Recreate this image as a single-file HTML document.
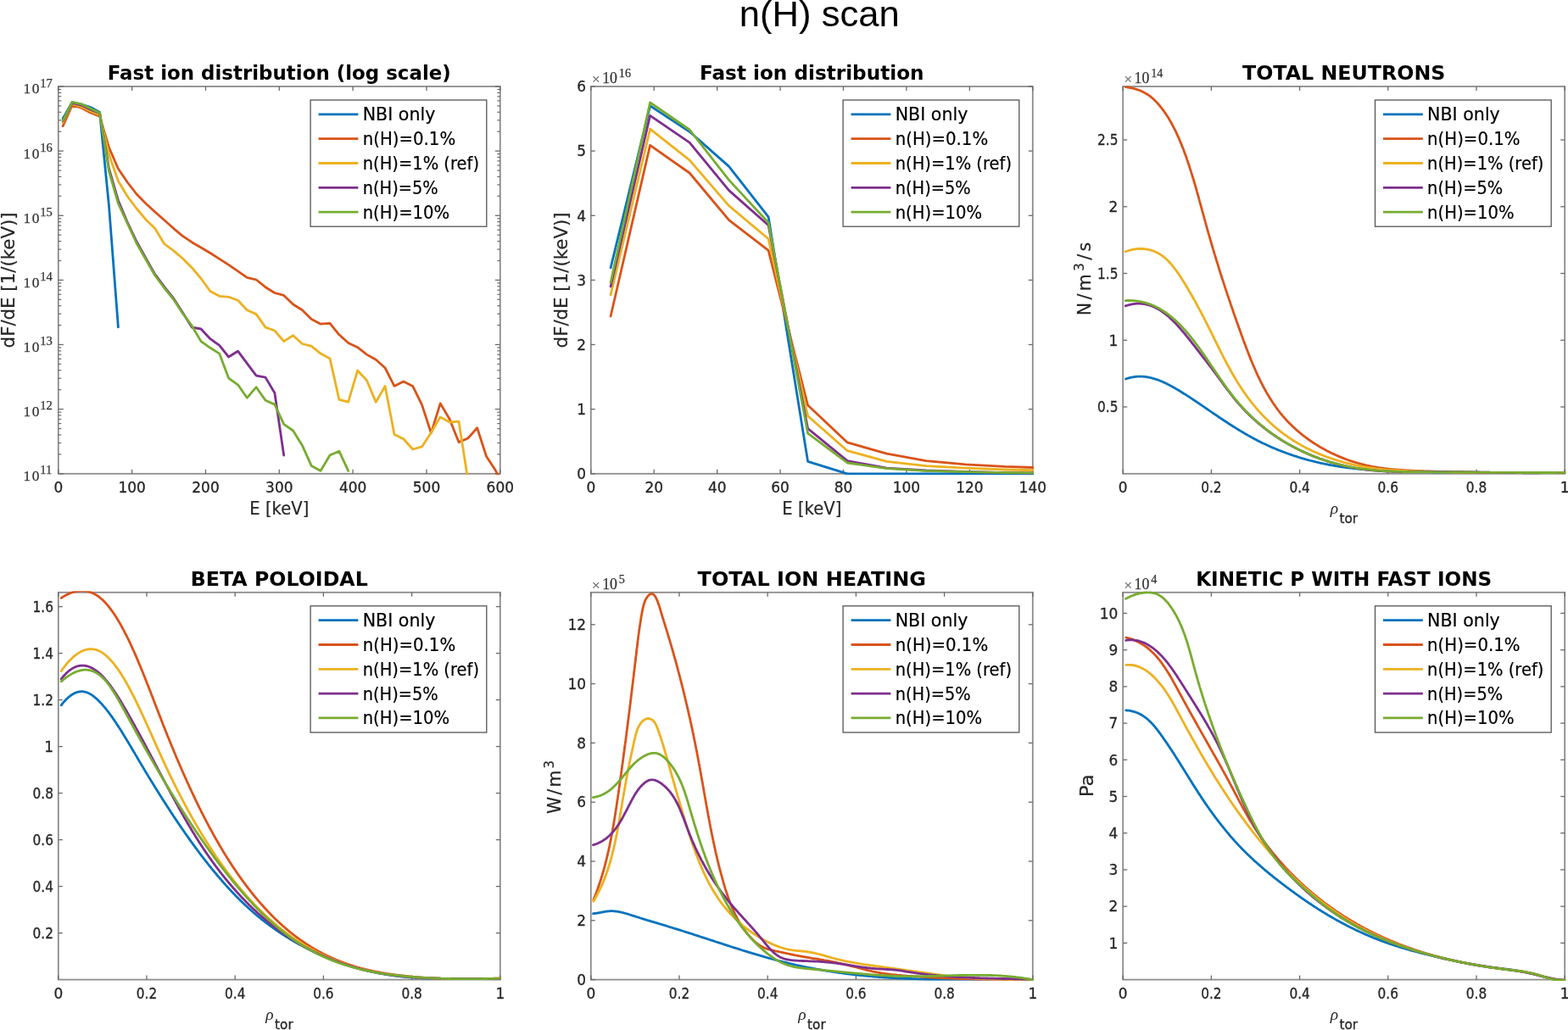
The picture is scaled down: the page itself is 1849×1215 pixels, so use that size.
<!DOCTYPE html><html><head><meta charset="utf-8"><title>n(H) scan</title><style>
html,body{margin:0;padding:0;background:#fff;}svg{display:block;}
.tk{font-family:'DejaVu Sans', 'Liberation Sans', sans-serif;font-size:17px;fill:#262626;stroke:#262626;stroke-width:0.3px;}
.ti{font-family:'DejaVu Sans', 'Liberation Sans', sans-serif;font-size:23px;font-weight:bold;fill:#000;}
.lg{font-family:'DejaVu Sans', 'Liberation Sans', sans-serif;font-size:21px;fill:#000;stroke:#000;stroke-width:0.2px;}
.yl{font-family:'DejaVu Sans', 'Liberation Sans', sans-serif;font-size:20.5px;fill:#262626;stroke:#262626;stroke-width:0.2px;}
.mu{font-family:'Liberation Serif', 'DejaVu Serif', serif;font-size:17.8px;fill:#333;stroke:#333;stroke-width:0.25px;}
.lt{font-family:'Liberation Serif', 'DejaVu Serif', serif;font-size:17.3px;fill:#333;stroke:#333;stroke-width:0.25px;}
.rho{font-family:'Liberation Serif', 'DejaVu Serif', serif;font-size:19.5px;font-style:italic;fill:#262626;}
.sub{font-family:'DejaVu Sans', 'Liberation Sans', sans-serif;font-size:16.3px;fill:#262626;stroke:#262626;stroke-width:0.3px;}
</style></head><body>
<svg width="1849" height="1215" viewBox="0 0 1849 1215">
<rect width="1849" height="1215" fill="#fff"/>
<text x="966.3" y="31.1" text-anchor="middle" font-family="'Liberation Sans', Arial, sans-serif" font-size="43.3px" fill="#000" textLength="189" lengthAdjust="spacingAndGlyphs">n(H) scan</text>
<rect x="68.8" y="102.0" width="521.0" height="456.8" fill="none" stroke="#8c8c8c" stroke-width="1.8"/>
<line x1="68.8" y1="558.8" x2="68.8" y2="553.8" stroke="#6a6a6a" stroke-width="1.3"/>
<line x1="68.8" y1="102.0" x2="68.8" y2="107.0" stroke="#6a6a6a" stroke-width="1.3"/>
<text x="68.8" y="581.3" text-anchor="middle" class="tk" textLength="10.8" lengthAdjust="spacingAndGlyphs">0</text>
<line x1="155.6" y1="558.8" x2="155.6" y2="553.8" stroke="#6a6a6a" stroke-width="1.3"/>
<line x1="155.6" y1="102.0" x2="155.6" y2="107.0" stroke="#6a6a6a" stroke-width="1.3"/>
<text x="155.6" y="581.3" text-anchor="middle" class="tk" textLength="32.4" lengthAdjust="spacingAndGlyphs">100</text>
<line x1="242.5" y1="558.8" x2="242.5" y2="553.8" stroke="#6a6a6a" stroke-width="1.3"/>
<line x1="242.5" y1="102.0" x2="242.5" y2="107.0" stroke="#6a6a6a" stroke-width="1.3"/>
<text x="242.5" y="581.3" text-anchor="middle" class="tk" textLength="32.4" lengthAdjust="spacingAndGlyphs">200</text>
<line x1="329.3" y1="558.8" x2="329.3" y2="553.8" stroke="#6a6a6a" stroke-width="1.3"/>
<line x1="329.3" y1="102.0" x2="329.3" y2="107.0" stroke="#6a6a6a" stroke-width="1.3"/>
<text x="329.3" y="581.3" text-anchor="middle" class="tk" textLength="32.4" lengthAdjust="spacingAndGlyphs">300</text>
<line x1="416.1" y1="558.8" x2="416.1" y2="553.8" stroke="#6a6a6a" stroke-width="1.3"/>
<line x1="416.1" y1="102.0" x2="416.1" y2="107.0" stroke="#6a6a6a" stroke-width="1.3"/>
<text x="416.1" y="581.3" text-anchor="middle" class="tk" textLength="32.4" lengthAdjust="spacingAndGlyphs">400</text>
<line x1="503.0" y1="558.8" x2="503.0" y2="553.8" stroke="#6a6a6a" stroke-width="1.3"/>
<line x1="503.0" y1="102.0" x2="503.0" y2="107.0" stroke="#6a6a6a" stroke-width="1.3"/>
<text x="503.0" y="581.3" text-anchor="middle" class="tk" textLength="32.4" lengthAdjust="spacingAndGlyphs">500</text>
<line x1="589.8" y1="558.8" x2="589.8" y2="553.8" stroke="#6a6a6a" stroke-width="1.3"/>
<line x1="589.8" y1="102.0" x2="589.8" y2="107.0" stroke="#6a6a6a" stroke-width="1.3"/>
<text x="589.8" y="581.3" text-anchor="middle" class="tk" textLength="32.4" lengthAdjust="spacingAndGlyphs">600</text>
<line x1="68.8" y1="558.8" x2="74.8" y2="558.8" stroke="#6a6a6a" stroke-width="1.3"/>
<line x1="589.8" y1="558.8" x2="583.8" y2="558.8" stroke="#6a6a6a" stroke-width="1.3"/>
<text x="27.4" y="567.2" class="lt"><tspan letter-spacing="1.6">10</tspan><tspan dy="-7.8" dx="-0.6" font-size="14.6px">11</tspan></text>
<line x1="68.8" y1="535.9" x2="72.3" y2="535.9" stroke="#6a6a6a" stroke-width="1.2"/>
<line x1="589.8" y1="535.9" x2="586.3" y2="535.9" stroke="#6a6a6a" stroke-width="1.2"/>
<line x1="68.8" y1="522.5" x2="72.3" y2="522.5" stroke="#6a6a6a" stroke-width="1.2"/>
<line x1="589.8" y1="522.5" x2="586.3" y2="522.5" stroke="#6a6a6a" stroke-width="1.2"/>
<line x1="68.8" y1="513.0" x2="72.3" y2="513.0" stroke="#6a6a6a" stroke-width="1.2"/>
<line x1="589.8" y1="513.0" x2="586.3" y2="513.0" stroke="#6a6a6a" stroke-width="1.2"/>
<line x1="68.8" y1="505.6" x2="72.3" y2="505.6" stroke="#6a6a6a" stroke-width="1.2"/>
<line x1="589.8" y1="505.6" x2="586.3" y2="505.6" stroke="#6a6a6a" stroke-width="1.2"/>
<line x1="68.8" y1="499.6" x2="72.3" y2="499.6" stroke="#6a6a6a" stroke-width="1.2"/>
<line x1="589.8" y1="499.6" x2="586.3" y2="499.6" stroke="#6a6a6a" stroke-width="1.2"/>
<line x1="68.8" y1="494.5" x2="72.3" y2="494.5" stroke="#6a6a6a" stroke-width="1.2"/>
<line x1="589.8" y1="494.5" x2="586.3" y2="494.5" stroke="#6a6a6a" stroke-width="1.2"/>
<line x1="68.8" y1="490.0" x2="72.3" y2="490.0" stroke="#6a6a6a" stroke-width="1.2"/>
<line x1="589.8" y1="490.0" x2="586.3" y2="490.0" stroke="#6a6a6a" stroke-width="1.2"/>
<line x1="68.8" y1="486.2" x2="72.3" y2="486.2" stroke="#6a6a6a" stroke-width="1.2"/>
<line x1="589.8" y1="486.2" x2="586.3" y2="486.2" stroke="#6a6a6a" stroke-width="1.2"/>
<line x1="68.8" y1="482.7" x2="74.8" y2="482.7" stroke="#6a6a6a" stroke-width="1.3"/>
<line x1="589.8" y1="482.7" x2="583.8" y2="482.7" stroke="#6a6a6a" stroke-width="1.3"/>
<text x="27.4" y="491.1" class="lt"><tspan letter-spacing="1.6">10</tspan><tspan dy="-7.8" dx="-0.6" font-size="14.6px">12</tspan></text>
<line x1="68.8" y1="459.7" x2="72.3" y2="459.7" stroke="#6a6a6a" stroke-width="1.2"/>
<line x1="589.8" y1="459.7" x2="586.3" y2="459.7" stroke="#6a6a6a" stroke-width="1.2"/>
<line x1="68.8" y1="446.3" x2="72.3" y2="446.3" stroke="#6a6a6a" stroke-width="1.2"/>
<line x1="589.8" y1="446.3" x2="586.3" y2="446.3" stroke="#6a6a6a" stroke-width="1.2"/>
<line x1="68.8" y1="436.8" x2="72.3" y2="436.8" stroke="#6a6a6a" stroke-width="1.2"/>
<line x1="589.8" y1="436.8" x2="586.3" y2="436.8" stroke="#6a6a6a" stroke-width="1.2"/>
<line x1="68.8" y1="429.5" x2="72.3" y2="429.5" stroke="#6a6a6a" stroke-width="1.2"/>
<line x1="589.8" y1="429.5" x2="586.3" y2="429.5" stroke="#6a6a6a" stroke-width="1.2"/>
<line x1="68.8" y1="423.4" x2="72.3" y2="423.4" stroke="#6a6a6a" stroke-width="1.2"/>
<line x1="589.8" y1="423.4" x2="586.3" y2="423.4" stroke="#6a6a6a" stroke-width="1.2"/>
<line x1="68.8" y1="418.3" x2="72.3" y2="418.3" stroke="#6a6a6a" stroke-width="1.2"/>
<line x1="589.8" y1="418.3" x2="586.3" y2="418.3" stroke="#6a6a6a" stroke-width="1.2"/>
<line x1="68.8" y1="413.9" x2="72.3" y2="413.9" stroke="#6a6a6a" stroke-width="1.2"/>
<line x1="589.8" y1="413.9" x2="586.3" y2="413.9" stroke="#6a6a6a" stroke-width="1.2"/>
<line x1="68.8" y1="410.0" x2="72.3" y2="410.0" stroke="#6a6a6a" stroke-width="1.2"/>
<line x1="589.8" y1="410.0" x2="586.3" y2="410.0" stroke="#6a6a6a" stroke-width="1.2"/>
<line x1="68.8" y1="406.5" x2="74.8" y2="406.5" stroke="#6a6a6a" stroke-width="1.3"/>
<line x1="589.8" y1="406.5" x2="583.8" y2="406.5" stroke="#6a6a6a" stroke-width="1.3"/>
<text x="27.4" y="414.9" class="lt"><tspan letter-spacing="1.6">10</tspan><tspan dy="-7.8" dx="-0.6" font-size="14.6px">13</tspan></text>
<line x1="68.8" y1="383.6" x2="72.3" y2="383.6" stroke="#6a6a6a" stroke-width="1.2"/>
<line x1="589.8" y1="383.6" x2="586.3" y2="383.6" stroke="#6a6a6a" stroke-width="1.2"/>
<line x1="68.8" y1="370.2" x2="72.3" y2="370.2" stroke="#6a6a6a" stroke-width="1.2"/>
<line x1="589.8" y1="370.2" x2="586.3" y2="370.2" stroke="#6a6a6a" stroke-width="1.2"/>
<line x1="68.8" y1="360.7" x2="72.3" y2="360.7" stroke="#6a6a6a" stroke-width="1.2"/>
<line x1="589.8" y1="360.7" x2="586.3" y2="360.7" stroke="#6a6a6a" stroke-width="1.2"/>
<line x1="68.8" y1="353.3" x2="72.3" y2="353.3" stroke="#6a6a6a" stroke-width="1.2"/>
<line x1="589.8" y1="353.3" x2="586.3" y2="353.3" stroke="#6a6a6a" stroke-width="1.2"/>
<line x1="68.8" y1="347.3" x2="72.3" y2="347.3" stroke="#6a6a6a" stroke-width="1.2"/>
<line x1="589.8" y1="347.3" x2="586.3" y2="347.3" stroke="#6a6a6a" stroke-width="1.2"/>
<line x1="68.8" y1="342.2" x2="72.3" y2="342.2" stroke="#6a6a6a" stroke-width="1.2"/>
<line x1="589.8" y1="342.2" x2="586.3" y2="342.2" stroke="#6a6a6a" stroke-width="1.2"/>
<line x1="68.8" y1="337.8" x2="72.3" y2="337.8" stroke="#6a6a6a" stroke-width="1.2"/>
<line x1="589.8" y1="337.8" x2="586.3" y2="337.8" stroke="#6a6a6a" stroke-width="1.2"/>
<line x1="68.8" y1="333.9" x2="72.3" y2="333.9" stroke="#6a6a6a" stroke-width="1.2"/>
<line x1="589.8" y1="333.9" x2="586.3" y2="333.9" stroke="#6a6a6a" stroke-width="1.2"/>
<line x1="68.8" y1="330.4" x2="74.8" y2="330.4" stroke="#6a6a6a" stroke-width="1.3"/>
<line x1="589.8" y1="330.4" x2="583.8" y2="330.4" stroke="#6a6a6a" stroke-width="1.3"/>
<text x="27.4" y="338.8" class="lt"><tspan letter-spacing="1.6">10</tspan><tspan dy="-7.8" dx="-0.6" font-size="14.6px">14</tspan></text>
<line x1="68.8" y1="307.5" x2="72.3" y2="307.5" stroke="#6a6a6a" stroke-width="1.2"/>
<line x1="589.8" y1="307.5" x2="586.3" y2="307.5" stroke="#6a6a6a" stroke-width="1.2"/>
<line x1="68.8" y1="294.1" x2="72.3" y2="294.1" stroke="#6a6a6a" stroke-width="1.2"/>
<line x1="589.8" y1="294.1" x2="586.3" y2="294.1" stroke="#6a6a6a" stroke-width="1.2"/>
<line x1="68.8" y1="284.6" x2="72.3" y2="284.6" stroke="#6a6a6a" stroke-width="1.2"/>
<line x1="589.8" y1="284.6" x2="586.3" y2="284.6" stroke="#6a6a6a" stroke-width="1.2"/>
<line x1="68.8" y1="277.2" x2="72.3" y2="277.2" stroke="#6a6a6a" stroke-width="1.2"/>
<line x1="589.8" y1="277.2" x2="586.3" y2="277.2" stroke="#6a6a6a" stroke-width="1.2"/>
<line x1="68.8" y1="271.2" x2="72.3" y2="271.2" stroke="#6a6a6a" stroke-width="1.2"/>
<line x1="589.8" y1="271.2" x2="586.3" y2="271.2" stroke="#6a6a6a" stroke-width="1.2"/>
<line x1="68.8" y1="266.1" x2="72.3" y2="266.1" stroke="#6a6a6a" stroke-width="1.2"/>
<line x1="589.8" y1="266.1" x2="586.3" y2="266.1" stroke="#6a6a6a" stroke-width="1.2"/>
<line x1="68.8" y1="261.6" x2="72.3" y2="261.6" stroke="#6a6a6a" stroke-width="1.2"/>
<line x1="589.8" y1="261.6" x2="586.3" y2="261.6" stroke="#6a6a6a" stroke-width="1.2"/>
<line x1="68.8" y1="257.8" x2="72.3" y2="257.8" stroke="#6a6a6a" stroke-width="1.2"/>
<line x1="589.8" y1="257.8" x2="586.3" y2="257.8" stroke="#6a6a6a" stroke-width="1.2"/>
<line x1="68.8" y1="254.3" x2="74.8" y2="254.3" stroke="#6a6a6a" stroke-width="1.3"/>
<line x1="589.8" y1="254.3" x2="583.8" y2="254.3" stroke="#6a6a6a" stroke-width="1.3"/>
<text x="27.4" y="262.7" class="lt"><tspan letter-spacing="1.6">10</tspan><tspan dy="-7.8" dx="-0.6" font-size="14.6px">15</tspan></text>
<line x1="68.8" y1="231.3" x2="72.3" y2="231.3" stroke="#6a6a6a" stroke-width="1.2"/>
<line x1="589.8" y1="231.3" x2="586.3" y2="231.3" stroke="#6a6a6a" stroke-width="1.2"/>
<line x1="68.8" y1="217.9" x2="72.3" y2="217.9" stroke="#6a6a6a" stroke-width="1.2"/>
<line x1="589.8" y1="217.9" x2="586.3" y2="217.9" stroke="#6a6a6a" stroke-width="1.2"/>
<line x1="68.8" y1="208.4" x2="72.3" y2="208.4" stroke="#6a6a6a" stroke-width="1.2"/>
<line x1="589.8" y1="208.4" x2="586.3" y2="208.4" stroke="#6a6a6a" stroke-width="1.2"/>
<line x1="68.8" y1="201.1" x2="72.3" y2="201.1" stroke="#6a6a6a" stroke-width="1.2"/>
<line x1="589.8" y1="201.1" x2="586.3" y2="201.1" stroke="#6a6a6a" stroke-width="1.2"/>
<line x1="68.8" y1="195.0" x2="72.3" y2="195.0" stroke="#6a6a6a" stroke-width="1.2"/>
<line x1="589.8" y1="195.0" x2="586.3" y2="195.0" stroke="#6a6a6a" stroke-width="1.2"/>
<line x1="68.8" y1="189.9" x2="72.3" y2="189.9" stroke="#6a6a6a" stroke-width="1.2"/>
<line x1="589.8" y1="189.9" x2="586.3" y2="189.9" stroke="#6a6a6a" stroke-width="1.2"/>
<line x1="68.8" y1="185.5" x2="72.3" y2="185.5" stroke="#6a6a6a" stroke-width="1.2"/>
<line x1="589.8" y1="185.5" x2="586.3" y2="185.5" stroke="#6a6a6a" stroke-width="1.2"/>
<line x1="68.8" y1="181.6" x2="72.3" y2="181.6" stroke="#6a6a6a" stroke-width="1.2"/>
<line x1="589.8" y1="181.6" x2="586.3" y2="181.6" stroke="#6a6a6a" stroke-width="1.2"/>
<line x1="68.8" y1="178.1" x2="74.8" y2="178.1" stroke="#6a6a6a" stroke-width="1.3"/>
<line x1="589.8" y1="178.1" x2="583.8" y2="178.1" stroke="#6a6a6a" stroke-width="1.3"/>
<text x="27.4" y="186.5" class="lt"><tspan letter-spacing="1.6">10</tspan><tspan dy="-7.8" dx="-0.6" font-size="14.6px">16</tspan></text>
<line x1="68.8" y1="155.2" x2="72.3" y2="155.2" stroke="#6a6a6a" stroke-width="1.2"/>
<line x1="589.8" y1="155.2" x2="586.3" y2="155.2" stroke="#6a6a6a" stroke-width="1.2"/>
<line x1="68.8" y1="141.8" x2="72.3" y2="141.8" stroke="#6a6a6a" stroke-width="1.2"/>
<line x1="589.8" y1="141.8" x2="586.3" y2="141.8" stroke="#6a6a6a" stroke-width="1.2"/>
<line x1="68.8" y1="132.3" x2="72.3" y2="132.3" stroke="#6a6a6a" stroke-width="1.2"/>
<line x1="589.8" y1="132.3" x2="586.3" y2="132.3" stroke="#6a6a6a" stroke-width="1.2"/>
<line x1="68.8" y1="124.9" x2="72.3" y2="124.9" stroke="#6a6a6a" stroke-width="1.2"/>
<line x1="589.8" y1="124.9" x2="586.3" y2="124.9" stroke="#6a6a6a" stroke-width="1.2"/>
<line x1="68.8" y1="118.9" x2="72.3" y2="118.9" stroke="#6a6a6a" stroke-width="1.2"/>
<line x1="589.8" y1="118.9" x2="586.3" y2="118.9" stroke="#6a6a6a" stroke-width="1.2"/>
<line x1="68.8" y1="113.8" x2="72.3" y2="113.8" stroke="#6a6a6a" stroke-width="1.2"/>
<line x1="589.8" y1="113.8" x2="586.3" y2="113.8" stroke="#6a6a6a" stroke-width="1.2"/>
<line x1="68.8" y1="109.4" x2="72.3" y2="109.4" stroke="#6a6a6a" stroke-width="1.2"/>
<line x1="589.8" y1="109.4" x2="586.3" y2="109.4" stroke="#6a6a6a" stroke-width="1.2"/>
<line x1="68.8" y1="105.5" x2="72.3" y2="105.5" stroke="#6a6a6a" stroke-width="1.2"/>
<line x1="589.8" y1="105.5" x2="586.3" y2="105.5" stroke="#6a6a6a" stroke-width="1.2"/>
<line x1="68.8" y1="102.0" x2="74.8" y2="102.0" stroke="#6a6a6a" stroke-width="1.3"/>
<line x1="589.8" y1="102.0" x2="583.8" y2="102.0" stroke="#6a6a6a" stroke-width="1.3"/>
<text x="27.4" y="110.4" class="lt"><tspan letter-spacing="1.6">10</tspan><tspan dy="-7.8" dx="-0.6" font-size="14.6px">17</tspan></text>
<clipPath id="c0"><rect x="67.8" y="100.5" width="523.0" height="459.8"/></clipPath>
<g clip-path="url(#c0)" fill="none" stroke-width="2.8" stroke-linejoin="round" stroke-linecap="round">
<path d="M74.2,139.8 L85.1,120.6 L95.9,123.0 L106.8,126.5 L117.6,132.5 L128.5,243.0 L139.4,385.8" stroke="#0072BD"/>
<path d="M74.2,148.6 L85.1,124.3 L95.9,127.2 L106.8,132.9 L117.6,137.1 L128.5,174.0 L139.4,199.0 L150.2,215.0 L161.1,229.0 L171.9,240.0 L182.8,250.0 L193.6,259.5 L204.5,269.3 L215.3,278.3 L226.2,285.7 L237.0,292.0 L247.9,298.5 L258.7,305.4 L269.6,312.4 L280.5,319.8 L291.3,327.3 L302.2,330.0 L313.0,338.7 L323.9,345.5 L334.7,348.4 L345.6,359.0 L356.4,365.8 L367.3,376.4 L378.1,382.2 L389.0,381.3 L399.9,394.8 L410.7,404.5 L421.6,409.7 L432.4,418.1 L443.3,424.2 L454.1,434.0 L465.0,455.4 L475.8,450.0 L486.7,455.4 L497.5,477.4 L508.4,510.9 L519.2,475.9 L530.1,494.2 L541.0,521.6 L551.8,517.0 L562.7,504.8 L573.5,538.3 L584.4,555.1 L595.2,575.0" stroke="#D95319"/>
<path d="M74.2,144.4 L85.1,122.7 L95.9,125.9 L106.8,131.1 L117.6,135.4 L128.5,182.5 L139.4,213.5 L150.2,231.5 L161.1,246.0 L171.9,258.9 L182.8,269.5 L193.6,287.5 L204.5,295.6 L215.3,304.8 L226.2,315.7 L237.0,328.5 L247.9,343.5 L258.7,349.3 L269.6,350.3 L280.5,354.2 L291.3,365.8 L302.2,370.6 L313.0,386.1 L323.9,390.0 L334.7,402.6 L345.6,395.8 L356.4,405.5 L367.3,408.4 L378.1,417.1 L389.0,422.9 L399.9,471.3 L410.7,474.2 L421.6,437.1 L432.4,448.5 L443.3,474.4 L454.1,455.4 L465.0,512.5 L475.8,517.8 L486.7,530.0 L497.5,526.9 L508.4,510.2 L519.2,491.9 L530.1,498.0 L541.0,497.2 L551.8,566.0" stroke="#EDB120"/>
<path d="M74.2,142.9 L85.1,121.5 L95.9,124.1 L106.8,129.2 L117.6,133.6 L128.5,199.0 L139.4,236.5 L150.2,262.2 L161.1,285.0 L171.9,304.5 L182.8,323.7 L193.6,338.2 L204.5,351.7 L215.3,368.5 L226.2,386.1 L237.0,388.0 L247.9,399.7 L258.7,407.4 L269.6,421.0 L280.5,414.2 L291.3,428.7 L302.2,443.2 L313.0,445.1 L323.9,463.5 L334.7,537.0" stroke="#7E2F8E"/>
<path d="M74.2,142.3 L85.1,120.3 L95.9,122.8 L106.8,128.0 L117.6,133.2 L128.5,202.0 L139.4,240.0 L150.2,263.5 L161.1,287.0 L171.9,306.0 L182.8,325.0 L193.6,339.5 L204.5,353.0 L215.3,369.5 L226.2,384.2 L237.0,402.6 L247.9,410.3 L258.7,417.1 L269.6,446.1 L280.5,453.8 L291.3,469.3 L302.2,456.7 L313.0,472.2 L323.9,477.1 L334.7,500.3 L345.6,508.0 L356.4,525.4 L367.3,549.6 L378.1,555.4 L389.0,537.0 L399.9,532.2 L410.7,555.4" stroke="#77AC30"/>
</g>
<text x="329.3" y="93.8" text-anchor="middle" class="ti" textLength="405" lengthAdjust="spacingAndGlyphs">Fast ion distribution (log scale)</text>
<text x="329.3" y="606.8" text-anchor="middle" class="yl" textLength="70" lengthAdjust="spacingAndGlyphs">E [keV]</text>
<text transform="translate(17.0,330.4) rotate(-90)" text-anchor="middle" class="yl" textLength="160" lengthAdjust="spacingAndGlyphs">dF/dE [1/(keV)]</text>
<rect x="366.1" y="118.0" width="207.7" height="149.2" fill="#fff" stroke="#555" stroke-width="1.3"/>
<line x1="375.6" y1="134.9" x2="422.4" y2="134.9" stroke="#0072BD" stroke-width="2.8"/>
<text x="427.7" y="142.3" class="lg" textLength="85.7" lengthAdjust="spacingAndGlyphs">NBI only</text>
<line x1="375.6" y1="163.7" x2="422.4" y2="163.7" stroke="#D95319" stroke-width="2.8"/>
<text x="427.7" y="171.1" class="lg" textLength="109.5" lengthAdjust="spacingAndGlyphs">n(H)=0.1%</text>
<line x1="375.6" y1="192.5" x2="422.4" y2="192.5" stroke="#EDB120" stroke-width="2.8"/>
<text x="427.7" y="199.9" class="lg" textLength="137.3" lengthAdjust="spacingAndGlyphs">n(H)=1% (ref)</text>
<line x1="375.6" y1="221.3" x2="422.4" y2="221.3" stroke="#7E2F8E" stroke-width="2.8"/>
<text x="427.7" y="228.7" class="lg" textLength="89.1" lengthAdjust="spacingAndGlyphs">n(H)=5%</text>
<line x1="375.6" y1="250.1" x2="422.4" y2="250.1" stroke="#77AC30" stroke-width="2.8"/>
<text x="427.7" y="257.5" class="lg" textLength="102.5" lengthAdjust="spacingAndGlyphs">n(H)=10%</text>
<rect x="696.8" y="102.0" width="521.0" height="456.8" fill="none" stroke="#8c8c8c" stroke-width="1.8"/>
<line x1="696.8" y1="558.8" x2="696.8" y2="553.8" stroke="#6a6a6a" stroke-width="1.3"/>
<line x1="696.8" y1="102.0" x2="696.8" y2="107.0" stroke="#6a6a6a" stroke-width="1.3"/>
<text x="696.8" y="581.3" text-anchor="middle" class="tk" textLength="10.8" lengthAdjust="spacingAndGlyphs">0</text>
<line x1="771.2" y1="558.8" x2="771.2" y2="553.8" stroke="#6a6a6a" stroke-width="1.3"/>
<line x1="771.2" y1="102.0" x2="771.2" y2="107.0" stroke="#6a6a6a" stroke-width="1.3"/>
<text x="771.2" y="581.3" text-anchor="middle" class="tk" textLength="21.6" lengthAdjust="spacingAndGlyphs">20</text>
<line x1="845.7" y1="558.8" x2="845.7" y2="553.8" stroke="#6a6a6a" stroke-width="1.3"/>
<line x1="845.7" y1="102.0" x2="845.7" y2="107.0" stroke="#6a6a6a" stroke-width="1.3"/>
<text x="845.7" y="581.3" text-anchor="middle" class="tk" textLength="21.6" lengthAdjust="spacingAndGlyphs">40</text>
<line x1="920.1" y1="558.8" x2="920.1" y2="553.8" stroke="#6a6a6a" stroke-width="1.3"/>
<line x1="920.1" y1="102.0" x2="920.1" y2="107.0" stroke="#6a6a6a" stroke-width="1.3"/>
<text x="920.1" y="581.3" text-anchor="middle" class="tk" textLength="21.6" lengthAdjust="spacingAndGlyphs">60</text>
<line x1="994.5" y1="558.8" x2="994.5" y2="553.8" stroke="#6a6a6a" stroke-width="1.3"/>
<line x1="994.5" y1="102.0" x2="994.5" y2="107.0" stroke="#6a6a6a" stroke-width="1.3"/>
<text x="994.5" y="581.3" text-anchor="middle" class="tk" textLength="21.6" lengthAdjust="spacingAndGlyphs">80</text>
<line x1="1068.9" y1="558.8" x2="1068.9" y2="553.8" stroke="#6a6a6a" stroke-width="1.3"/>
<line x1="1068.9" y1="102.0" x2="1068.9" y2="107.0" stroke="#6a6a6a" stroke-width="1.3"/>
<text x="1068.9" y="581.3" text-anchor="middle" class="tk" textLength="32.4" lengthAdjust="spacingAndGlyphs">100</text>
<line x1="1143.4" y1="558.8" x2="1143.4" y2="553.8" stroke="#6a6a6a" stroke-width="1.3"/>
<line x1="1143.4" y1="102.0" x2="1143.4" y2="107.0" stroke="#6a6a6a" stroke-width="1.3"/>
<text x="1143.4" y="581.3" text-anchor="middle" class="tk" textLength="32.4" lengthAdjust="spacingAndGlyphs">120</text>
<line x1="1217.8" y1="558.8" x2="1217.8" y2="553.8" stroke="#6a6a6a" stroke-width="1.3"/>
<line x1="1217.8" y1="102.0" x2="1217.8" y2="107.0" stroke="#6a6a6a" stroke-width="1.3"/>
<text x="1217.8" y="581.3" text-anchor="middle" class="tk" textLength="32.4" lengthAdjust="spacingAndGlyphs">140</text>
<line x1="696.8" y1="558.8" x2="701.8" y2="558.8" stroke="#6a6a6a" stroke-width="1.3"/>
<line x1="1217.8" y1="558.8" x2="1212.8" y2="558.8" stroke="#6a6a6a" stroke-width="1.3"/>
<text x="691.0" y="565.0" text-anchor="end" class="tk" textLength="10.8" lengthAdjust="spacingAndGlyphs">0</text>
<line x1="696.8" y1="482.7" x2="701.8" y2="482.7" stroke="#6a6a6a" stroke-width="1.3"/>
<line x1="1217.8" y1="482.7" x2="1212.8" y2="482.7" stroke="#6a6a6a" stroke-width="1.3"/>
<text x="691.0" y="488.9" text-anchor="end" class="tk" textLength="10.8" lengthAdjust="spacingAndGlyphs">1</text>
<line x1="696.8" y1="406.5" x2="701.8" y2="406.5" stroke="#6a6a6a" stroke-width="1.3"/>
<line x1="1217.8" y1="406.5" x2="1212.8" y2="406.5" stroke="#6a6a6a" stroke-width="1.3"/>
<text x="691.0" y="412.7" text-anchor="end" class="tk" textLength="10.8" lengthAdjust="spacingAndGlyphs">2</text>
<line x1="696.8" y1="330.4" x2="701.8" y2="330.4" stroke="#6a6a6a" stroke-width="1.3"/>
<line x1="1217.8" y1="330.4" x2="1212.8" y2="330.4" stroke="#6a6a6a" stroke-width="1.3"/>
<text x="691.0" y="336.6" text-anchor="end" class="tk" textLength="10.8" lengthAdjust="spacingAndGlyphs">3</text>
<line x1="696.8" y1="254.3" x2="701.8" y2="254.3" stroke="#6a6a6a" stroke-width="1.3"/>
<line x1="1217.8" y1="254.3" x2="1212.8" y2="254.3" stroke="#6a6a6a" stroke-width="1.3"/>
<text x="691.0" y="260.5" text-anchor="end" class="tk" textLength="10.8" lengthAdjust="spacingAndGlyphs">4</text>
<line x1="696.8" y1="178.1" x2="701.8" y2="178.1" stroke="#6a6a6a" stroke-width="1.3"/>
<line x1="1217.8" y1="178.1" x2="1212.8" y2="178.1" stroke="#6a6a6a" stroke-width="1.3"/>
<text x="691.0" y="184.3" text-anchor="end" class="tk" textLength="10.8" lengthAdjust="spacingAndGlyphs">5</text>
<line x1="696.8" y1="102.0" x2="701.8" y2="102.0" stroke="#6a6a6a" stroke-width="1.3"/>
<line x1="1217.8" y1="102.0" x2="1212.8" y2="102.0" stroke="#6a6a6a" stroke-width="1.3"/>
<text x="691.0" y="108.2" text-anchor="end" class="tk" textLength="10.8" lengthAdjust="spacingAndGlyphs">6</text>
<clipPath id="c1"><rect x="695.8" y="100.5" width="523.0" height="459.8"/></clipPath>
<g clip-path="url(#c1)" fill="none" stroke-width="2.8" stroke-linejoin="round" stroke-linecap="round">
<path d="M720.1,315.9 L766.6,124.8 L813.1,155.3 L859.6,196.4 L906.1,255.8 L952.6,544.3 L999.2,558.8 L1045.7,558.8 L1092.2,558.8 L1138.7,558.8 L1185.2,558.8 L1231.8,558.8" stroke="#0072BD"/>
<path d="M720.1,373.0 L766.6,171.3 L813.1,204.0 L859.6,259.6 L906.1,295.4 L952.6,478.1 L999.2,521.9 L1045.7,535.2 L1092.2,543.6 L1138.7,547.8 L1185.2,550.4 L1231.8,551.9" stroke="#D95319"/>
<path d="M720.1,347.9 L766.6,152.2 L813.1,188.8 L859.6,242.8 L906.1,281.7 L952.6,490.7 L999.2,531.7 L1045.7,544.3 L1092.2,549.7 L1138.7,552.2 L1185.2,554.0 L1231.8,555.0" stroke="#EDB120"/>
<path d="M720.1,338.0 L766.6,136.3 L813.1,168.2 L859.6,224.6 L906.1,265.7 L952.6,505.5 L999.2,543.6 L1045.7,552.2 L1092.2,555.0 L1138.7,556.5 L1185.2,557.6 L1231.8,558.0" stroke="#7E2F8E"/>
<path d="M720.1,333.4 L766.6,121.0 L813.1,153.0 L859.6,212.4 L906.1,262.6 L952.6,511.2 L999.2,546.0 L1045.7,552.7 L1092.2,555.4 L1138.7,556.7 L1185.2,557.7 L1231.8,558.0" stroke="#77AC30"/>
</g>
<text x="957.3" y="93.8" text-anchor="middle" class="ti" textLength="264.5" lengthAdjust="spacingAndGlyphs">Fast ion distribution</text>
<text x="957.3" y="606.8" text-anchor="middle" class="yl" textLength="70" lengthAdjust="spacingAndGlyphs">E [keV]</text>
<text transform="translate(668.8,330.4) rotate(-90)" text-anchor="middle" class="yl" textLength="160" lengthAdjust="spacingAndGlyphs">dF/dE [1/(keV)]</text>
<text x="698.0" y="98.1" class="mu"><tspan fill="#8a8a8a" font-size="17px" dy="0.6">&#215;</tspan><tspan x="710.2" dy="-0.6">10</tspan><tspan dy="-7.2" dx="1.8" font-size="14.2px">16</tspan></text>
<rect x="994.1" y="118.0" width="207.7" height="149.2" fill="#fff" stroke="#555" stroke-width="1.3"/>
<line x1="1003.6" y1="134.9" x2="1050.4" y2="134.9" stroke="#0072BD" stroke-width="2.8"/>
<text x="1055.7" y="142.3" class="lg" textLength="85.7" lengthAdjust="spacingAndGlyphs">NBI only</text>
<line x1="1003.6" y1="163.7" x2="1050.4" y2="163.7" stroke="#D95319" stroke-width="2.8"/>
<text x="1055.7" y="171.1" class="lg" textLength="109.5" lengthAdjust="spacingAndGlyphs">n(H)=0.1%</text>
<line x1="1003.6" y1="192.5" x2="1050.4" y2="192.5" stroke="#EDB120" stroke-width="2.8"/>
<text x="1055.7" y="199.9" class="lg" textLength="137.3" lengthAdjust="spacingAndGlyphs">n(H)=1% (ref)</text>
<line x1="1003.6" y1="221.3" x2="1050.4" y2="221.3" stroke="#7E2F8E" stroke-width="2.8"/>
<text x="1055.7" y="228.7" class="lg" textLength="89.1" lengthAdjust="spacingAndGlyphs">n(H)=5%</text>
<line x1="1003.6" y1="250.1" x2="1050.4" y2="250.1" stroke="#77AC30" stroke-width="2.8"/>
<text x="1055.7" y="257.5" class="lg" textLength="102.5" lengthAdjust="spacingAndGlyphs">n(H)=10%</text>
<rect x="1324.2" y="102.0" width="521.0" height="456.8" fill="none" stroke="#8c8c8c" stroke-width="1.8"/>
<line x1="1324.2" y1="558.8" x2="1324.2" y2="553.8" stroke="#6a6a6a" stroke-width="1.3"/>
<line x1="1324.2" y1="102.0" x2="1324.2" y2="107.0" stroke="#6a6a6a" stroke-width="1.3"/>
<text x="1324.2" y="581.3" text-anchor="middle" class="tk" textLength="10.8" lengthAdjust="spacingAndGlyphs">0</text>
<line x1="1428.4" y1="558.8" x2="1428.4" y2="553.8" stroke="#6a6a6a" stroke-width="1.3"/>
<line x1="1428.4" y1="102.0" x2="1428.4" y2="107.0" stroke="#6a6a6a" stroke-width="1.3"/>
<text x="1428.4" y="581.3" text-anchor="middle" class="tk" textLength="24.4" lengthAdjust="spacingAndGlyphs">0.2</text>
<line x1="1532.6" y1="558.8" x2="1532.6" y2="553.8" stroke="#6a6a6a" stroke-width="1.3"/>
<line x1="1532.6" y1="102.0" x2="1532.6" y2="107.0" stroke="#6a6a6a" stroke-width="1.3"/>
<text x="1532.6" y="581.3" text-anchor="middle" class="tk" textLength="24.4" lengthAdjust="spacingAndGlyphs">0.4</text>
<line x1="1636.8" y1="558.8" x2="1636.8" y2="553.8" stroke="#6a6a6a" stroke-width="1.3"/>
<line x1="1636.8" y1="102.0" x2="1636.8" y2="107.0" stroke="#6a6a6a" stroke-width="1.3"/>
<text x="1636.8" y="581.3" text-anchor="middle" class="tk" textLength="24.4" lengthAdjust="spacingAndGlyphs">0.6</text>
<line x1="1741.0" y1="558.8" x2="1741.0" y2="553.8" stroke="#6a6a6a" stroke-width="1.3"/>
<line x1="1741.0" y1="102.0" x2="1741.0" y2="107.0" stroke="#6a6a6a" stroke-width="1.3"/>
<text x="1741.0" y="581.3" text-anchor="middle" class="tk" textLength="24.4" lengthAdjust="spacingAndGlyphs">0.8</text>
<line x1="1845.2" y1="558.8" x2="1845.2" y2="553.8" stroke="#6a6a6a" stroke-width="1.3"/>
<line x1="1845.2" y1="102.0" x2="1845.2" y2="107.0" stroke="#6a6a6a" stroke-width="1.3"/>
<text x="1845.2" y="581.3" text-anchor="middle" class="tk" textLength="10.8" lengthAdjust="spacingAndGlyphs">1</text>
<line x1="1324.2" y1="480.0" x2="1329.2" y2="480.0" stroke="#6a6a6a" stroke-width="1.3"/>
<line x1="1845.2" y1="480.0" x2="1840.2" y2="480.0" stroke="#6a6a6a" stroke-width="1.3"/>
<text x="1318.4" y="486.2" text-anchor="end" class="tk" textLength="24.4" lengthAdjust="spacingAndGlyphs">0.5</text>
<line x1="1324.2" y1="401.3" x2="1329.2" y2="401.3" stroke="#6a6a6a" stroke-width="1.3"/>
<line x1="1845.2" y1="401.3" x2="1840.2" y2="401.3" stroke="#6a6a6a" stroke-width="1.3"/>
<text x="1318.4" y="407.5" text-anchor="end" class="tk" textLength="10.8" lengthAdjust="spacingAndGlyphs">1</text>
<line x1="1324.2" y1="322.5" x2="1329.2" y2="322.5" stroke="#6a6a6a" stroke-width="1.3"/>
<line x1="1845.2" y1="322.5" x2="1840.2" y2="322.5" stroke="#6a6a6a" stroke-width="1.3"/>
<text x="1318.4" y="328.7" text-anchor="end" class="tk" textLength="24.4" lengthAdjust="spacingAndGlyphs">1.5</text>
<line x1="1324.2" y1="243.8" x2="1329.2" y2="243.8" stroke="#6a6a6a" stroke-width="1.3"/>
<line x1="1845.2" y1="243.8" x2="1840.2" y2="243.8" stroke="#6a6a6a" stroke-width="1.3"/>
<text x="1318.4" y="250.0" text-anchor="end" class="tk" textLength="10.8" lengthAdjust="spacingAndGlyphs">2</text>
<line x1="1324.2" y1="165.0" x2="1329.2" y2="165.0" stroke="#6a6a6a" stroke-width="1.3"/>
<line x1="1845.2" y1="165.0" x2="1840.2" y2="165.0" stroke="#6a6a6a" stroke-width="1.3"/>
<text x="1318.4" y="171.2" text-anchor="end" class="tk" textLength="24.4" lengthAdjust="spacingAndGlyphs">2.5</text>
<clipPath id="c2"><rect x="1323.2" y="100.5" width="523.0" height="459.8"/></clipPath>
<g clip-path="url(#c2)" fill="none" stroke-width="2.8" stroke-linejoin="round" stroke-linecap="round">
<path d="M1327.5,447.0 L1328.5,446.7 L1329.4,446.4 L1330.4,446.1 L1331.3,445.8 L1332.2,445.6 L1333.2,445.4 L1334.1,445.2 L1335.0,445.0 L1336.0,444.8 L1336.9,444.7 L1337.8,444.5 L1338.7,444.4 L1339.6,444.3 L1340.5,444.2 L1341.4,444.2 L1342.3,444.1 L1343.2,444.1 L1344.1,444.1 L1345.0,444.1 L1345.9,444.1 L1346.8,444.2 L1347.7,444.2 L1348.5,444.3 L1349.4,444.4 L1350.3,444.4 L1351.2,444.5 L1352.0,444.7 L1352.9,444.8 L1353.8,444.9 L1354.6,445.1 L1355.5,445.3 L1356.3,445.5 L1357.2,445.7 L1358.0,445.9 L1358.9,446.1 L1359.7,446.3 L1360.6,446.6 L1361.4,446.8 L1362.3,447.1 L1363.1,447.3 L1363.9,447.6 L1364.8,447.9 L1365.6,448.2 L1366.4,448.5 L1367.3,448.8 L1368.1,449.2 L1368.9,449.5 L1369.7,449.8 L1370.5,450.2 L1371.4,450.6 L1372.2,450.9 L1373.0,451.3 L1373.8,451.7 L1374.6,452.1 L1375.4,452.4 L1376.2,452.8 L1377.0,453.3 L1377.8,453.7 L1378.6,454.1 L1379.4,454.5 L1380.2,454.9 L1381.0,455.4 L1381.8,455.8 L1382.6,456.2 L1383.4,456.7 L1384.2,457.1 L1385.0,457.6 L1385.8,458.0 L1386.6,458.5 L1387.4,458.9 L1388.1,459.4 L1388.9,459.9 L1389.7,460.3 L1390.5,460.8 L1391.3,461.3 L1392.1,461.8 L1392.8,462.2 L1393.6,462.7 L1394.4,463.2 L1395.2,463.7 L1395.9,464.2 L1396.7,464.7 L1397.5,465.1 L1398.3,465.6 L1399.0,466.1 L1399.8,466.6 L1400.6,467.1 L1401.4,467.6 L1402.1,468.1 L1402.9,468.6 L1403.7,469.1 L1404.4,469.6 L1405.2,470.1 L1406.0,470.7 L1406.7,471.2 L1407.5,471.7 L1408.3,472.2 L1409.0,472.7 L1409.8,473.2 L1410.6,473.7 L1411.3,474.2 L1412.1,474.8 L1412.8,475.3 L1413.6,475.8 L1414.4,476.3 L1415.1,476.8 L1415.9,477.3 L1416.6,477.9 L1417.4,478.4 L1418.2,478.9 L1418.9,479.4 L1419.7,479.9 L1420.4,480.4 L1421.2,481.0 L1421.9,481.5 L1422.7,482.0 L1423.5,482.5 L1424.2,483.0 L1425.0,483.6 L1425.7,484.1 L1426.5,484.6 L1427.2,485.1 L1428.0,485.6 L1428.7,486.1 L1429.5,486.6 L1430.2,487.2 L1431.0,487.7 L1431.8,488.2 L1432.5,488.7 L1433.3,489.2 L1434.0,489.7 L1434.8,490.2 L1435.5,490.7 L1436.3,491.3 L1437.0,491.8 L1437.8,492.3 L1438.5,492.8 L1439.3,493.3 L1440.0,493.8 L1440.8,494.3 L1441.6,494.8 L1442.3,495.3 L1443.1,495.8 L1443.8,496.3 L1444.6,496.8 L1445.3,497.3 L1446.1,497.8 L1446.9,498.3 L1447.6,498.8 L1448.4,499.3 L1449.1,499.8 L1449.9,500.3 L1450.6,500.8 L1451.4,501.2 L1452.2,501.7 L1452.9,502.2 L1453.7,502.7 L1454.5,503.2 L1455.2,503.7 L1456.0,504.1 L1456.8,504.6 L1457.5,505.1 L1458.3,505.6 L1459.1,506.1 L1459.8,506.5 L1460.6,507.0 L1461.4,507.5 L1462.1,507.9 L1462.9,508.4 L1463.7,508.9 L1464.4,509.3 L1465.2,509.8 L1466.0,510.3 L1466.8,510.7 L1467.5,511.2 L1468.3,511.6 L1469.1,512.1 L1469.9,512.5 L1470.7,513.0 L1471.4,513.4 L1472.2,513.9 L1473.0,514.3 L1473.8,514.7 L1474.6,515.2 L1475.4,515.6 L1476.2,516.0 L1477.0,516.5 L1477.8,516.9 L1478.5,517.3 L1479.3,517.8 L1480.1,518.2 L1480.9,518.6 L1481.7,519.0 L1482.5,519.4 L1483.3,519.8 L1484.1,520.2 L1484.9,520.7 L1485.8,521.1 L1486.6,521.5 L1487.4,521.9 L1488.2,522.3 L1489.0,522.7 L1489.8,523.0 L1490.6,523.4 L1491.4,523.8 L1492.3,524.2 L1493.1,524.6 L1493.9,525.0 L1494.7,525.3 L1495.5,525.7 L1496.4,526.1 L1497.2,526.5 L1498.0,526.8 L1498.8,527.2 L1499.7,527.6 L1500.5,527.9 L1501.3,528.3 L1502.2,528.6 L1503.0,529.0 L1503.8,529.3 L1504.7,529.7 L1505.5,530.0 L1506.4,530.4 L1507.2,530.7 L1508.0,531.1 L1508.9,531.4 L1509.7,531.7 L1510.6,532.1 L1511.4,532.4 L1512.3,532.7 L1513.1,533.0 L1514.0,533.4 L1514.8,533.7 L1515.7,534.0 L1516.5,534.3 L1517.4,534.6 L1518.2,534.9 L1519.1,535.2 L1519.9,535.5 L1520.8,535.8 L1521.6,536.1 L1522.5,536.4 L1523.4,536.7 L1524.2,537.0 L1525.1,537.3 L1525.9,537.6 L1526.8,537.9 L1527.7,538.2 L1528.5,538.4 L1529.4,538.7 L1530.3,539.0 L1531.1,539.3 L1532.0,539.5 L1532.9,539.8 L1533.7,540.1 L1534.6,540.3 L1535.5,540.6 L1536.4,540.8 L1537.2,541.1 L1538.1,541.3 L1539.0,541.6 L1539.9,541.8 L1540.7,542.1 L1541.6,542.3 L1542.5,542.6 L1543.4,542.8 L1544.2,543.0 L1545.1,543.3 L1546.0,543.5 L1546.9,543.7 L1547.8,544.0 L1548.6,544.2 L1549.5,544.4 L1550.4,544.6 L1551.3,544.8 L1552.2,545.0 L1553.1,545.2 L1553.9,545.5 L1554.8,545.7 L1555.7,545.9 L1556.6,546.1 L1557.5,546.3 L1558.4,546.4 L1559.3,546.6 L1560.2,546.8 L1561.1,547.0 L1561.9,547.2 L1562.8,547.4 L1563.7,547.6 L1564.6,547.7 L1565.5,547.9 L1566.4,548.1 L1567.3,548.3 L1568.2,548.4 L1569.1,548.6 L1570.0,548.8 L1570.9,548.9 L1571.8,549.1 L1572.7,549.2 L1573.5,549.4 L1574.4,549.5 L1575.3,549.7 L1576.2,549.8 L1577.1,550.0 L1578.0,550.1 L1578.9,550.3 L1579.8,550.4 L1580.7,550.5 L1581.6,550.7 L1582.5,550.8 L1583.4,550.9 L1584.3,551.1 L1585.2,551.2 L1586.1,551.3 L1587.0,551.4 L1587.9,551.5 L1588.8,551.7 L1589.7,551.8 L1590.6,551.9 L1591.5,552.0 L1592.4,552.1 L1593.3,552.2 L1594.2,552.3 L1595.1,552.4 L1596.0,552.5 L1596.9,552.6 L1597.8,552.7 L1598.7,552.8 L1599.7,552.9 L1600.6,553.0 L1601.5,553.1 L1602.4,553.2 L1603.3,553.3 L1604.2,553.4 L1605.1,553.5 L1606.0,553.6 L1606.9,553.6 L1607.8,553.7 L1608.7,553.8 L1609.6,553.9 L1610.5,554.0 L1611.4,554.0 L1612.3,554.1 L1613.3,554.2 L1614.2,554.2 L1615.1,554.3 L1616.0,554.4 L1616.9,554.4 L1617.8,554.5 L1618.7,554.6 L1619.6,554.6 L1620.5,554.7 L1621.4,554.8 L1622.3,554.8 L1623.3,554.9 L1624.2,554.9 L1625.1,555.0 L1626.0,555.0 L1626.9,555.1 L1627.8,555.1 L1628.7,555.2 L1629.6,555.2 L1630.5,555.3 L1631.5,555.3 L1632.4,555.4 L1633.3,555.4 L1634.2,555.5 L1635.1,555.5 L1636.0,555.5 L1636.9,555.6 L1637.8,555.6 L1638.7,555.7 L1639.7,555.7 L1640.6,555.7 L1641.5,555.8 L1642.4,555.8 L1643.3,555.8 L1644.2,555.9 L1645.1,555.9 L1646.0,555.9 L1647.0,556.0 L1647.9,556.0 L1648.8,556.0 L1649.7,556.0 L1650.6,556.1 L1651.5,556.1 L1652.4,556.1 L1653.4,556.1 L1654.3,556.2 L1655.2,556.2 L1656.1,556.2 L1657.0,556.2 L1657.9,556.3 L1658.8,556.3 L1659.7,556.3 L1660.7,556.3 L1661.6,556.3 L1662.5,556.4 L1663.4,556.4 L1664.3,556.4 L1665.2,556.4 L1666.1,556.4 L1667.1,556.5 L1668.0,556.5 L1668.9,556.5 L1669.8,556.5 L1670.7,556.5 L1671.6,556.5 L1672.5,556.5 L1673.4,556.6 L1674.4,556.6 L1675.3,556.6 L1676.2,556.6 L1677.1,556.6 L1678.0,556.6 L1678.9,556.6 L1679.8,556.7 L1680.7,556.7 L1681.7,556.7 L1682.6,556.7 L1683.5,556.7 L1684.4,556.7 L1685.3,556.7 L1686.2,556.7 L1687.1,556.7 L1688.0,556.8 L1689.0,556.8 L1689.9,556.8 L1690.8,556.8 L1691.7,556.8 L1692.6,556.8 L1693.5,556.8 L1694.4,556.8 L1695.3,556.9 L1696.2,556.9 L1697.2,556.9 L1698.1,556.9 L1699.0,556.9 L1699.9,556.9 L1700.8,556.9 L1701.7,556.9 L1702.6,556.9 L1703.5,556.9 L1704.4,557.0 L1705.4,557.0 L1706.3,557.0 L1707.2,557.0 L1708.1,557.0 L1709.0,557.0 L1709.9,557.0 L1710.8,557.0 L1711.7,557.0 L1712.6,557.0 L1713.5,557.1 L1714.5,557.1 L1715.4,557.1 L1716.3,557.1 L1717.2,557.1 L1718.1,557.1 L1719.0,557.1 L1719.9,557.1 L1720.8,557.1 L1721.7,557.1 L1722.6,557.1 L1723.5,557.1 L1724.5,557.2 L1725.4,557.2 L1726.3,557.2 L1727.2,557.2 L1728.1,557.2 L1729.0,557.2 L1729.9,557.2 L1730.8,557.2 L1731.7,557.2 L1732.6,557.2 L1733.5,557.2 L1734.5,557.2 L1735.4,557.2 L1736.3,557.2 L1737.2,557.3 L1738.1,557.3 L1739.0,557.3 L1739.9,557.3 L1740.8,557.3 L1741.7,557.3 L1742.6,557.3 L1743.5,557.3 L1744.4,557.3 L1745.4,557.3 L1746.3,557.3 L1747.2,557.3 L1748.1,557.3 L1749.0,557.3 L1749.9,557.3 L1750.8,557.3 L1751.7,557.3 L1752.6,557.4 L1753.5,557.4 L1754.4,557.4 L1755.3,557.4 L1756.3,557.4 L1757.2,557.4 L1758.1,557.4 L1759.0,557.4 L1759.9,557.4 L1760.8,557.4 L1761.7,557.4 L1762.6,557.4 L1763.5,557.4 L1764.4,557.4 L1765.3,557.4 L1766.3,557.4 L1767.2,557.4 L1768.1,557.4 L1769.0,557.4 L1769.9,557.4 L1770.8,557.4 L1771.7,557.4 L1772.6,557.4 L1773.5,557.4 L1774.4,557.4 L1775.3,557.4 L1776.2,557.4 L1777.2,557.4 L1778.1,557.4 L1779.0,557.4 L1779.9,557.5 L1780.8,557.5 L1781.7,557.5 L1782.6,557.5 L1783.5,557.5 L1784.4,557.5 L1785.3,557.5 L1786.3,557.5 L1787.2,557.5 L1788.1,557.5 L1789.0,557.5 L1789.9,557.5 L1790.8,557.5 L1791.7,557.5 L1792.6,557.5 L1793.5,557.5 L1794.4,557.5 L1795.3,557.5 L1796.3,557.5 L1797.2,557.5 L1798.1,557.5 L1799.0,557.5 L1799.9,557.5 L1800.8,557.5 L1801.7,557.5 L1802.6,557.5 L1803.5,557.5 L1804.5,557.5 L1805.4,557.5 L1806.3,557.5 L1807.2,557.5 L1808.1,557.5 L1809.0,557.5 L1809.9,557.5 L1810.8,557.5 L1811.7,557.5 L1812.7,557.5 L1813.6,557.5 L1814.5,557.5 L1815.4,557.5 L1816.3,557.5 L1817.2,557.5 L1818.1,557.5 L1819.0,557.5 L1820.0,557.4 L1820.9,557.4 L1821.8,557.4 L1822.7,557.4 L1823.6,557.4 L1824.5,557.4 L1825.4,557.4 L1826.3,557.4 L1827.3,557.4 L1828.2,557.4 L1829.1,557.4 L1830.0,557.4 L1830.9,557.4 L1831.8,557.4 L1832.7,557.4 L1833.6,557.4 L1834.6,557.4 L1835.5,557.4 L1836.4,557.4 L1837.3,557.4 L1838.2,557.4 L1839.1,557.4 L1840.0,557.4 L1841.0,557.4 L1841.9,557.4 L1842.8,557.4 L1843.7,557.4 L1844.6,557.4 L1845.5,557.4" stroke="#0072BD"/>
<path d="M1327.4,102.7 L1328.8,102.9 L1330.2,103.1 L1331.6,103.3 L1333.0,103.5 L1334.3,103.8 L1335.7,104.1 L1337.0,104.4 L1338.3,104.8 L1339.6,105.2 L1340.9,105.6 L1342.2,106.0 L1343.5,106.5 L1344.7,107.0 L1345.9,107.5 L1347.1,108.1 L1348.3,108.7 L1349.4,109.3 L1350.6,109.9 L1351.7,110.5 L1352.8,111.2 L1353.9,111.9 L1355.0,112.7 L1356.0,113.4 L1357.0,114.2 L1358.0,115.0 L1359.0,115.9 L1360.0,116.7 L1360.9,117.6 L1361.9,118.5 L1362.8,119.4 L1363.7,120.4 L1364.6,121.3 L1365.4,122.3 L1366.3,123.3 L1367.1,124.3 L1368.0,125.3 L1368.8,126.3 L1369.6,127.3 L1370.4,128.3 L1371.2,129.4 L1371.9,130.4 L1372.7,131.5 L1373.5,132.6 L1374.2,133.6 L1374.9,134.7 L1375.7,135.8 L1376.4,136.9 L1377.1,138.0 L1377.8,139.1 L1378.5,140.3 L1379.1,141.4 L1379.8,142.5 L1380.5,143.7 L1381.1,144.8 L1381.8,146.0 L1382.4,147.1 L1383.0,148.3 L1383.6,149.5 L1384.2,150.7 L1384.8,151.8 L1385.4,153.0 L1386.0,154.2 L1386.6,155.4 L1387.2,156.6 L1387.7,157.8 L1388.3,159.0 L1388.8,160.3 L1389.4,161.5 L1389.9,162.7 L1390.5,163.9 L1391.0,165.2 L1391.5,166.4 L1392.0,167.6 L1392.5,168.9 L1393.0,170.1 L1393.5,171.4 L1394.0,172.6 L1394.5,173.8 L1395.0,175.1 L1395.5,176.3 L1396.0,177.6 L1396.4,178.9 L1396.9,180.1 L1397.4,181.4 L1397.8,182.6 L1398.3,183.9 L1398.7,185.1 L1399.2,186.4 L1399.6,187.7 L1400.0,188.9 L1400.5,190.2 L1400.9,191.5 L1401.3,192.7 L1401.7,194.0 L1402.2,195.2 L1402.6,196.5 L1403.0,197.8 L1403.4,199.1 L1403.8,200.3 L1404.2,201.6 L1404.6,202.9 L1405.0,204.1 L1405.4,205.4 L1405.8,206.7 L1406.2,208.0 L1406.6,209.2 L1407.0,210.5 L1407.4,211.8 L1407.7,213.0 L1408.1,214.3 L1408.5,215.6 L1408.9,216.9 L1409.2,218.2 L1409.6,219.4 L1410.0,220.7 L1410.3,222.0 L1410.7,223.3 L1411.1,224.5 L1411.4,225.8 L1411.8,227.1 L1412.2,228.4 L1412.5,229.7 L1412.9,230.9 L1413.2,232.2 L1413.6,233.5 L1413.9,234.8 L1414.3,236.1 L1414.6,237.3 L1415.0,238.6 L1415.3,239.9 L1415.7,241.2 L1416.0,242.4 L1416.4,243.7 L1416.7,245.0 L1417.1,246.3 L1417.4,247.6 L1417.8,248.8 L1418.1,250.1 L1418.5,251.4 L1418.8,252.7 L1419.2,254.0 L1419.5,255.2 L1419.9,256.5 L1420.2,257.8 L1420.6,259.1 L1420.9,260.3 L1421.3,261.6 L1421.6,262.9 L1422.0,264.2 L1422.3,265.4 L1422.7,266.7 L1423.0,268.0 L1423.4,269.2 L1423.7,270.5 L1424.1,271.8 L1424.5,273.1 L1424.8,274.3 L1425.2,275.6 L1425.5,276.9 L1425.9,278.1 L1426.3,279.4 L1426.6,280.7 L1427.0,281.9 L1427.4,283.2 L1427.7,284.5 L1428.1,285.7 L1428.5,287.0 L1428.8,288.3 L1429.2,289.5 L1429.6,290.8 L1430.0,292.0 L1430.3,293.3 L1430.7,294.6 L1431.1,295.8 L1431.5,297.1 L1431.8,298.4 L1432.2,299.6 L1432.6,300.9 L1433.0,302.1 L1433.4,303.4 L1433.8,304.7 L1434.1,305.9 L1434.5,307.2 L1434.9,308.4 L1435.3,309.7 L1435.7,311.0 L1436.1,312.2 L1436.5,313.5 L1436.9,314.7 L1437.3,316.0 L1437.6,317.2 L1438.0,318.5 L1438.4,319.8 L1438.8,321.0 L1439.2,322.3 L1439.6,323.5 L1440.0,324.8 L1440.4,326.0 L1440.8,327.3 L1441.2,328.5 L1441.6,329.8 L1442.0,331.1 L1442.5,332.3 L1442.9,333.6 L1443.3,334.8 L1443.7,336.1 L1444.1,337.3 L1444.5,338.6 L1444.9,339.8 L1445.3,341.1 L1445.7,342.3 L1446.2,343.6 L1446.6,344.9 L1447.0,346.1 L1447.4,347.4 L1447.8,348.6 L1448.2,349.9 L1448.7,351.1 L1449.1,352.4 L1449.5,353.6 L1449.9,354.9 L1450.4,356.1 L1450.8,357.4 L1451.2,358.7 L1451.6,359.9 L1452.1,361.2 L1452.5,362.4 L1452.9,363.7 L1453.4,364.9 L1453.8,366.2 L1454.2,367.4 L1454.7,368.7 L1455.1,370.0 L1455.5,371.2 L1456.0,372.5 L1456.4,373.7 L1456.9,375.0 L1457.3,376.2 L1457.7,377.5 L1458.2,378.8 L1458.6,380.0 L1459.1,381.3 L1459.5,382.5 L1460.0,383.8 L1460.4,385.1 L1460.9,386.3 L1461.3,387.6 L1461.8,388.8 L1462.2,390.1 L1462.7,391.4 L1463.1,392.6 L1463.6,393.9 L1464.0,395.2 L1464.5,396.4 L1465.0,397.7 L1465.4,398.9 L1465.9,400.2 L1466.3,401.5 L1466.8,402.7 L1467.3,404.0 L1467.7,405.3 L1468.2,406.5 L1468.7,407.8 L1469.2,409.0 L1469.6,410.3 L1470.1,411.6 L1470.6,412.8 L1471.1,414.1 L1471.6,415.3 L1472.0,416.6 L1472.5,417.8 L1473.0,419.1 L1473.5,420.4 L1474.0,421.6 L1474.5,422.9 L1475.0,424.1 L1475.5,425.3 L1476.0,426.6 L1476.6,427.8 L1477.1,429.1 L1477.6,430.3 L1478.1,431.5 L1478.7,432.8 L1479.2,434.0 L1479.7,435.2 L1480.3,436.5 L1480.8,437.7 L1481.4,438.9 L1481.9,440.1 L1482.5,441.3 L1483.0,442.6 L1483.6,443.8 L1484.2,445.0 L1484.7,446.2 L1485.3,447.4 L1485.9,448.6 L1486.5,449.8 L1487.1,451.0 L1487.7,452.1 L1488.3,453.3 L1488.9,454.5 L1489.5,455.7 L1490.1,456.8 L1490.8,458.0 L1491.4,459.2 L1492.0,460.3 L1492.7,461.5 L1493.3,462.6 L1494.0,463.8 L1494.6,464.9 L1495.3,466.0 L1496.0,467.2 L1496.7,468.3 L1497.4,469.4 L1498.1,470.5 L1498.8,471.6 L1499.5,472.7 L1500.2,473.8 L1500.9,474.9 L1501.6,476.0 L1502.4,477.1 L1503.1,478.2 L1503.9,479.2 L1504.6,480.3 L1505.4,481.4 L1506.2,482.4 L1506.9,483.5 L1507.7,484.5 L1508.5,485.5 L1509.3,486.6 L1510.1,487.6 L1511.0,488.6 L1511.8,489.6 L1512.6,490.6 L1513.5,491.6 L1514.3,492.6 L1515.2,493.6 L1516.1,494.5 L1516.9,495.5 L1517.8,496.5 L1518.7,497.4 L1519.6,498.3 L1520.5,499.3 L1521.5,500.2 L1522.4,501.1 L1523.3,502.0 L1524.3,503.0 L1525.2,503.9 L1526.2,504.7 L1527.1,505.6 L1528.1,506.5 L1529.1,507.4 L1530.1,508.2 L1531.1,509.1 L1532.1,509.9 L1533.1,510.8 L1534.1,511.6 L1535.1,512.4 L1536.1,513.3 L1537.2,514.1 L1538.2,514.9 L1539.3,515.7 L1540.3,516.5 L1541.4,517.2 L1542.5,518.0 L1543.5,518.8 L1544.6,519.5 L1545.7,520.3 L1546.8,521.0 L1547.9,521.8 L1549.0,522.5 L1550.1,523.2 L1551.2,523.9 L1552.3,524.6 L1553.5,525.3 L1554.6,526.0 L1555.7,526.7 L1556.9,527.4 L1558.0,528.0 L1559.2,528.7 L1560.3,529.3 L1561.5,530.0 L1562.6,530.6 L1563.8,531.2 L1565.0,531.9 L1566.2,532.5 L1567.4,533.1 L1568.5,533.7 L1569.7,534.2 L1570.9,534.8 L1572.1,535.4 L1573.3,535.9 L1574.6,536.5 L1575.8,537.0 L1577.0,537.6 L1578.2,538.1 L1579.4,538.6 L1580.7,539.1 L1581.9,539.6 L1583.1,540.1 L1584.4,540.6 L1585.6,541.1 L1586.9,541.6 L1588.1,542.0 L1589.4,542.5 L1590.6,542.9 L1591.9,543.4 L1593.2,543.8 L1594.4,544.2 L1595.7,544.6 L1597.0,545.0 L1598.2,545.4 L1599.5,545.8 L1600.8,546.2 L1602.1,546.5 L1603.4,546.9 L1604.6,547.2 L1605.9,547.6 L1607.2,547.9 L1608.5,548.2 L1609.8,548.6 L1611.1,548.9 L1612.4,549.2 L1613.7,549.4 L1615.0,549.7 L1616.3,550.0 L1617.6,550.3 L1618.9,550.5 L1620.2,550.8 L1621.5,551.0 L1622.8,551.2 L1624.1,551.4 L1625.5,551.6 L1626.8,551.8 L1628.1,552.0 L1629.4,552.2 L1630.7,552.4 L1632.0,552.6 L1633.3,552.7 L1634.7,552.9 L1636.0,553.0 L1637.3,553.2 L1638.6,553.3 L1639.9,553.5 L1641.3,553.6 L1642.6,553.7 L1643.9,553.8 L1645.2,553.9 L1646.5,554.0 L1647.9,554.1 L1649.2,554.2 L1650.5,554.3 L1651.8,554.4 L1653.2,554.5 L1654.5,554.6 L1655.8,554.7 L1657.1,554.7 L1658.5,554.8 L1659.8,554.9 L1661.1,555.0 L1662.4,555.0 L1663.8,555.1 L1665.1,555.1 L1666.4,555.2 L1667.7,555.3 L1669.1,555.3 L1670.4,555.4 L1671.7,555.5 L1673.1,555.5 L1674.4,555.6 L1675.7,555.6 L1677.0,555.7 L1678.4,555.7 L1679.7,555.8 L1681.0,555.8 L1682.3,555.9 L1683.7,555.9 L1685.0,556.0 L1686.3,556.0 L1687.6,556.1 L1689.0,556.1 L1690.3,556.2 L1691.6,556.2 L1692.9,556.3 L1694.3,556.3 L1695.6,556.3 L1696.9,556.4 L1698.2,556.4 L1699.6,556.5 L1700.9,556.5 L1702.2,556.5 L1703.6,556.6 L1704.9,556.6 L1706.2,556.6 L1707.5,556.7 L1708.9,556.7 L1710.2,556.7 L1711.5,556.8 L1712.8,556.8 L1714.2,556.8 L1715.5,556.9 L1716.8,556.9 L1718.1,556.9 L1719.5,557.0 L1720.8,557.0 L1722.1,557.0 L1723.4,557.0 L1724.8,557.1 L1726.1,557.1 L1727.4,557.1 L1728.7,557.1 L1730.1,557.1 L1731.4,557.2 L1732.7,557.2 L1734.0,557.2 L1735.4,557.2 L1736.7,557.2 L1738.0,557.3 L1739.3,557.3 L1740.7,557.3 L1742.0,557.3 L1743.3,557.3 L1744.6,557.3 L1746.0,557.3 L1747.3,557.4 L1748.6,557.4 L1750.0,557.4 L1751.3,557.4 L1752.6,557.4 L1753.9,557.4 L1755.3,557.4 L1756.6,557.4 L1757.9,557.4 L1759.2,557.4 L1760.6,557.5 L1761.9,557.5 L1763.2,557.5 L1764.5,557.5 L1765.9,557.5 L1767.2,557.5 L1768.5,557.5 L1769.8,557.5 L1771.2,557.5 L1772.5,557.5 L1773.8,557.5 L1775.2,557.5 L1776.5,557.5 L1777.8,557.5 L1779.1,557.5 L1780.5,557.5 L1781.8,557.5 L1783.1,557.5 L1784.4,557.5 L1785.8,557.5 L1787.1,557.5 L1788.4,557.5 L1789.7,557.5 L1791.1,557.5 L1792.4,557.5 L1793.7,557.5 L1795.1,557.5 L1796.4,557.5 L1797.7,557.5 L1799.0,557.5 L1800.4,557.5 L1801.7,557.5 L1803.0,557.5 L1804.3,557.5 L1805.7,557.5 L1807.0,557.5 L1808.3,557.5 L1809.7,557.5 L1811.0,557.5 L1812.3,557.5 L1813.6,557.5 L1815.0,557.5 L1816.3,557.5 L1817.6,557.5 L1818.9,557.4 L1820.3,557.4 L1821.6,557.4 L1822.9,557.4 L1824.3,557.4 L1825.6,557.4 L1826.9,557.4 L1828.2,557.4 L1829.6,557.4 L1830.9,557.4 L1832.2,557.4 L1833.6,557.4 L1834.9,557.4 L1836.2,557.4 L1837.5,557.4 L1838.9,557.4 L1840.2,557.4 L1841.5,557.3 L1842.9,557.3 L1844.2,557.3 L1845.5,557.3" stroke="#D95319"/>
<path d="M1327.1,296.9 L1328.3,296.5 L1329.5,296.0 L1330.7,295.7 L1331.9,295.3 L1333.1,295.0 L1334.3,294.7 L1335.5,294.5 L1336.7,294.2 L1337.8,294.0 L1339.0,293.9 L1340.1,293.7 L1341.3,293.6 L1342.4,293.5 L1343.5,293.5 L1344.6,293.5 L1345.7,293.4 L1346.8,293.5 L1347.9,293.5 L1348.9,293.6 L1350.0,293.7 L1351.0,293.8 L1352.1,294.0 L1353.1,294.1 L1354.1,294.3 L1355.1,294.6 L1356.1,294.8 L1357.1,295.1 L1358.1,295.4 L1359.0,295.7 L1360.0,296.0 L1360.9,296.4 L1361.8,296.8 L1362.8,297.2 L1363.7,297.6 L1364.6,298.1 L1365.5,298.5 L1366.3,299.0 L1367.2,299.5 L1368.1,300.1 L1368.9,300.6 L1369.7,301.2 L1370.6,301.8 L1371.4,302.4 L1372.2,303.0 L1373.0,303.6 L1373.7,304.3 L1374.5,305.0 L1375.3,305.6 L1376.0,306.3 L1376.8,307.1 L1377.5,307.8 L1378.3,308.5 L1379.0,309.3 L1379.7,310.1 L1380.4,310.8 L1381.1,311.6 L1381.8,312.4 L1382.5,313.3 L1383.1,314.1 L1383.8,314.9 L1384.5,315.8 L1385.1,316.6 L1385.8,317.5 L1386.4,318.4 L1387.1,319.2 L1387.7,320.1 L1388.3,321.0 L1388.9,321.9 L1389.6,322.8 L1390.2,323.7 L1390.8,324.6 L1391.4,325.5 L1392.0,326.5 L1392.6,327.4 L1393.2,328.3 L1393.8,329.2 L1394.3,330.2 L1394.9,331.1 L1395.5,332.0 L1396.1,333.0 L1396.6,333.9 L1397.2,334.8 L1397.8,335.7 L1398.3,336.7 L1398.9,337.6 L1399.5,338.5 L1400.0,339.5 L1400.6,340.4 L1401.1,341.3 L1401.7,342.3 L1402.2,343.2 L1402.8,344.1 L1403.3,345.0 L1403.9,346.0 L1404.4,346.9 L1404.9,347.8 L1405.5,348.8 L1406.0,349.7 L1406.5,350.6 L1407.0,351.6 L1407.6,352.5 L1408.1,353.4 L1408.6,354.4 L1409.1,355.3 L1409.7,356.2 L1410.2,357.2 L1410.7,358.1 L1411.2,359.0 L1411.7,360.0 L1412.2,360.9 L1412.7,361.8 L1413.2,362.8 L1413.7,363.7 L1414.2,364.7 L1414.7,365.6 L1415.2,366.5 L1415.7,367.5 L1416.2,368.4 L1416.7,369.4 L1417.2,370.3 L1417.7,371.2 L1418.2,372.2 L1418.7,373.1 L1419.2,374.1 L1419.7,375.0 L1420.2,376.0 L1420.6,376.9 L1421.1,377.9 L1421.6,378.8 L1422.1,379.8 L1422.6,380.7 L1423.0,381.7 L1423.5,382.6 L1424.0,383.6 L1424.5,384.5 L1425.0,385.5 L1425.4,386.5 L1425.9,387.4 L1426.4,388.4 L1426.9,389.3 L1427.3,390.3 L1427.8,391.2 L1428.3,392.2 L1428.8,393.2 L1429.2,394.1 L1429.7,395.1 L1430.2,396.1 L1430.7,397.0 L1431.1,398.0 L1431.6,398.9 L1432.1,399.9 L1432.5,400.9 L1433.0,401.8 L1433.5,402.8 L1434.0,403.7 L1434.4,404.7 L1434.9,405.7 L1435.4,406.6 L1435.9,407.6 L1436.4,408.6 L1436.8,409.5 L1437.3,410.5 L1437.8,411.4 L1438.3,412.4 L1438.8,413.4 L1439.2,414.3 L1439.7,415.3 L1440.2,416.2 L1440.7,417.2 L1441.2,418.1 L1441.7,419.1 L1442.1,420.1 L1442.6,421.0 L1443.1,422.0 L1443.6,422.9 L1444.1,423.9 L1444.6,424.8 L1445.1,425.8 L1445.6,426.7 L1446.1,427.7 L1446.6,428.6 L1447.1,429.6 L1447.6,430.5 L1448.1,431.5 L1448.6,432.4 L1449.2,433.3 L1449.7,434.3 L1450.2,435.2 L1450.7,436.2 L1451.2,437.1 L1451.8,438.0 L1452.3,439.0 L1452.8,439.9 L1453.3,440.8 L1453.9,441.8 L1454.4,442.7 L1454.9,443.6 L1455.5,444.5 L1456.0,445.5 L1456.6,446.4 L1457.1,447.3 L1457.7,448.2 L1458.2,449.1 L1458.8,450.1 L1459.3,451.0 L1459.9,451.9 L1460.5,452.8 L1461.1,453.7 L1461.6,454.6 L1462.2,455.5 L1462.8,456.4 L1463.4,457.3 L1464.0,458.2 L1464.5,459.1 L1465.1,460.0 L1465.7,460.9 L1466.3,461.7 L1466.9,462.6 L1467.6,463.5 L1468.2,464.4 L1468.8,465.3 L1469.4,466.1 L1470.0,467.0 L1470.7,467.9 L1471.3,468.7 L1471.9,469.6 L1472.6,470.5 L1473.2,471.3 L1473.9,472.2 L1474.5,473.0 L1475.2,473.9 L1475.8,474.7 L1476.5,475.6 L1477.2,476.4 L1477.9,477.2 L1478.5,478.1 L1479.2,478.9 L1479.9,479.7 L1480.6,480.5 L1481.3,481.4 L1482.0,482.2 L1482.7,483.0 L1483.4,483.8 L1484.1,484.6 L1484.8,485.4 L1485.6,486.2 L1486.3,487.0 L1487.0,487.8 L1487.8,488.6 L1488.5,489.4 L1489.2,490.1 L1490.0,490.9 L1490.7,491.7 L1491.5,492.5 L1492.2,493.2 L1493.0,494.0 L1493.8,494.7 L1494.5,495.5 L1495.3,496.2 L1496.1,497.0 L1496.9,497.7 L1497.7,498.5 L1498.4,499.2 L1499.2,499.9 L1500.0,500.6 L1500.8,501.3 L1501.6,502.1 L1502.4,502.8 L1503.3,503.5 L1504.1,504.2 L1504.9,504.9 L1505.7,505.5 L1506.5,506.2 L1507.4,506.9 L1508.2,507.6 L1509.0,508.2 L1509.9,508.9 L1510.7,509.6 L1511.6,510.2 L1512.4,510.9 L1513.3,511.5 L1514.1,512.1 L1515.0,512.8 L1515.9,513.4 L1516.7,514.0 L1517.6,514.6 L1518.5,515.3 L1519.4,515.9 L1520.3,516.5 L1521.1,517.1 L1522.0,517.6 L1522.9,518.2 L1523.8,518.8 L1524.7,519.4 L1525.6,520.0 L1526.5,520.5 L1527.4,521.1 L1528.4,521.6 L1529.3,522.2 L1530.2,522.7 L1531.1,523.3 L1532.0,523.8 L1533.0,524.3 L1533.9,524.9 L1534.8,525.4 L1535.8,525.9 L1536.7,526.4 L1537.6,526.9 L1538.6,527.4 L1539.5,527.9 L1540.5,528.4 L1541.4,528.9 L1542.4,529.4 L1543.3,529.8 L1544.3,530.3 L1545.3,530.8 L1546.2,531.2 L1547.2,531.7 L1548.2,532.1 L1549.1,532.6 L1550.1,533.0 L1551.1,533.5 L1552.1,533.9 L1553.1,534.3 L1554.0,534.7 L1555.0,535.2 L1556.0,535.6 L1557.0,536.0 L1558.0,536.4 L1559.0,536.8 L1560.0,537.2 L1561.0,537.6 L1562.0,538.0 L1563.0,538.3 L1564.0,538.7 L1565.0,539.1 L1566.0,539.4 L1567.0,539.8 L1568.0,540.2 L1569.1,540.5 L1570.1,540.9 L1571.1,541.2 L1572.1,541.6 L1573.1,541.9 L1574.2,542.2 L1575.2,542.5 L1576.2,542.9 L1577.2,543.2 L1578.3,543.5 L1579.3,543.8 L1580.3,544.1 L1581.4,544.4 L1582.4,544.7 L1583.4,545.0 L1584.5,545.3 L1585.5,545.6 L1586.6,545.8 L1587.6,546.1 L1588.6,546.4 L1589.7,546.7 L1590.7,546.9 L1591.8,547.2 L1592.8,547.4 L1593.9,547.7 L1594.9,547.9 L1596.0,548.2 L1597.0,548.4 L1598.1,548.6 L1599.1,548.8 L1600.2,549.1 L1601.2,549.3 L1602.3,549.5 L1603.4,549.7 L1604.4,549.9 L1605.5,550.1 L1606.5,550.3 L1607.6,550.5 L1608.6,550.7 L1609.7,550.9 L1610.8,551.1 L1611.8,551.2 L1612.9,551.4 L1614.0,551.6 L1615.0,551.7 L1616.1,551.9 L1617.1,552.1 L1618.2,552.2 L1619.3,552.4 L1620.3,552.5 L1621.4,552.7 L1622.5,552.8 L1623.5,552.9 L1624.6,553.1 L1625.7,553.2 L1626.7,553.3 L1627.8,553.4 L1628.9,553.5 L1629.9,553.6 L1631.0,553.8 L1632.1,553.9 L1633.1,554.0 L1634.2,554.1 L1635.3,554.1 L1636.3,554.2 L1637.4,554.3 L1638.5,554.4 L1639.6,554.5 L1640.6,554.6 L1641.7,554.6 L1642.8,554.7 L1643.8,554.8 L1644.9,554.9 L1646.0,554.9 L1647.0,555.0 L1648.1,555.0 L1649.2,555.1 L1650.2,555.2 L1651.3,555.2 L1652.4,555.3 L1653.4,555.3 L1654.5,555.4 L1655.6,555.4 L1656.7,555.5 L1657.7,555.5 L1658.8,555.6 L1659.9,555.6 L1660.9,555.6 L1662.0,555.7 L1663.1,555.7 L1664.1,555.8 L1665.2,555.8 L1666.3,555.8 L1667.4,555.9 L1668.4,555.9 L1669.5,555.9 L1670.6,556.0 L1671.6,556.0 L1672.7,556.0 L1673.8,556.1 L1674.9,556.1 L1675.9,556.1 L1677.0,556.2 L1678.1,556.2 L1679.1,556.2 L1680.2,556.3 L1681.3,556.3 L1682.4,556.3 L1683.4,556.3 L1684.5,556.4 L1685.6,556.4 L1686.6,556.4 L1687.7,556.5 L1688.8,556.5 L1689.9,556.5 L1690.9,556.5 L1692.0,556.6 L1693.1,556.6 L1694.1,556.6 L1695.2,556.6 L1696.3,556.6 L1697.4,556.7 L1698.4,556.7 L1699.5,556.7 L1700.6,556.7 L1701.7,556.8 L1702.7,556.8 L1703.8,556.8 L1704.9,556.8 L1705.9,556.8 L1707.0,556.9 L1708.1,556.9 L1709.2,556.9 L1710.2,556.9 L1711.3,556.9 L1712.4,556.9 L1713.5,557.0 L1714.5,557.0 L1715.6,557.0 L1716.7,557.0 L1717.8,557.0 L1718.8,557.0 L1719.9,557.1 L1721.0,557.1 L1722.0,557.1 L1723.1,557.1 L1724.2,557.1 L1725.3,557.1 L1726.3,557.1 L1727.4,557.2 L1728.5,557.2 L1729.6,557.2 L1730.6,557.2 L1731.7,557.2 L1732.8,557.2 L1733.9,557.2 L1734.9,557.2 L1736.0,557.2 L1737.1,557.3 L1738.2,557.3 L1739.2,557.3 L1740.3,557.3 L1741.4,557.3 L1742.5,557.3 L1743.5,557.3 L1744.6,557.3 L1745.7,557.3 L1746.7,557.3 L1747.8,557.3 L1748.9,557.3 L1750.0,557.4 L1751.0,557.4 L1752.1,557.4 L1753.2,557.4 L1754.3,557.4 L1755.3,557.4 L1756.4,557.4 L1757.5,557.4 L1758.6,557.4 L1759.6,557.4 L1760.7,557.4 L1761.8,557.4 L1762.9,557.4 L1763.9,557.4 L1765.0,557.4 L1766.1,557.4 L1767.2,557.4 L1768.2,557.4 L1769.3,557.4 L1770.4,557.4 L1771.5,557.4 L1772.5,557.4 L1773.6,557.4 L1774.7,557.4 L1775.8,557.4 L1776.8,557.5 L1777.9,557.5 L1779.0,557.5 L1780.0,557.5 L1781.1,557.5 L1782.2,557.5 L1783.3,557.5 L1784.3,557.5 L1785.4,557.5 L1786.5,557.5 L1787.6,557.5 L1788.6,557.5 L1789.7,557.5 L1790.8,557.5 L1791.9,557.5 L1792.9,557.5 L1794.0,557.5 L1795.1,557.5 L1796.2,557.5 L1797.2,557.5 L1798.3,557.5 L1799.4,557.5 L1800.4,557.5 L1801.5,557.5 L1802.6,557.4 L1803.7,557.4 L1804.7,557.4 L1805.8,557.4 L1806.9,557.4 L1808.0,557.4 L1809.0,557.4 L1810.1,557.4 L1811.2,557.4 L1812.3,557.4 L1813.3,557.4 L1814.4,557.4 L1815.5,557.4 L1816.5,557.4 L1817.6,557.4 L1818.7,557.4 L1819.8,557.4 L1820.8,557.4 L1821.9,557.4 L1823.0,557.4 L1824.1,557.4 L1825.1,557.4 L1826.2,557.4 L1827.3,557.4 L1828.3,557.4 L1829.4,557.4 L1830.5,557.4 L1831.6,557.4 L1832.6,557.4 L1833.7,557.4 L1834.8,557.4 L1835.8,557.4 L1836.9,557.4 L1838.0,557.4 L1839.1,557.4 L1840.1,557.4 L1841.2,557.4 L1842.3,557.4 L1843.3,557.4 L1844.4,557.4 L1845.5,557.4" stroke="#EDB120"/>
<path d="M1327.3,360.9 L1328.4,360.5 L1329.5,360.2 L1330.6,359.8 L1331.6,359.6 L1332.7,359.3 L1333.8,359.1 L1334.8,358.9 L1335.9,358.7 L1336.9,358.5 L1337.9,358.4 L1338.9,358.3 L1340.0,358.2 L1341.0,358.2 L1342.0,358.1 L1343.0,358.1 L1343.9,358.2 L1344.9,358.2 L1345.9,358.3 L1346.9,358.3 L1347.8,358.4 L1348.8,358.6 L1349.7,358.7 L1350.7,358.9 L1351.6,359.1 L1352.5,359.3 L1353.4,359.5 L1354.3,359.8 L1355.3,360.0 L1356.2,360.3 L1357.0,360.6 L1357.9,361.0 L1358.8,361.3 L1359.7,361.7 L1360.6,362.0 L1361.4,362.4 L1362.3,362.8 L1363.1,363.3 L1364.0,363.7 L1364.8,364.2 L1365.7,364.6 L1366.5,365.1 L1367.3,365.6 L1368.1,366.1 L1369.0,366.6 L1369.8,367.2 L1370.6,367.7 L1371.4,368.3 L1372.2,368.9 L1372.9,369.5 L1373.7,370.0 L1374.5,370.7 L1375.3,371.3 L1376.0,371.9 L1376.8,372.5 L1377.6,373.2 L1378.3,373.8 L1379.1,374.5 L1379.8,375.2 L1380.5,375.9 L1381.3,376.6 L1382.0,377.3 L1382.7,378.0 L1383.4,378.7 L1384.2,379.4 L1384.9,380.1 L1385.6,380.8 L1386.3,381.6 L1387.0,382.3 L1387.7,383.0 L1388.4,383.8 L1389.0,384.5 L1389.7,385.3 L1390.4,386.1 L1391.1,386.8 L1391.8,387.6 L1392.4,388.3 L1393.1,389.1 L1393.7,389.9 L1394.4,390.6 L1395.0,391.4 L1395.7,392.2 L1396.3,392.9 L1397.0,393.7 L1397.6,394.5 L1398.3,395.3 L1398.9,396.0 L1399.5,396.8 L1400.1,397.6 L1400.8,398.4 L1401.4,399.1 L1402.0,399.9 L1402.6,400.7 L1403.2,401.5 L1403.9,402.2 L1404.5,403.0 L1405.1,403.8 L1405.7,404.6 L1406.3,405.3 L1406.9,406.1 L1407.5,406.9 L1408.1,407.7 L1408.7,408.4 L1409.3,409.2 L1409.9,410.0 L1410.5,410.8 L1411.1,411.6 L1411.7,412.3 L1412.3,413.1 L1412.9,413.9 L1413.5,414.7 L1414.1,415.4 L1414.7,416.2 L1415.3,417.0 L1415.9,417.8 L1416.5,418.5 L1417.1,419.3 L1417.7,420.1 L1418.3,420.8 L1418.9,421.6 L1419.5,422.4 L1420.1,423.2 L1420.7,423.9 L1421.3,424.7 L1421.9,425.5 L1422.5,426.2 L1423.1,427.0 L1423.7,427.8 L1424.3,428.6 L1424.9,429.3 L1425.5,430.1 L1426.1,430.9 L1426.7,431.7 L1427.3,432.5 L1427.9,433.2 L1428.5,434.0 L1429.1,434.8 L1429.6,435.6 L1430.2,436.4 L1430.8,437.2 L1431.4,438.0 L1432.0,438.8 L1432.6,439.6 L1433.2,440.4 L1433.8,441.2 L1434.4,442.0 L1435.0,442.8 L1435.6,443.6 L1436.1,444.4 L1436.7,445.2 L1437.3,446.0 L1437.9,446.8 L1438.5,447.6 L1439.1,448.4 L1439.7,449.2 L1440.3,450.0 L1440.9,450.8 L1441.5,451.7 L1442.0,452.5 L1442.6,453.3 L1443.2,454.1 L1443.8,454.9 L1444.4,455.7 L1445.0,456.5 L1445.6,457.3 L1446.2,458.1 L1446.8,458.9 L1447.4,459.7 L1448.0,460.5 L1448.7,461.3 L1449.3,462.1 L1449.9,462.9 L1450.5,463.7 L1451.1,464.5 L1451.7,465.3 L1452.3,466.1 L1453.0,466.9 L1453.6,467.7 L1454.2,468.5 L1454.8,469.3 L1455.5,470.0 L1456.1,470.8 L1456.7,471.6 L1457.4,472.4 L1458.0,473.1 L1458.7,473.9 L1459.3,474.7 L1460.0,475.4 L1460.6,476.2 L1461.3,476.9 L1461.9,477.7 L1462.6,478.4 L1463.3,479.2 L1463.9,479.9 L1464.6,480.7 L1465.3,481.4 L1466.0,482.1 L1466.6,482.8 L1467.3,483.6 L1468.0,484.3 L1468.7,485.0 L1469.4,485.7 L1470.1,486.4 L1470.8,487.1 L1471.5,487.8 L1472.2,488.5 L1472.9,489.2 L1473.6,489.9 L1474.3,490.6 L1475.1,491.3 L1475.8,492.0 L1476.5,492.7 L1477.2,493.3 L1478.0,494.0 L1478.7,494.7 L1479.4,495.3 L1480.2,496.0 L1480.9,496.7 L1481.7,497.3 L1482.4,498.0 L1483.2,498.6 L1483.9,499.3 L1484.7,499.9 L1485.4,500.5 L1486.2,501.2 L1487.0,501.8 L1487.7,502.4 L1488.5,503.0 L1489.3,503.7 L1490.0,504.3 L1490.8,504.9 L1491.6,505.5 L1492.4,506.1 L1493.2,506.7 L1494.0,507.3 L1494.7,507.9 L1495.5,508.5 L1496.3,509.1 L1497.1,509.7 L1497.9,510.2 L1498.7,510.8 L1499.5,511.4 L1500.3,512.0 L1501.2,512.5 L1502.0,513.1 L1502.8,513.7 L1503.6,514.2 L1504.4,514.8 L1505.2,515.3 L1506.1,515.9 L1506.9,516.4 L1507.7,516.9 L1508.5,517.5 L1509.4,518.0 L1510.2,518.5 L1511.0,519.0 L1511.9,519.6 L1512.7,520.1 L1513.6,520.6 L1514.4,521.1 L1515.3,521.6 L1516.1,522.1 L1517.0,522.6 L1517.8,523.1 L1518.7,523.6 L1519.5,524.1 L1520.4,524.6 L1521.3,525.1 L1522.1,525.5 L1523.0,526.0 L1523.9,526.5 L1524.7,526.9 L1525.6,527.4 L1526.5,527.9 L1527.4,528.3 L1528.2,528.8 L1529.1,529.2 L1530.0,529.7 L1530.9,530.1 L1531.8,530.5 L1532.7,531.0 L1533.5,531.4 L1534.4,531.8 L1535.3,532.2 L1536.2,532.7 L1537.1,533.1 L1538.0,533.5 L1538.9,533.9 L1539.8,534.3 L1540.7,534.7 L1541.6,535.1 L1542.5,535.5 L1543.5,535.9 L1544.4,536.3 L1545.3,536.7 L1546.2,537.0 L1547.1,537.4 L1548.0,537.8 L1548.9,538.1 L1549.9,538.5 L1550.8,538.9 L1551.7,539.2 L1552.6,539.6 L1553.5,539.9 L1554.5,540.3 L1555.4,540.6 L1556.3,541.0 L1557.3,541.3 L1558.2,541.6 L1559.1,541.9 L1560.1,542.3 L1561.0,542.6 L1561.9,542.9 L1562.9,543.2 L1563.8,543.5 L1564.8,543.8 L1565.7,544.1 L1566.6,544.4 L1567.6,544.7 L1568.5,545.0 L1569.5,545.3 L1570.4,545.6 L1571.4,545.9 L1572.3,546.1 L1573.3,546.4 L1574.2,546.7 L1575.2,546.9 L1576.2,547.2 L1577.1,547.5 L1578.1,547.7 L1579.0,548.0 L1580.0,548.2 L1580.9,548.4 L1581.9,548.7 L1582.9,548.9 L1583.8,549.1 L1584.8,549.4 L1585.8,549.6 L1586.7,549.8 L1587.7,550.0 L1588.7,550.2 L1589.6,550.4 L1590.6,550.6 L1591.6,550.8 L1592.6,551.0 L1593.5,551.2 L1594.5,551.4 L1595.5,551.6 L1596.4,551.8 L1597.4,552.0 L1598.4,552.1 L1599.4,552.3 L1600.4,552.5 L1601.3,552.6 L1602.3,552.8 L1603.3,552.9 L1604.3,553.1 L1605.3,553.2 L1606.2,553.4 L1607.2,553.5 L1608.2,553.7 L1609.2,553.8 L1610.2,553.9 L1611.1,554.0 L1612.1,554.2 L1613.1,554.3 L1614.1,554.4 L1615.1,554.5 L1616.1,554.6 L1617.1,554.7 L1618.1,554.8 L1619.0,554.9 L1620.0,555.0 L1621.0,555.1 L1622.0,555.2 L1623.0,555.2 L1624.0,555.3 L1625.0,555.4 L1626.0,555.5 L1627.0,555.5 L1628.0,555.6 L1628.9,555.7 L1629.9,555.7 L1630.9,555.8 L1631.9,555.8 L1632.9,555.9 L1633.9,556.0 L1634.9,556.0 L1635.9,556.0 L1636.9,556.1 L1637.9,556.1 L1638.9,556.2 L1639.9,556.2 L1640.9,556.2 L1641.9,556.3 L1642.9,556.3 L1643.9,556.3 L1644.9,556.4 L1645.9,556.4 L1646.8,556.4 L1647.8,556.4 L1648.8,556.5 L1649.8,556.5 L1650.8,556.5 L1651.8,556.5 L1652.8,556.5 L1653.8,556.5 L1654.8,556.5 L1655.8,556.5 L1656.8,556.6 L1657.8,556.6 L1658.8,556.6 L1659.8,556.6 L1660.8,556.6 L1661.8,556.6 L1662.8,556.6 L1663.8,556.6 L1664.8,556.6 L1665.8,556.6 L1666.8,556.6 L1667.8,556.6 L1668.8,556.6 L1669.8,556.6 L1670.8,556.6 L1671.8,556.6 L1672.8,556.6 L1673.8,556.6 L1674.8,556.6 L1675.8,556.5 L1676.8,556.5 L1677.8,556.5 L1678.8,556.5 L1679.8,556.5 L1680.8,556.5 L1681.8,556.5 L1682.8,556.5 L1683.8,556.5 L1684.8,556.5 L1685.8,556.5 L1686.8,556.5 L1687.8,556.5 L1688.8,556.5 L1689.8,556.5 L1690.8,556.5 L1691.8,556.5 L1692.7,556.5 L1693.7,556.5 L1694.7,556.5 L1695.7,556.5 L1696.7,556.5 L1697.7,556.5 L1698.7,556.5 L1699.7,556.5 L1700.7,556.5 L1701.7,556.5 L1702.7,556.5 L1703.7,556.5 L1704.7,556.5 L1705.7,556.5 L1706.7,556.5 L1707.7,556.5 L1708.7,556.5 L1709.6,556.6 L1710.6,556.6 L1711.6,556.6 L1712.6,556.6 L1713.6,556.6 L1714.6,556.6 L1715.6,556.6 L1716.6,556.6 L1717.6,556.6 L1718.6,556.6 L1719.6,556.7 L1720.6,556.7 L1721.5,556.7 L1722.5,556.7 L1723.5,556.7 L1724.5,556.7 L1725.5,556.7 L1726.5,556.8 L1727.5,556.8 L1728.5,556.8 L1729.5,556.8 L1730.5,556.8 L1731.5,556.8 L1732.4,556.8 L1733.4,556.9 L1734.4,556.9 L1735.4,556.9 L1736.4,556.9 L1737.4,556.9 L1738.4,556.9 L1739.4,557.0 L1740.4,557.0 L1741.3,557.0 L1742.3,557.0 L1743.3,557.0 L1744.3,557.0 L1745.3,557.1 L1746.3,557.1 L1747.3,557.1 L1748.3,557.1 L1749.3,557.1 L1750.2,557.1 L1751.2,557.2 L1752.2,557.2 L1753.2,557.2 L1754.2,557.2 L1755.2,557.2 L1756.2,557.2 L1757.2,557.3 L1758.2,557.3 L1759.2,557.3 L1760.1,557.3 L1761.1,557.3 L1762.1,557.3 L1763.1,557.4 L1764.1,557.4 L1765.1,557.4 L1766.1,557.4 L1767.1,557.4 L1768.1,557.4 L1769.0,557.5 L1770.0,557.5 L1771.0,557.5 L1772.0,557.5 L1773.0,557.5 L1774.0,557.5 L1775.0,557.5 L1776.0,557.6 L1777.0,557.6 L1777.9,557.6 L1778.9,557.6 L1779.9,557.6 L1780.9,557.6 L1781.9,557.6 L1782.9,557.6 L1783.9,557.7 L1784.9,557.7 L1785.9,557.7 L1786.9,557.7 L1787.8,557.7 L1788.8,557.7 L1789.8,557.7 L1790.8,557.7 L1791.8,557.7 L1792.8,557.7 L1793.8,557.7 L1794.8,557.7 L1795.8,557.8 L1796.8,557.8 L1797.8,557.8 L1798.7,557.8 L1799.7,557.8 L1800.7,557.8 L1801.7,557.8 L1802.7,557.8 L1803.7,557.8 L1804.7,557.8 L1805.7,557.8 L1806.7,557.8 L1807.7,557.8 L1808.7,557.8 L1809.7,557.8 L1810.7,557.8 L1811.7,557.8 L1812.6,557.8 L1813.6,557.8 L1814.6,557.8 L1815.6,557.8 L1816.6,557.7 L1817.6,557.7 L1818.6,557.7 L1819.6,557.7 L1820.6,557.7 L1821.6,557.7 L1822.6,557.7 L1823.6,557.7 L1824.6,557.7 L1825.6,557.6 L1826.6,557.6 L1827.6,557.6 L1828.6,557.6 L1829.6,557.6 L1830.6,557.6 L1831.6,557.5 L1832.6,557.5 L1833.6,557.5 L1834.6,557.5 L1835.6,557.5 L1836.6,557.4 L1837.6,557.4 L1838.6,557.4 L1839.6,557.4 L1840.6,557.3 L1841.6,557.3 L1842.6,557.3 L1843.6,557.3 L1844.6,557.2 L1845.6,557.2" stroke="#7E2F8E"/>
<path d="M1327.2,354.6 L1328.3,354.6 L1329.4,354.5 L1330.5,354.5 L1331.6,354.5 L1332.7,354.5 L1333.8,354.6 L1334.8,354.6 L1335.9,354.7 L1337.0,354.7 L1338.0,354.8 L1339.0,354.9 L1340.1,355.1 L1341.1,355.2 L1342.1,355.3 L1343.1,355.5 L1344.1,355.7 L1345.1,355.9 L1346.1,356.1 L1347.1,356.3 L1348.1,356.5 L1349.0,356.7 L1350.0,357.0 L1350.9,357.2 L1351.9,357.5 L1352.8,357.8 L1353.8,358.1 L1354.7,358.4 L1355.6,358.8 L1356.5,359.1 L1357.4,359.4 L1358.3,359.8 L1359.2,360.2 L1360.1,360.5 L1361.0,360.9 L1361.9,361.3 L1362.7,361.8 L1363.6,362.2 L1364.5,362.6 L1365.3,363.0 L1366.2,363.5 L1367.0,364.0 L1367.8,364.4 L1368.7,364.9 L1369.5,365.4 L1370.3,365.9 L1371.1,366.4 L1371.9,366.9 L1372.8,367.5 L1373.6,368.0 L1374.3,368.5 L1375.1,369.1 L1375.9,369.7 L1376.7,370.2 L1377.5,370.8 L1378.2,371.4 L1379.0,372.0 L1379.8,372.6 L1380.5,373.2 L1381.3,373.8 L1382.0,374.4 L1382.7,375.0 L1383.5,375.7 L1384.2,376.3 L1384.9,376.9 L1385.7,377.6 L1386.4,378.3 L1387.1,378.9 L1387.8,379.6 L1388.5,380.3 L1389.2,380.9 L1389.9,381.6 L1390.6,382.3 L1391.3,383.0 L1392.0,383.7 L1392.7,384.4 L1393.3,385.1 L1394.0,385.8 L1394.7,386.5 L1395.3,387.3 L1396.0,388.0 L1396.7,388.7 L1397.3,389.4 L1398.0,390.2 L1398.6,390.9 L1399.3,391.7 L1399.9,392.4 L1400.6,393.2 L1401.2,393.9 L1401.8,394.7 L1402.5,395.4 L1403.1,396.2 L1403.7,397.0 L1404.3,397.7 L1405.0,398.5 L1405.6,399.3 L1406.2,400.1 L1406.8,400.8 L1407.4,401.6 L1408.0,402.4 L1408.6,403.2 L1409.2,404.0 L1409.8,404.8 L1410.4,405.6 L1411.0,406.4 L1411.6,407.2 L1412.2,408.0 L1412.8,408.8 L1413.4,409.6 L1414.0,410.4 L1414.6,411.2 L1415.2,412.0 L1415.8,412.9 L1416.3,413.7 L1416.9,414.5 L1417.5,415.3 L1418.1,416.1 L1418.7,417.0 L1419.2,417.8 L1419.8,418.6 L1420.4,419.4 L1421.0,420.3 L1421.5,421.1 L1422.1,421.9 L1422.7,422.8 L1423.2,423.6 L1423.8,424.4 L1424.4,425.3 L1424.9,426.1 L1425.5,427.0 L1426.1,427.8 L1426.6,428.6 L1427.2,429.5 L1427.8,430.3 L1428.3,431.1 L1428.9,432.0 L1429.5,432.8 L1430.0,433.7 L1430.6,434.5 L1431.2,435.4 L1431.7,436.2 L1432.3,437.0 L1432.9,437.9 L1433.4,438.7 L1434.0,439.6 L1434.6,440.4 L1435.1,441.2 L1435.7,442.1 L1436.3,442.9 L1436.9,443.8 L1437.4,444.6 L1438.0,445.4 L1438.6,446.3 L1439.1,447.1 L1439.7,447.9 L1440.3,448.8 L1440.9,449.6 L1441.5,450.4 L1442.0,451.3 L1442.6,452.1 L1443.2,452.9 L1443.8,453.7 L1444.4,454.6 L1445.0,455.4 L1445.6,456.2 L1446.1,457.0 L1446.7,457.8 L1447.3,458.7 L1447.9,459.5 L1448.5,460.3 L1449.1,461.1 L1449.7,461.9 L1450.3,462.7 L1450.9,463.5 L1451.6,464.3 L1452.2,465.1 L1452.8,465.9 L1453.4,466.7 L1454.0,467.5 L1454.6,468.3 L1455.3,469.1 L1455.9,469.9 L1456.5,470.6 L1457.2,471.4 L1457.8,472.2 L1458.4,473.0 L1459.1,473.7 L1459.7,474.5 L1460.4,475.3 L1461.0,476.0 L1461.7,476.8 L1462.3,477.5 L1463.0,478.3 L1463.7,479.0 L1464.3,479.8 L1465.0,480.5 L1465.7,481.2 L1466.3,482.0 L1467.0,482.7 L1467.7,483.4 L1468.4,484.1 L1469.1,484.9 L1469.8,485.6 L1470.5,486.3 L1471.2,487.0 L1471.9,487.7 L1472.6,488.4 L1473.3,489.1 L1474.0,489.8 L1474.7,490.5 L1475.4,491.2 L1476.1,491.9 L1476.9,492.5 L1477.6,493.2 L1478.3,493.9 L1479.1,494.6 L1479.8,495.2 L1480.5,495.9 L1481.3,496.6 L1482.0,497.2 L1482.8,497.9 L1483.5,498.5 L1484.3,499.2 L1485.0,499.8 L1485.8,500.5 L1486.5,501.1 L1487.3,501.7 L1488.1,502.4 L1488.8,503.0 L1489.6,503.6 L1490.4,504.2 L1491.1,504.8 L1491.9,505.5 L1492.7,506.1 L1493.5,506.7 L1494.3,507.3 L1495.0,507.9 L1495.8,508.5 L1496.6,509.1 L1497.4,509.6 L1498.2,510.2 L1499.0,510.8 L1499.8,511.4 L1500.6,512.0 L1501.4,512.5 L1502.3,513.1 L1503.1,513.7 L1503.9,514.2 L1504.7,514.8 L1505.5,515.3 L1506.3,515.9 L1507.2,516.4 L1508.0,517.0 L1508.8,517.5 L1509.7,518.0 L1510.5,518.6 L1511.3,519.1 L1512.2,519.6 L1513.0,520.1 L1513.8,520.6 L1514.7,521.2 L1515.5,521.7 L1516.4,522.2 L1517.2,522.7 L1518.1,523.2 L1518.9,523.7 L1519.8,524.2 L1520.7,524.6 L1521.5,525.1 L1522.4,525.6 L1523.2,526.1 L1524.1,526.6 L1525.0,527.0 L1525.9,527.5 L1526.7,527.9 L1527.6,528.4 L1528.5,528.9 L1529.4,529.3 L1530.2,529.8 L1531.1,530.2 L1532.0,530.6 L1532.9,531.1 L1533.8,531.5 L1534.7,531.9 L1535.6,532.4 L1536.5,532.8 L1537.4,533.2 L1538.3,533.6 L1539.2,534.0 L1540.1,534.4 L1541.0,534.8 L1541.9,535.2 L1542.8,535.6 L1543.7,536.0 L1544.6,536.4 L1545.5,536.8 L1546.4,537.1 L1547.3,537.5 L1548.2,537.9 L1549.2,538.3 L1550.1,538.6 L1551.0,539.0 L1551.9,539.3 L1552.8,539.7 L1553.8,540.0 L1554.7,540.4 L1555.6,540.7 L1556.6,541.1 L1557.5,541.4 L1558.4,541.7 L1559.3,542.0 L1560.3,542.4 L1561.2,542.7 L1562.2,543.0 L1563.1,543.3 L1564.0,543.6 L1565.0,543.9 L1565.9,544.2 L1566.9,544.5 L1567.8,544.8 L1568.8,545.1 L1569.7,545.4 L1570.7,545.6 L1571.6,545.9 L1572.6,546.2 L1573.5,546.5 L1574.5,546.7 L1575.4,547.0 L1576.4,547.2 L1577.3,547.5 L1578.3,547.7 L1579.3,548.0 L1580.2,548.2 L1581.2,548.4 L1582.1,548.7 L1583.1,548.9 L1584.1,549.1 L1585.0,549.3 L1586.0,549.6 L1587.0,549.8 L1587.9,550.0 L1588.9,550.2 L1589.9,550.4 L1590.9,550.6 L1591.8,550.8 L1592.8,551.0 L1593.8,551.1 L1594.8,551.3 L1595.7,551.5 L1596.7,551.7 L1597.7,551.8 L1598.7,552.0 L1599.6,552.2 L1600.6,552.3 L1601.6,552.5 L1602.6,552.6 L1603.6,552.8 L1604.5,552.9 L1605.5,553.0 L1606.5,553.2 L1607.5,553.3 L1608.5,553.4 L1609.5,553.6 L1610.5,553.7 L1611.5,553.8 L1612.4,553.9 L1613.4,554.0 L1614.4,554.1 L1615.4,554.2 L1616.4,554.3 L1617.4,554.4 L1618.4,554.5 L1619.4,554.6 L1620.4,554.7 L1621.4,554.8 L1622.4,554.9 L1623.3,555.0 L1624.3,555.1 L1625.3,555.1 L1626.3,555.2 L1627.3,555.3 L1628.3,555.4 L1629.3,555.4 L1630.3,555.5 L1631.3,555.6 L1632.3,555.6 L1633.3,555.7 L1634.3,555.7 L1635.3,555.8 L1636.3,555.8 L1637.3,555.9 L1638.3,555.9 L1639.3,556.0 L1640.3,556.0 L1641.3,556.1 L1642.3,556.1 L1643.3,556.1 L1644.3,556.2 L1645.3,556.2 L1646.3,556.3 L1647.3,556.3 L1648.3,556.3 L1649.3,556.3 L1650.3,556.4 L1651.3,556.4 L1652.3,556.4 L1653.3,556.4 L1654.4,556.5 L1655.4,556.5 L1656.4,556.5 L1657.4,556.5 L1658.4,556.5 L1659.4,556.6 L1660.4,556.6 L1661.4,556.6 L1662.4,556.6 L1663.4,556.6 L1664.4,556.6 L1665.4,556.6 L1666.4,556.6 L1667.4,556.7 L1668.4,556.7 L1669.4,556.7 L1670.4,556.7 L1671.4,556.7 L1672.4,556.7 L1673.4,556.7 L1674.4,556.7 L1675.4,556.7 L1676.4,556.7 L1677.4,556.7 L1678.4,556.7 L1679.4,556.7 L1680.4,556.7 L1681.4,556.7 L1682.4,556.7 L1683.4,556.7 L1684.4,556.7 L1685.4,556.7 L1686.4,556.7 L1687.4,556.7 L1688.4,556.8 L1689.4,556.8 L1690.4,556.8 L1691.4,556.8 L1692.4,556.8 L1693.4,556.8 L1694.4,556.8 L1695.4,556.8 L1696.4,556.8 L1697.4,556.8 L1698.4,556.8 L1699.4,556.8 L1700.4,556.8 L1701.4,556.8 L1702.4,556.8 L1703.4,556.8 L1704.4,556.8 L1705.4,556.8 L1706.4,556.8 L1707.4,556.9 L1708.4,556.9 L1709.4,556.9 L1710.4,556.9 L1711.4,556.9 L1712.4,556.9 L1713.4,556.9 L1714.3,556.9 L1715.3,556.9 L1716.3,556.9 L1717.3,556.9 L1718.3,556.9 L1719.3,556.9 L1720.3,556.9 L1721.3,557.0 L1722.3,557.0 L1723.3,557.0 L1724.3,557.0 L1725.3,557.0 L1726.3,557.0 L1727.2,557.0 L1728.2,557.0 L1729.2,557.0 L1730.2,557.0 L1731.2,557.0 L1732.2,557.0 L1733.2,557.1 L1734.2,557.1 L1735.2,557.1 L1736.2,557.1 L1737.2,557.1 L1738.2,557.1 L1739.1,557.1 L1740.1,557.1 L1741.1,557.1 L1742.1,557.1 L1743.1,557.1 L1744.1,557.1 L1745.1,557.2 L1746.1,557.2 L1747.1,557.2 L1748.1,557.2 L1749.0,557.2 L1750.0,557.2 L1751.0,557.2 L1752.0,557.2 L1753.0,557.2 L1754.0,557.2 L1755.0,557.2 L1756.0,557.2 L1757.0,557.2 L1758.0,557.3 L1758.9,557.3 L1759.9,557.3 L1760.9,557.3 L1761.9,557.3 L1762.9,557.3 L1763.9,557.3 L1764.9,557.3 L1765.9,557.3 L1766.9,557.3 L1767.9,557.3 L1768.8,557.3 L1769.8,557.3 L1770.8,557.4 L1771.8,557.4 L1772.8,557.4 L1773.8,557.4 L1774.8,557.4 L1775.8,557.4 L1776.8,557.4 L1777.8,557.4 L1778.7,557.4 L1779.7,557.4 L1780.7,557.4 L1781.7,557.4 L1782.7,557.4 L1783.7,557.4 L1784.7,557.4 L1785.7,557.4 L1786.7,557.4 L1787.7,557.4 L1788.7,557.5 L1789.7,557.5 L1790.6,557.5 L1791.6,557.5 L1792.6,557.5 L1793.6,557.5 L1794.6,557.5 L1795.6,557.5 L1796.6,557.5 L1797.6,557.5 L1798.6,557.5 L1799.6,557.5 L1800.6,557.5 L1801.6,557.5 L1802.6,557.5 L1803.6,557.5 L1804.6,557.5 L1805.6,557.5 L1806.5,557.5 L1807.5,557.5 L1808.5,557.5 L1809.5,557.5 L1810.5,557.5 L1811.5,557.5 L1812.5,557.5 L1813.5,557.5 L1814.5,557.5 L1815.5,557.5 L1816.5,557.5 L1817.5,557.5 L1818.5,557.5 L1819.5,557.5 L1820.5,557.5 L1821.5,557.5 L1822.5,557.5 L1823.5,557.5 L1824.5,557.5 L1825.5,557.5 L1826.5,557.5 L1827.5,557.5 L1828.5,557.5 L1829.5,557.5 L1830.5,557.5 L1831.5,557.5 L1832.5,557.5 L1833.5,557.5 L1834.5,557.5 L1835.5,557.5 L1836.5,557.4 L1837.5,557.4 L1838.5,557.4 L1839.5,557.4 L1840.5,557.4 L1841.5,557.4 L1842.5,557.4 L1843.6,557.4 L1844.6,557.4 L1845.6,557.4" stroke="#77AC30"/>
</g>
<text x="1584.7" y="93.8" text-anchor="middle" class="ti" textLength="239.5" lengthAdjust="spacingAndGlyphs">TOTAL NEUTRONS</text>
<text x="1568.7" y="606.1" class="rho">&#961;</text>
<text x="1579.5" y="616.8" class="sub" textLength="21.6" lengthAdjust="spacingAndGlyphs">tor</text>
<text transform="translate(1285.5,329) rotate(-90)" text-anchor="middle" class="yl" textLength="86.5" lengthAdjust="spacing">N/m<tspan dy="-8" font-size="15px">3</tspan><tspan dy="8">/s</tspan></text>
<text x="1325.4" y="98.1" class="mu"><tspan fill="#8a8a8a" font-size="17px" dy="0.6">&#215;</tspan><tspan x="1337.6" dy="-0.6">10</tspan><tspan dy="-7.2" dx="1.8" font-size="14.2px">14</tspan></text>
<rect x="1621.5" y="118.0" width="207.7" height="149.2" fill="#fff" stroke="#555" stroke-width="1.3"/>
<line x1="1631.0" y1="134.9" x2="1677.8" y2="134.9" stroke="#0072BD" stroke-width="2.8"/>
<text x="1683.1" y="142.3" class="lg" textLength="85.7" lengthAdjust="spacingAndGlyphs">NBI only</text>
<line x1="1631.0" y1="163.7" x2="1677.8" y2="163.7" stroke="#D95319" stroke-width="2.8"/>
<text x="1683.1" y="171.1" class="lg" textLength="109.5" lengthAdjust="spacingAndGlyphs">n(H)=0.1%</text>
<line x1="1631.0" y1="192.5" x2="1677.8" y2="192.5" stroke="#EDB120" stroke-width="2.8"/>
<text x="1683.1" y="199.9" class="lg" textLength="137.3" lengthAdjust="spacingAndGlyphs">n(H)=1% (ref)</text>
<line x1="1631.0" y1="221.3" x2="1677.8" y2="221.3" stroke="#7E2F8E" stroke-width="2.8"/>
<text x="1683.1" y="228.7" class="lg" textLength="89.1" lengthAdjust="spacingAndGlyphs">n(H)=5%</text>
<line x1="1631.0" y1="250.1" x2="1677.8" y2="250.1" stroke="#77AC30" stroke-width="2.8"/>
<text x="1683.1" y="257.5" class="lg" textLength="102.5" lengthAdjust="spacingAndGlyphs">n(H)=10%</text>
<rect x="68.8" y="698.8" width="521.0" height="456.8" fill="none" stroke="#8c8c8c" stroke-width="1.8"/>
<line x1="68.8" y1="1155.6" x2="68.8" y2="1150.6" stroke="#6a6a6a" stroke-width="1.3"/>
<line x1="68.8" y1="698.8" x2="68.8" y2="703.8" stroke="#6a6a6a" stroke-width="1.3"/>
<text x="68.8" y="1178.1" text-anchor="middle" class="tk" textLength="10.8" lengthAdjust="spacingAndGlyphs">0</text>
<line x1="173.0" y1="1155.6" x2="173.0" y2="1150.6" stroke="#6a6a6a" stroke-width="1.3"/>
<line x1="173.0" y1="698.8" x2="173.0" y2="703.8" stroke="#6a6a6a" stroke-width="1.3"/>
<text x="173.0" y="1178.1" text-anchor="middle" class="tk" textLength="24.4" lengthAdjust="spacingAndGlyphs">0.2</text>
<line x1="277.2" y1="1155.6" x2="277.2" y2="1150.6" stroke="#6a6a6a" stroke-width="1.3"/>
<line x1="277.2" y1="698.8" x2="277.2" y2="703.8" stroke="#6a6a6a" stroke-width="1.3"/>
<text x="277.2" y="1178.1" text-anchor="middle" class="tk" textLength="24.4" lengthAdjust="spacingAndGlyphs">0.4</text>
<line x1="381.4" y1="1155.6" x2="381.4" y2="1150.6" stroke="#6a6a6a" stroke-width="1.3"/>
<line x1="381.4" y1="698.8" x2="381.4" y2="703.8" stroke="#6a6a6a" stroke-width="1.3"/>
<text x="381.4" y="1178.1" text-anchor="middle" class="tk" textLength="24.4" lengthAdjust="spacingAndGlyphs">0.6</text>
<line x1="485.6" y1="1155.6" x2="485.6" y2="1150.6" stroke="#6a6a6a" stroke-width="1.3"/>
<line x1="485.6" y1="698.8" x2="485.6" y2="703.8" stroke="#6a6a6a" stroke-width="1.3"/>
<text x="485.6" y="1178.1" text-anchor="middle" class="tk" textLength="24.4" lengthAdjust="spacingAndGlyphs">0.8</text>
<line x1="589.8" y1="1155.6" x2="589.8" y2="1150.6" stroke="#6a6a6a" stroke-width="1.3"/>
<line x1="589.8" y1="698.8" x2="589.8" y2="703.8" stroke="#6a6a6a" stroke-width="1.3"/>
<text x="589.8" y="1178.1" text-anchor="middle" class="tk" textLength="10.8" lengthAdjust="spacingAndGlyphs">1</text>
<line x1="68.8" y1="1100.6" x2="73.8" y2="1100.6" stroke="#6a6a6a" stroke-width="1.3"/>
<line x1="589.8" y1="1100.6" x2="584.8" y2="1100.6" stroke="#6a6a6a" stroke-width="1.3"/>
<text x="63.0" y="1106.8" text-anchor="end" class="tk" textLength="24.4" lengthAdjust="spacingAndGlyphs">0.2</text>
<line x1="68.8" y1="1045.6" x2="73.8" y2="1045.6" stroke="#6a6a6a" stroke-width="1.3"/>
<line x1="589.8" y1="1045.6" x2="584.8" y2="1045.6" stroke="#6a6a6a" stroke-width="1.3"/>
<text x="63.0" y="1051.8" text-anchor="end" class="tk" textLength="24.4" lengthAdjust="spacingAndGlyphs">0.4</text>
<line x1="68.8" y1="990.6" x2="73.8" y2="990.6" stroke="#6a6a6a" stroke-width="1.3"/>
<line x1="589.8" y1="990.6" x2="584.8" y2="990.6" stroke="#6a6a6a" stroke-width="1.3"/>
<text x="63.0" y="996.8" text-anchor="end" class="tk" textLength="24.4" lengthAdjust="spacingAndGlyphs">0.6</text>
<line x1="68.8" y1="935.6" x2="73.8" y2="935.6" stroke="#6a6a6a" stroke-width="1.3"/>
<line x1="589.8" y1="935.6" x2="584.8" y2="935.6" stroke="#6a6a6a" stroke-width="1.3"/>
<text x="63.0" y="941.8" text-anchor="end" class="tk" textLength="24.4" lengthAdjust="spacingAndGlyphs">0.8</text>
<line x1="68.8" y1="880.6" x2="73.8" y2="880.6" stroke="#6a6a6a" stroke-width="1.3"/>
<line x1="589.8" y1="880.6" x2="584.8" y2="880.6" stroke="#6a6a6a" stroke-width="1.3"/>
<text x="63.0" y="886.8" text-anchor="end" class="tk" textLength="10.8" lengthAdjust="spacingAndGlyphs">1</text>
<line x1="68.8" y1="825.6" x2="73.8" y2="825.6" stroke="#6a6a6a" stroke-width="1.3"/>
<line x1="589.8" y1="825.6" x2="584.8" y2="825.6" stroke="#6a6a6a" stroke-width="1.3"/>
<text x="63.0" y="831.8" text-anchor="end" class="tk" textLength="24.4" lengthAdjust="spacingAndGlyphs">1.2</text>
<line x1="68.8" y1="770.6" x2="73.8" y2="770.6" stroke="#6a6a6a" stroke-width="1.3"/>
<line x1="589.8" y1="770.6" x2="584.8" y2="770.6" stroke="#6a6a6a" stroke-width="1.3"/>
<text x="63.0" y="776.8" text-anchor="end" class="tk" textLength="24.4" lengthAdjust="spacingAndGlyphs">1.4</text>
<line x1="68.8" y1="715.6" x2="73.8" y2="715.6" stroke="#6a6a6a" stroke-width="1.3"/>
<line x1="589.8" y1="715.6" x2="584.8" y2="715.6" stroke="#6a6a6a" stroke-width="1.3"/>
<text x="63.0" y="721.8" text-anchor="end" class="tk" textLength="24.4" lengthAdjust="spacingAndGlyphs">1.6</text>
<clipPath id="c3"><rect x="67.8" y="697.3" width="523.0" height="459.8"/></clipPath>
<g clip-path="url(#c3)" fill="none" stroke-width="2.8" stroke-linejoin="round" stroke-linecap="round">
<path d="M72.2,831.8 L73.1,830.7 L73.9,829.6 L74.8,828.6 L75.7,827.6 L76.5,826.7 L77.4,825.7 L78.2,824.9 L79.1,824.0 L80.0,823.2 L80.8,822.5 L81.7,821.7 L82.6,821.1 L83.4,820.4 L84.3,819.8 L85.2,819.3 L86.0,818.7 L86.9,818.3 L87.7,817.8 L88.6,817.4 L89.5,817.1 L90.3,816.7 L91.2,816.5 L92.1,816.2 L92.9,816.1 L93.8,815.9 L94.7,815.8 L95.5,815.7 L96.4,815.7 L97.2,815.7 L98.1,815.8 L99.0,815.9 L99.8,816.1 L100.7,816.3 L101.6,816.5 L102.4,816.8 L103.3,817.2 L104.2,817.5 L105.0,817.9 L105.9,818.4 L106.7,818.9 L107.6,819.4 L108.5,820.0 L109.3,820.6 L110.2,821.2 L111.1,821.9 L111.9,822.6 L112.8,823.3 L113.7,824.0 L114.5,824.8 L115.4,825.7 L116.2,826.5 L117.1,827.4 L118.0,828.3 L118.8,829.2 L119.7,830.1 L120.6,831.1 L121.4,832.1 L122.3,833.1 L123.2,834.1 L124.0,835.1 L124.9,836.2 L125.7,837.3 L126.6,838.4 L127.5,839.5 L128.3,840.7 L129.2,841.8 L130.1,843.0 L130.9,844.2 L131.8,845.4 L132.7,846.6 L133.5,847.9 L134.4,849.1 L135.2,850.4 L136.1,851.7 L137.0,852.9 L137.8,854.3 L138.7,855.6 L139.6,856.9 L140.4,858.2 L141.3,859.6 L142.2,861.0 L143.0,862.3 L143.9,863.7 L144.7,865.1 L145.6,866.5 L146.5,867.9 L147.3,869.3 L148.2,870.7 L149.1,872.2 L149.9,873.6 L150.8,875.0 L151.7,876.5 L152.5,877.9 L153.4,879.4 L154.2,880.8 L155.1,882.3 L156.0,883.8 L156.8,885.2 L157.7,886.7 L158.6,888.1 L159.4,889.6 L160.3,891.1 L161.2,892.5 L162.0,894.0 L162.9,895.5 L163.7,896.9 L164.6,898.4 L165.5,899.9 L166.3,901.3 L167.2,902.8 L168.1,904.2 L168.9,905.7 L169.8,907.1 L170.7,908.6 L171.5,910.0 L172.4,911.4 L173.2,912.9 L174.1,914.3 L175.0,915.7 L175.8,917.1 L176.7,918.6 L177.6,920.0 L178.4,921.4 L179.3,922.8 L180.2,924.2 L181.0,925.6 L181.9,927.0 L182.7,928.4 L183.6,929.8 L184.5,931.2 L185.3,932.6 L186.2,933.9 L187.1,935.3 L187.9,936.7 L188.8,938.1 L189.7,939.4 L190.5,940.8 L191.4,942.2 L192.2,943.5 L193.1,944.9 L194.0,946.2 L194.8,947.6 L195.7,948.9 L196.6,950.3 L197.4,951.6 L198.3,952.9 L199.2,954.3 L200.0,955.6 L200.9,956.9 L201.7,958.2 L202.6,959.5 L203.5,960.9 L204.3,962.2 L205.2,963.5 L206.1,964.8 L206.9,966.1 L207.8,967.3 L208.6,968.6 L209.5,969.9 L210.4,971.2 L211.2,972.5 L212.1,973.7 L213.0,975.0 L213.8,976.3 L214.7,977.5 L215.6,978.8 L216.4,980.0 L217.3,981.3 L218.1,982.5 L219.0,983.7 L219.9,985.0 L220.7,986.2 L221.6,987.4 L222.5,988.6 L223.3,989.9 L224.2,991.1 L225.1,992.3 L225.9,993.5 L226.8,994.7 L227.6,995.9 L228.5,997.0 L229.4,998.2 L230.2,999.4 L231.1,1000.6 L232.0,1001.7 L232.8,1002.9 L233.7,1004.1 L234.6,1005.2 L235.4,1006.4 L236.3,1007.5 L237.1,1008.7 L238.0,1009.8 L238.9,1010.9 L239.7,1012.0 L240.6,1013.2 L241.5,1014.3 L242.3,1015.4 L243.2,1016.5 L244.1,1017.6 L244.9,1018.7 L245.8,1019.8 L246.6,1020.9 L247.5,1022.0 L248.4,1023.0 L249.2,1024.1 L250.1,1025.2 L251.0,1026.2 L251.8,1027.3 L252.7,1028.3 L253.6,1029.4 L254.4,1030.4 L255.3,1031.5 L256.1,1032.5 L257.0,1033.5 L257.9,1034.5 L258.7,1035.5 L259.6,1036.5 L260.5,1037.5 L261.3,1038.5 L262.2,1039.5 L263.1,1040.5 L263.9,1041.5 L264.8,1042.5 L265.6,1043.4 L266.5,1044.4 L267.4,1045.4 L268.2,1046.3 L269.1,1047.3 L270.0,1048.2 L270.8,1049.1 L271.7,1050.1 L272.6,1051.0 L273.4,1051.9 L274.3,1052.8 L275.1,1053.7 L276.0,1054.6 L276.9,1055.5 L277.7,1056.4 L278.6,1057.3 L279.5,1058.2 L280.3,1059.0 L281.2,1059.9 L282.1,1060.8 L282.9,1061.6 L283.8,1062.5 L284.6,1063.3 L285.5,1064.1 L286.4,1065.0 L287.2,1065.8 L288.1,1066.6 L289.0,1067.4 L289.8,1068.2 L290.7,1069.0 L291.6,1069.8 L292.4,1070.6 L293.3,1071.4 L294.1,1072.2 L295.0,1072.9 L295.9,1073.7 L296.7,1074.5 L297.6,1075.2 L298.5,1076.0 L299.3,1076.7 L300.2,1077.5 L301.1,1078.2 L301.9,1078.9 L302.8,1079.7 L303.6,1080.4 L304.5,1081.1 L305.4,1081.8 L306.2,1082.5 L307.1,1083.2 L308.0,1083.9 L308.8,1084.6 L309.7,1085.3 L310.6,1086.0 L311.4,1086.6 L312.3,1087.3 L313.1,1088.0 L314.0,1088.6 L314.9,1089.3 L315.7,1089.9 L316.6,1090.6 L317.5,1091.2 L318.3,1091.9 L319.2,1092.5 L320.1,1093.1 L320.9,1093.7 L321.8,1094.4 L322.6,1095.0 L323.5,1095.6 L324.4,1096.2 L325.2,1096.8 L326.1,1097.4 L327.0,1098.0 L327.8,1098.6 L328.7,1099.2 L329.6,1099.7 L330.4,1100.3 L331.3,1100.9 L332.1,1101.5 L333.0,1102.0 L333.9,1102.6 L334.7,1103.1 L335.6,1103.7 L336.5,1104.2 L337.3,1104.8 L338.2,1105.3 L339.1,1105.9 L339.9,1106.4 L340.8,1106.9 L341.6,1107.4 L342.5,1108.0 L343.4,1108.5 L344.2,1109.0 L345.1,1109.5 L346.0,1110.0 L346.8,1110.5 L347.7,1111.0 L348.6,1111.5 L349.4,1112.0 L350.3,1112.5 L351.1,1113.0 L352.0,1113.5 L352.9,1114.0 L353.7,1114.4 L354.6,1114.9 L355.5,1115.4 L356.3,1115.8 L357.2,1116.3 L358.1,1116.8 L358.9,1117.2 L359.8,1117.7 L360.6,1118.1 L361.5,1118.6 L362.4,1119.0 L363.2,1119.5 L364.1,1119.9 L365.0,1120.3 L365.8,1120.8 L366.7,1121.2 L367.6,1121.6 L368.4,1122.0 L369.3,1122.4 L370.1,1122.9 L371.0,1123.3 L371.9,1123.7 L372.7,1124.1 L373.6,1124.5 L374.5,1124.9 L375.3,1125.3 L376.2,1125.7 L377.1,1126.1 L377.9,1126.5 L378.8,1126.8 L379.6,1127.2 L380.5,1127.6 L381.4,1128.0 L382.2,1128.3 L383.1,1128.7 L384.0,1129.1 L384.8,1129.4 L385.7,1129.8 L386.6,1130.2 L387.4,1130.5 L388.3,1130.9 L389.1,1131.2 L390.0,1131.5 L390.9,1131.9 L391.7,1132.2 L392.6,1132.6 L393.5,1132.9 L394.3,1133.2 L395.2,1133.6 L396.1,1133.9 L396.9,1134.2 L397.8,1134.5 L398.6,1134.8 L399.5,1135.1 L400.4,1135.4 L401.2,1135.8 L402.1,1136.1 L403.0,1136.4 L403.8,1136.7 L404.7,1136.9 L405.6,1137.2 L406.4,1137.5 L407.3,1137.8 L408.1,1138.1 L409.0,1138.4 L409.9,1138.7 L410.7,1138.9 L411.6,1139.2 L412.5,1139.5 L413.3,1139.7 L414.2,1140.0 L415.1,1140.3 L415.9,1140.5 L416.8,1140.8 L417.6,1141.0 L418.5,1141.3 L419.4,1141.5 L420.2,1141.8 L421.1,1142.0 L422.0,1142.3 L422.8,1142.5 L423.7,1142.7 L424.6,1143.0 L425.4,1143.2 L426.3,1143.4 L427.1,1143.6 L428.0,1143.9 L428.9,1144.1 L429.7,1144.3 L430.6,1144.5 L431.5,1144.7 L432.3,1144.9 L433.2,1145.1 L434.1,1145.3 L434.9,1145.5 L435.8,1145.7 L436.6,1145.9 L437.5,1146.1 L438.4,1146.3 L439.2,1146.5 L440.1,1146.7 L441.0,1146.9 L441.8,1147.0 L442.7,1147.2 L443.6,1147.4 L444.4,1147.6 L445.3,1147.7 L446.1,1147.9 L447.0,1148.1 L447.9,1148.2 L448.7,1148.4 L449.6,1148.5 L450.5,1148.7 L451.3,1148.8 L452.2,1149.0 L453.1,1149.1 L453.9,1149.3 L454.8,1149.4 L455.6,1149.6 L456.5,1149.7 L457.4,1149.8 L458.2,1150.0 L459.1,1150.1 L460.0,1150.2 L460.8,1150.4 L461.7,1150.5 L462.5,1150.6 L463.4,1150.7 L464.3,1150.8 L465.1,1151.0 L466.0,1151.1 L466.9,1151.2 L467.7,1151.3 L468.6,1151.4 L469.5,1151.5 L470.3,1151.6 L471.2,1151.7 L472.0,1151.8 L472.9,1151.9 L473.8,1152.0 L474.6,1152.1 L475.5,1152.2 L476.4,1152.2 L477.2,1152.3 L478.1,1152.4 L479.0,1152.5 L479.8,1152.6 L480.7,1152.6 L481.5,1152.7 L482.4,1152.8 L483.3,1152.9 L484.1,1152.9 L485.0,1153.0 L485.9,1153.1 L486.7,1153.1 L487.6,1153.2 L488.5,1153.2 L489.3,1153.3 L490.2,1153.3 L491.0,1153.4 L491.9,1153.4 L492.8,1153.5 L493.6,1153.5 L494.5,1153.6 L495.4,1153.6 L496.2,1153.7 L497.1,1153.7 L498.0,1153.8 L498.8,1153.8 L499.7,1153.8 L500.5,1153.9 L501.4,1153.9 L502.3,1153.9 L503.1,1154.0 L504.0,1154.0 L504.9,1154.0 L505.7,1154.0 L506.6,1154.1 L507.5,1154.1 L508.3,1154.1 L509.2,1154.1 L510.0,1154.2 L510.9,1154.2 L511.8,1154.2 L512.6,1154.2 L513.5,1154.2 L514.4,1154.2 L515.2,1154.3 L516.1,1154.3 L517.0,1154.3 L517.8,1154.3 L518.7,1154.3 L519.5,1154.3 L520.4,1154.3 L521.3,1154.3 L522.1,1154.3 L523.0,1154.3 L523.9,1154.3 L524.7,1154.4 L525.6,1154.4 L526.5,1154.4 L527.3,1154.4 L528.2,1154.4 L529.0,1154.4 L529.9,1154.4 L530.8,1154.4 L531.6,1154.4 L532.5,1154.4 L533.4,1154.4 L534.2,1154.4 L535.1,1154.4 L536.0,1154.4 L536.8,1154.4 L537.7,1154.4 L538.5,1154.4 L539.4,1154.4 L540.3,1154.4 L541.1,1154.3 L542.0,1154.3 L542.9,1154.3 L543.7,1154.3 L544.6,1154.3 L545.5,1154.3 L546.3,1154.3 L547.2,1154.3 L548.0,1154.3 L548.9,1154.3 L549.8,1154.3 L550.6,1154.3 L551.5,1154.3 L552.4,1154.3 L553.2,1154.3 L554.1,1154.3 L555.0,1154.3 L555.8,1154.3 L556.7,1154.3 L557.5,1154.3 L558.4,1154.3 L559.3,1154.3 L560.1,1154.3 L561.0,1154.3 L561.9,1154.3 L562.7,1154.3 L563.6,1154.3 L564.5,1154.3 L565.3,1154.3 L566.2,1154.3 L567.0,1154.3 L567.9,1154.3 L568.8,1154.3 L569.6,1154.3 L570.5,1154.3 L571.4,1154.3 L572.2,1154.3 L573.1,1154.3 L574.0,1154.3 L574.8,1154.4 L575.7,1154.4 L576.5,1154.4 L577.4,1154.4 L578.3,1154.4 L579.1,1154.4 L580.0,1154.4 L580.9,1154.4 L581.7,1154.5 L582.6,1154.5 L583.5,1154.5 L584.3,1154.5 L585.2,1154.5 L586.0,1154.6 L586.9,1154.6 L587.8,1154.6 L588.6,1154.6 L589.5,1154.7" stroke="#0072BD"/>
<path d="M72.2,705.4 L73.1,704.8 L73.9,704.3 L74.8,703.7 L75.7,703.2 L76.5,702.7 L77.4,702.3 L78.2,701.8 L79.1,701.4 L80.0,701.0 L80.8,700.6 L81.7,700.2 L82.6,699.8 L83.4,699.5 L84.3,699.2 L85.2,698.9 L86.0,698.6 L86.9,698.3 L87.7,698.1 L88.6,697.9 L89.5,697.7 L90.3,697.5 L91.2,697.3 L92.1,697.2 L92.9,697.1 L93.8,697.0 L94.7,696.9 L95.5,696.9 L96.4,696.9 L97.2,696.9 L98.1,696.9 L99.0,697.0 L99.8,697.0 L100.7,697.1 L101.6,697.3 L102.4,697.4 L103.3,697.6 L104.2,697.8 L105.0,698.1 L105.9,698.3 L106.7,698.6 L107.6,698.9 L108.5,699.3 L109.3,699.7 L110.2,700.1 L111.1,700.5 L111.9,701.0 L112.8,701.5 L113.7,702.0 L114.5,702.5 L115.4,703.1 L116.2,703.7 L117.1,704.4 L118.0,705.1 L118.8,705.8 L119.7,706.5 L120.6,707.3 L121.4,708.1 L122.3,708.9 L123.2,709.8 L124.0,710.7 L124.9,711.6 L125.7,712.6 L126.6,713.6 L127.5,714.6 L128.3,715.7 L129.2,716.8 L130.1,717.9 L130.9,719.1 L131.8,720.3 L132.7,721.5 L133.5,722.7 L134.4,724.0 L135.2,725.3 L136.1,726.6 L137.0,728.0 L137.8,729.3 L138.7,730.8 L139.6,732.2 L140.4,733.7 L141.3,735.1 L142.2,736.7 L143.0,738.2 L143.9,739.8 L144.7,741.4 L145.6,743.0 L146.5,744.6 L147.3,746.3 L148.2,748.0 L149.1,749.7 L149.9,751.4 L150.8,753.2 L151.7,754.9 L152.5,756.7 L153.4,758.6 L154.2,760.4 L155.1,762.3 L156.0,764.2 L156.8,766.1 L157.7,768.0 L158.6,769.9 L159.4,771.9 L160.3,773.9 L161.2,775.9 L162.0,777.9 L162.9,779.9 L163.7,782.0 L164.6,784.1 L165.5,786.2 L166.3,788.3 L167.2,790.4 L168.1,792.5 L168.9,794.6 L169.8,796.8 L170.7,799.0 L171.5,801.1 L172.4,803.3 L173.2,805.5 L174.1,807.7 L175.0,809.9 L175.8,812.1 L176.7,814.3 L177.6,816.6 L178.4,818.8 L179.3,821.0 L180.2,823.3 L181.0,825.5 L181.9,827.7 L182.7,830.0 L183.6,832.2 L184.5,834.5 L185.3,836.7 L186.2,838.9 L187.1,841.2 L187.9,843.4 L188.8,845.6 L189.7,847.8 L190.5,850.1 L191.4,852.3 L192.2,854.5 L193.1,856.7 L194.0,858.8 L194.8,861.0 L195.7,863.2 L196.6,865.4 L197.4,867.5 L198.3,869.7 L199.2,871.8 L200.0,873.9 L200.9,876.0 L201.7,878.1 L202.6,880.2 L203.5,882.3 L204.3,884.4 L205.2,886.5 L206.1,888.6 L206.9,890.6 L207.8,892.7 L208.6,894.7 L209.5,896.7 L210.4,898.7 L211.2,900.8 L212.1,902.8 L213.0,904.8 L213.8,906.7 L214.7,908.7 L215.6,910.7 L216.4,912.6 L217.3,914.6 L218.1,916.5 L219.0,918.4 L219.9,920.4 L220.7,922.3 L221.6,924.2 L222.5,926.1 L223.3,927.9 L224.2,929.8 L225.1,931.7 L225.9,933.5 L226.8,935.4 L227.6,937.2 L228.5,939.0 L229.4,940.9 L230.2,942.7 L231.1,944.5 L232.0,946.3 L232.8,948.0 L233.7,949.8 L234.6,951.6 L235.4,953.3 L236.3,955.0 L237.1,956.8 L238.0,958.5 L238.9,960.2 L239.7,961.9 L240.6,963.6 L241.5,965.3 L242.3,966.9 L243.2,968.6 L244.1,970.3 L244.9,971.9 L245.8,973.5 L246.6,975.1 L247.5,976.8 L248.4,978.4 L249.2,979.9 L250.1,981.5 L251.0,983.1 L251.8,984.7 L252.7,986.2 L253.6,987.7 L254.4,989.3 L255.3,990.8 L256.1,992.3 L257.0,993.8 L257.9,995.3 L258.7,996.8 L259.6,998.3 L260.5,999.7 L261.3,1001.2 L262.2,1002.6 L263.1,1004.1 L263.9,1005.5 L264.8,1006.9 L265.6,1008.3 L266.5,1009.7 L267.4,1011.1 L268.2,1012.5 L269.1,1013.8 L270.0,1015.2 L270.8,1016.5 L271.7,1017.9 L272.6,1019.2 L273.4,1020.5 L274.3,1021.9 L275.1,1023.2 L276.0,1024.5 L276.9,1025.7 L277.7,1027.0 L278.6,1028.3 L279.5,1029.5 L280.3,1030.8 L281.2,1032.0 L282.1,1033.3 L282.9,1034.5 L283.8,1035.7 L284.6,1036.9 L285.5,1038.1 L286.4,1039.3 L287.2,1040.5 L288.1,1041.7 L289.0,1042.8 L289.8,1044.0 L290.7,1045.1 L291.6,1046.3 L292.4,1047.4 L293.3,1048.5 L294.1,1049.6 L295.0,1050.7 L295.9,1051.8 L296.7,1052.9 L297.6,1054.0 L298.5,1055.1 L299.3,1056.2 L300.2,1057.2 L301.1,1058.3 L301.9,1059.3 L302.8,1060.3 L303.6,1061.4 L304.5,1062.4 L305.4,1063.4 L306.2,1064.4 L307.1,1065.4 L308.0,1066.4 L308.8,1067.3 L309.7,1068.3 L310.6,1069.3 L311.4,1070.2 L312.3,1071.2 L313.1,1072.1 L314.0,1073.0 L314.9,1074.0 L315.7,1074.9 L316.6,1075.8 L317.5,1076.7 L318.3,1077.6 L319.2,1078.5 L320.1,1079.4 L320.9,1080.2 L321.8,1081.1 L322.6,1082.0 L323.5,1082.8 L324.4,1083.7 L325.2,1084.5 L326.1,1085.3 L327.0,1086.1 L327.8,1087.0 L328.7,1087.8 L329.6,1088.6 L330.4,1089.4 L331.3,1090.1 L332.1,1090.9 L333.0,1091.7 L333.9,1092.5 L334.7,1093.2 L335.6,1094.0 L336.5,1094.7 L337.3,1095.5 L338.2,1096.2 L339.1,1096.9 L339.9,1097.7 L340.8,1098.4 L341.6,1099.1 L342.5,1099.8 L343.4,1100.5 L344.2,1101.2 L345.1,1101.8 L346.0,1102.5 L346.8,1103.2 L347.7,1103.8 L348.6,1104.5 L349.4,1105.2 L350.3,1105.8 L351.1,1106.4 L352.0,1107.1 L352.9,1107.7 L353.7,1108.3 L354.6,1108.9 L355.5,1109.5 L356.3,1110.1 L357.2,1110.7 L358.1,1111.3 L358.9,1111.9 L359.8,1112.5 L360.6,1113.1 L361.5,1113.6 L362.4,1114.2 L363.2,1114.7 L364.1,1115.3 L365.0,1115.8 L365.8,1116.4 L366.7,1116.9 L367.6,1117.4 L368.4,1118.0 L369.3,1118.5 L370.1,1119.0 L371.0,1119.5 L371.9,1120.0 L372.7,1120.5 L373.6,1121.0 L374.5,1121.5 L375.3,1121.9 L376.2,1122.4 L377.1,1122.9 L377.9,1123.4 L378.8,1123.8 L379.6,1124.3 L380.5,1124.7 L381.4,1125.2 L382.2,1125.6 L383.1,1126.0 L384.0,1126.5 L384.8,1126.9 L385.7,1127.3 L386.6,1127.7 L387.4,1128.1 L388.3,1128.5 L389.1,1128.9 L390.0,1129.3 L390.9,1129.7 L391.7,1130.1 L392.6,1130.5 L393.5,1130.9 L394.3,1131.2 L395.2,1131.6 L396.1,1132.0 L396.9,1132.3 L397.8,1132.7 L398.6,1133.0 L399.5,1133.4 L400.4,1133.7 L401.2,1134.1 L402.1,1134.4 L403.0,1134.7 L403.8,1135.1 L404.7,1135.4 L405.6,1135.7 L406.4,1136.0 L407.3,1136.3 L408.1,1136.6 L409.0,1136.9 L409.9,1137.2 L410.7,1137.5 L411.6,1137.8 L412.5,1138.1 L413.3,1138.4 L414.2,1138.7 L415.1,1138.9 L415.9,1139.2 L416.8,1139.5 L417.6,1139.8 L418.5,1140.0 L419.4,1140.3 L420.2,1140.5 L421.1,1140.8 L422.0,1141.0 L422.8,1141.3 L423.7,1141.5 L424.6,1141.7 L425.4,1142.0 L426.3,1142.2 L427.1,1142.4 L428.0,1142.7 L428.9,1142.9 L429.7,1143.1 L430.6,1143.3 L431.5,1143.5 L432.3,1143.7 L433.2,1143.9 L434.1,1144.1 L434.9,1144.3 L435.8,1144.5 L436.6,1144.7 L437.5,1144.9 L438.4,1145.1 L439.2,1145.3 L440.1,1145.5 L441.0,1145.7 L441.8,1145.8 L442.7,1146.0 L443.6,1146.2 L444.4,1146.4 L445.3,1146.5 L446.1,1146.7 L447.0,1146.9 L447.9,1147.0 L448.7,1147.2 L449.6,1147.3 L450.5,1147.5 L451.3,1147.6 L452.2,1147.8 L453.1,1147.9 L453.9,1148.1 L454.8,1148.2 L455.6,1148.3 L456.5,1148.5 L457.4,1148.6 L458.2,1148.8 L459.1,1148.9 L460.0,1149.0 L460.8,1149.1 L461.7,1149.3 L462.5,1149.4 L463.4,1149.5 L464.3,1149.6 L465.1,1149.8 L466.0,1149.9 L466.9,1150.0 L467.7,1150.1 L468.6,1150.2 L469.5,1150.3 L470.3,1150.4 L471.2,1150.5 L472.0,1150.6 L472.9,1150.7 L473.8,1150.8 L474.6,1150.9 L475.5,1151.0 L476.4,1151.1 L477.2,1151.2 L478.1,1151.3 L479.0,1151.4 L479.8,1151.5 L480.7,1151.6 L481.5,1151.7 L482.4,1151.8 L483.3,1151.9 L484.1,1151.9 L485.0,1152.0 L485.9,1152.1 L486.7,1152.2 L487.6,1152.3 L488.5,1152.3 L489.3,1152.4 L490.2,1152.5 L491.0,1152.6 L491.9,1152.6 L492.8,1152.7 L493.6,1152.8 L494.5,1152.8 L495.4,1152.9 L496.2,1153.0 L497.1,1153.0 L498.0,1153.1 L498.8,1153.1 L499.7,1153.2 L500.5,1153.3 L501.4,1153.3 L502.3,1153.4 L503.1,1153.4 L504.0,1153.5 L504.9,1153.5 L505.7,1153.6 L506.6,1153.6 L507.5,1153.7 L508.3,1153.7 L509.2,1153.8 L510.0,1153.8 L510.9,1153.9 L511.8,1153.9 L512.6,1153.9 L513.5,1154.0 L514.4,1154.0 L515.2,1154.1 L516.1,1154.1 L517.0,1154.1 L517.8,1154.2 L518.7,1154.2 L519.5,1154.2 L520.4,1154.3 L521.3,1154.3 L522.1,1154.3 L523.0,1154.3 L523.9,1154.4 L524.7,1154.4 L525.6,1154.4 L526.5,1154.4 L527.3,1154.5 L528.2,1154.5 L529.0,1154.5 L529.9,1154.5 L530.8,1154.5 L531.6,1154.6 L532.5,1154.6 L533.4,1154.6 L534.2,1154.6 L535.1,1154.6 L536.0,1154.6 L536.8,1154.6 L537.7,1154.7 L538.5,1154.7 L539.4,1154.7 L540.3,1154.7 L541.1,1154.7 L542.0,1154.7 L542.9,1154.7 L543.7,1154.7 L544.6,1154.7 L545.5,1154.7 L546.3,1154.7 L547.2,1154.7 L548.0,1154.7 L548.9,1154.7 L549.8,1154.7 L550.6,1154.7 L551.5,1154.7 L552.4,1154.7 L553.2,1154.7 L554.1,1154.7 L555.0,1154.7 L555.8,1154.7 L556.7,1154.7 L557.5,1154.7 L558.4,1154.7 L559.3,1154.7 L560.1,1154.7 L561.0,1154.7 L561.9,1154.6 L562.7,1154.6 L563.6,1154.6 L564.5,1154.6 L565.3,1154.6 L566.2,1154.6 L567.0,1154.6 L567.9,1154.6 L568.8,1154.5 L569.6,1154.5 L570.5,1154.5 L571.4,1154.5 L572.2,1154.5 L573.1,1154.5 L574.0,1154.4 L574.8,1154.4 L575.7,1154.4 L576.5,1154.4 L577.4,1154.4 L578.3,1154.3 L579.1,1154.3 L580.0,1154.3 L580.9,1154.3 L581.7,1154.2 L582.6,1154.2 L583.5,1154.2 L584.3,1154.2 L585.2,1154.2 L586.0,1154.1 L586.9,1154.1 L587.8,1154.1 L588.6,1154.1 L589.5,1154.0" stroke="#D95319"/>
<path d="M72.2,791.5 L73.1,790.2 L73.9,789.1 L74.8,787.9 L75.7,786.8 L76.5,785.7 L77.4,784.6 L78.2,783.6 L79.1,782.5 L80.0,781.6 L80.8,780.6 L81.7,779.7 L82.6,778.8 L83.4,777.9 L84.3,777.0 L85.2,776.2 L86.0,775.4 L86.9,774.6 L87.7,773.9 L88.6,773.2 L89.5,772.5 L90.3,771.9 L91.2,771.3 L92.1,770.7 L92.9,770.1 L93.8,769.6 L94.7,769.1 L95.5,768.7 L96.4,768.2 L97.2,767.8 L98.1,767.5 L99.0,767.1 L99.8,766.8 L100.7,766.6 L101.6,766.3 L102.4,766.1 L103.3,766.0 L104.2,765.8 L105.0,765.7 L105.9,765.7 L106.7,765.6 L107.6,765.6 L108.5,765.7 L109.3,765.8 L110.2,765.9 L111.1,766.0 L111.9,766.2 L112.8,766.4 L113.7,766.6 L114.5,766.9 L115.4,767.2 L116.2,767.6 L117.1,768.0 L118.0,768.4 L118.8,768.9 L119.7,769.4 L120.6,769.9 L121.4,770.5 L122.3,771.1 L123.2,771.8 L124.0,772.5 L124.9,773.2 L125.7,773.9 L126.6,774.7 L127.5,775.5 L128.3,776.4 L129.2,777.2 L130.1,778.2 L130.9,779.1 L131.8,780.1 L132.7,781.1 L133.5,782.1 L134.4,783.2 L135.2,784.3 L136.1,785.4 L137.0,786.6 L137.8,787.7 L138.7,788.9 L139.6,790.2 L140.4,791.4 L141.3,792.7 L142.2,794.1 L143.0,795.4 L143.9,796.8 L144.7,798.2 L145.6,799.6 L146.5,801.0 L147.3,802.5 L148.2,804.0 L149.1,805.5 L149.9,807.0 L150.8,808.6 L151.7,810.2 L152.5,811.8 L153.4,813.4 L154.2,815.0 L155.1,816.7 L156.0,818.3 L156.8,820.0 L157.7,821.7 L158.6,823.5 L159.4,825.2 L160.3,827.0 L161.2,828.7 L162.0,830.5 L162.9,832.3 L163.7,834.1 L164.6,835.9 L165.5,837.8 L166.3,839.6 L167.2,841.5 L168.1,843.3 L168.9,845.2 L169.8,847.1 L170.7,849.0 L171.5,850.9 L172.4,852.8 L173.2,854.7 L174.1,856.6 L175.0,858.5 L175.8,860.4 L176.7,862.3 L177.6,864.3 L178.4,866.2 L179.3,868.1 L180.2,870.1 L181.0,872.0 L181.9,873.9 L182.7,875.9 L183.6,877.8 L184.5,879.7 L185.3,881.6 L186.2,883.6 L187.1,885.5 L187.9,887.4 L188.8,889.3 L189.7,891.2 L190.5,893.1 L191.4,895.0 L192.2,896.9 L193.1,898.7 L194.0,900.6 L194.8,902.5 L195.7,904.3 L196.6,906.1 L197.4,908.0 L198.3,909.8 L199.2,911.6 L200.0,913.4 L200.9,915.2 L201.7,917.0 L202.6,918.7 L203.5,920.5 L204.3,922.3 L205.2,924.0 L206.1,925.8 L206.9,927.5 L207.8,929.2 L208.6,930.9 L209.5,932.6 L210.4,934.3 L211.2,936.0 L212.1,937.7 L213.0,939.3 L213.8,941.0 L214.7,942.7 L215.6,944.3 L216.4,945.9 L217.3,947.6 L218.1,949.2 L219.0,950.8 L219.9,952.4 L220.7,954.0 L221.6,955.6 L222.5,957.1 L223.3,958.7 L224.2,960.3 L225.1,961.8 L225.9,963.4 L226.8,964.9 L227.6,966.4 L228.5,967.9 L229.4,969.4 L230.2,970.9 L231.1,972.4 L232.0,973.9 L232.8,975.4 L233.7,976.9 L234.6,978.3 L235.4,979.8 L236.3,981.2 L237.1,982.7 L238.0,984.1 L238.9,985.5 L239.7,986.9 L240.6,988.3 L241.5,989.7 L242.3,991.1 L243.2,992.5 L244.1,993.8 L244.9,995.2 L245.8,996.6 L246.6,997.9 L247.5,999.3 L248.4,1000.6 L249.2,1001.9 L250.1,1003.2 L251.0,1004.5 L251.8,1005.8 L252.7,1007.1 L253.6,1008.4 L254.4,1009.7 L255.3,1011.0 L256.1,1012.2 L257.0,1013.5 L257.9,1014.7 L258.7,1016.0 L259.6,1017.2 L260.5,1018.4 L261.3,1019.6 L262.2,1020.9 L263.1,1022.1 L263.9,1023.3 L264.8,1024.4 L265.6,1025.6 L266.5,1026.8 L267.4,1028.0 L268.2,1029.1 L269.1,1030.3 L270.0,1031.4 L270.8,1032.6 L271.7,1033.7 L272.6,1034.8 L273.4,1035.9 L274.3,1037.0 L275.1,1038.1 L276.0,1039.2 L276.9,1040.3 L277.7,1041.4 L278.6,1042.5 L279.5,1043.5 L280.3,1044.6 L281.2,1045.6 L282.1,1046.7 L282.9,1047.7 L283.8,1048.8 L284.6,1049.8 L285.5,1050.8 L286.4,1051.8 L287.2,1052.8 L288.1,1053.8 L289.0,1054.8 L289.8,1055.8 L290.7,1056.8 L291.6,1057.7 L292.4,1058.7 L293.3,1059.7 L294.1,1060.6 L295.0,1061.6 L295.9,1062.5 L296.7,1063.4 L297.6,1064.4 L298.5,1065.3 L299.3,1066.2 L300.2,1067.1 L301.1,1068.0 L301.9,1068.9 L302.8,1069.8 L303.6,1070.7 L304.5,1071.5 L305.4,1072.4 L306.2,1073.3 L307.1,1074.1 L308.0,1075.0 L308.8,1075.8 L309.7,1076.6 L310.6,1077.5 L311.4,1078.3 L312.3,1079.1 L313.1,1079.9 L314.0,1080.7 L314.9,1081.5 L315.7,1082.3 L316.6,1083.1 L317.5,1083.9 L318.3,1084.7 L319.2,1085.4 L320.1,1086.2 L320.9,1087.0 L321.8,1087.7 L322.6,1088.5 L323.5,1089.2 L324.4,1089.9 L325.2,1090.7 L326.1,1091.4 L327.0,1092.1 L327.8,1092.8 L328.7,1093.5 L329.6,1094.2 L330.4,1094.9 L331.3,1095.6 L332.1,1096.3 L333.0,1097.0 L333.9,1097.7 L334.7,1098.3 L335.6,1099.0 L336.5,1099.6 L337.3,1100.3 L338.2,1100.9 L339.1,1101.6 L339.9,1102.2 L340.8,1102.9 L341.6,1103.5 L342.5,1104.1 L343.4,1104.7 L344.2,1105.3 L345.1,1105.9 L346.0,1106.5 L346.8,1107.1 L347.7,1107.7 L348.6,1108.3 L349.4,1108.9 L350.3,1109.4 L351.1,1110.0 L352.0,1110.6 L352.9,1111.1 L353.7,1111.7 L354.6,1112.2 L355.5,1112.8 L356.3,1113.3 L357.2,1113.9 L358.1,1114.4 L358.9,1114.9 L359.8,1115.4 L360.6,1115.9 L361.5,1116.5 L362.4,1117.0 L363.2,1117.5 L364.1,1118.0 L365.0,1118.5 L365.8,1118.9 L366.7,1119.4 L367.6,1119.9 L368.4,1120.4 L369.3,1120.8 L370.1,1121.3 L371.0,1121.8 L371.9,1122.2 L372.7,1122.7 L373.6,1123.1 L374.5,1123.6 L375.3,1124.0 L376.2,1124.4 L377.1,1124.9 L377.9,1125.3 L378.8,1125.7 L379.6,1126.1 L380.5,1126.5 L381.4,1126.9 L382.2,1127.3 L383.1,1127.7 L384.0,1128.1 L384.8,1128.5 L385.7,1128.9 L386.6,1129.3 L387.4,1129.7 L388.3,1130.1 L389.1,1130.4 L390.0,1130.8 L390.9,1131.2 L391.7,1131.5 L392.6,1131.9 L393.5,1132.2 L394.3,1132.6 L395.2,1132.9 L396.1,1133.3 L396.9,1133.6 L397.8,1133.9 L398.6,1134.3 L399.5,1134.6 L400.4,1134.9 L401.2,1135.2 L402.1,1135.5 L403.0,1135.8 L403.8,1136.1 L404.7,1136.4 L405.6,1136.7 L406.4,1137.0 L407.3,1137.3 L408.1,1137.6 L409.0,1137.9 L409.9,1138.2 L410.7,1138.5 L411.6,1138.8 L412.5,1139.0 L413.3,1139.3 L414.2,1139.6 L415.1,1139.8 L415.9,1140.1 L416.8,1140.3 L417.6,1140.6 L418.5,1140.8 L419.4,1141.1 L420.2,1141.3 L421.1,1141.6 L422.0,1141.8 L422.8,1142.0 L423.7,1142.3 L424.6,1142.5 L425.4,1142.7 L426.3,1142.9 L427.1,1143.2 L428.0,1143.4 L428.9,1143.6 L429.7,1143.8 L430.6,1144.0 L431.5,1144.2 L432.3,1144.4 L433.2,1144.6 L434.1,1144.8 L434.9,1145.0 L435.8,1145.2 L436.6,1145.4 L437.5,1145.6 L438.4,1145.8 L439.2,1145.9 L440.1,1146.1 L441.0,1146.3 L441.8,1146.5 L442.7,1146.6 L443.6,1146.8 L444.4,1147.0 L445.3,1147.1 L446.1,1147.3 L447.0,1147.4 L447.9,1147.6 L448.7,1147.8 L449.6,1147.9 L450.5,1148.1 L451.3,1148.2 L452.2,1148.3 L453.1,1148.5 L453.9,1148.6 L454.8,1148.8 L455.6,1148.9 L456.5,1149.0 L457.4,1149.2 L458.2,1149.3 L459.1,1149.4 L460.0,1149.5 L460.8,1149.7 L461.7,1149.8 L462.5,1149.9 L463.4,1150.0 L464.3,1150.1 L465.1,1150.2 L466.0,1150.4 L466.9,1150.5 L467.7,1150.6 L468.6,1150.7 L469.5,1150.8 L470.3,1150.9 L471.2,1151.0 L472.0,1151.1 L472.9,1151.2 L473.8,1151.3 L474.6,1151.4 L475.5,1151.5 L476.4,1151.6 L477.2,1151.6 L478.1,1151.7 L479.0,1151.8 L479.8,1151.9 L480.7,1152.0 L481.5,1152.1 L482.4,1152.1 L483.3,1152.2 L484.1,1152.3 L485.0,1152.4 L485.9,1152.4 L486.7,1152.5 L487.6,1152.6 L488.5,1152.6 L489.3,1152.7 L490.2,1152.8 L491.0,1152.8 L491.9,1152.9 L492.8,1153.0 L493.6,1153.0 L494.5,1153.1 L495.4,1153.1 L496.2,1153.2 L497.1,1153.3 L498.0,1153.3 L498.8,1153.4 L499.7,1153.4 L500.5,1153.5 L501.4,1153.5 L502.3,1153.6 L503.1,1153.6 L504.0,1153.6 L504.9,1153.7 L505.7,1153.7 L506.6,1153.8 L507.5,1153.8 L508.3,1153.9 L509.2,1153.9 L510.0,1153.9 L510.9,1154.0 L511.8,1154.0 L512.6,1154.0 L513.5,1154.1 L514.4,1154.1 L515.2,1154.1 L516.1,1154.2 L517.0,1154.2 L517.8,1154.2 L518.7,1154.2 L519.5,1154.3 L520.4,1154.3 L521.3,1154.3 L522.1,1154.3 L523.0,1154.3 L523.9,1154.4 L524.7,1154.4 L525.6,1154.4 L526.5,1154.4 L527.3,1154.4 L528.2,1154.5 L529.0,1154.5 L529.9,1154.5 L530.8,1154.5 L531.6,1154.5 L532.5,1154.5 L533.4,1154.5 L534.2,1154.5 L535.1,1154.6 L536.0,1154.6 L536.8,1154.6 L537.7,1154.6 L538.5,1154.6 L539.4,1154.6 L540.3,1154.6 L541.1,1154.6 L542.0,1154.6 L542.9,1154.6 L543.7,1154.6 L544.6,1154.6 L545.5,1154.6 L546.3,1154.6 L547.2,1154.6 L548.0,1154.6 L548.9,1154.6 L549.8,1154.6 L550.6,1154.6 L551.5,1154.6 L552.4,1154.6 L553.2,1154.6 L554.1,1154.6 L555.0,1154.6 L555.8,1154.6 L556.7,1154.6 L557.5,1154.6 L558.4,1154.6 L559.3,1154.6 L560.1,1154.6 L561.0,1154.6 L561.9,1154.5 L562.7,1154.5 L563.6,1154.5 L564.5,1154.5 L565.3,1154.5 L566.2,1154.5 L567.0,1154.5 L567.9,1154.5 L568.8,1154.5 L569.6,1154.5 L570.5,1154.5 L571.4,1154.5 L572.2,1154.4 L573.1,1154.4 L574.0,1154.4 L574.8,1154.4 L575.7,1154.4 L576.5,1154.4 L577.4,1154.4 L578.3,1154.4 L579.1,1154.4 L580.0,1154.3 L580.9,1154.3 L581.7,1154.3 L582.6,1154.3 L583.5,1154.3 L584.3,1154.3 L585.2,1154.3 L586.0,1154.3 L586.9,1154.2 L587.8,1154.2 L588.6,1154.2 L589.5,1154.2" stroke="#EDB120"/>
<path d="M72.2,801.0 L73.1,799.9 L73.9,798.8 L74.8,797.8 L75.7,796.8 L76.5,795.9 L77.4,795.0 L78.2,794.1 L79.1,793.3 L80.0,792.5 L80.8,791.7 L81.7,791.0 L82.6,790.4 L83.4,789.8 L84.3,789.2 L85.2,788.6 L86.0,788.1 L86.9,787.7 L87.7,787.3 L88.6,786.9 L89.5,786.5 L90.3,786.2 L91.2,785.9 L92.1,785.7 L92.9,785.5 L93.8,785.4 L94.7,785.2 L95.5,785.1 L96.4,785.1 L97.2,785.1 L98.1,785.1 L99.0,785.2 L99.8,785.2 L100.7,785.4 L101.6,785.5 L102.4,785.7 L103.3,786.0 L104.2,786.2 L105.0,786.5 L105.9,786.8 L106.7,787.2 L107.6,787.6 L108.5,788.0 L109.3,788.5 L110.2,789.0 L111.1,789.5 L111.9,790.1 L112.8,790.7 L113.7,791.3 L114.5,791.9 L115.4,792.6 L116.2,793.3 L117.1,794.1 L118.0,794.8 L118.8,795.6 L119.7,796.5 L120.6,797.3 L121.4,798.2 L122.3,799.1 L123.2,800.1 L124.0,801.1 L124.9,802.1 L125.7,803.1 L126.6,804.2 L127.5,805.2 L128.3,806.3 L129.2,807.5 L130.1,808.6 L130.9,809.8 L131.8,811.0 L132.7,812.2 L133.5,813.5 L134.4,814.7 L135.2,816.0 L136.1,817.3 L137.0,818.6 L137.8,819.9 L138.7,821.3 L139.6,822.7 L140.4,824.0 L141.3,825.4 L142.2,826.8 L143.0,828.3 L143.9,829.7 L144.7,831.1 L145.6,832.6 L146.5,834.1 L147.3,835.6 L148.2,837.0 L149.1,838.5 L149.9,840.0 L150.8,841.6 L151.7,843.1 L152.5,844.6 L153.4,846.1 L154.2,847.7 L155.1,849.2 L156.0,850.8 L156.8,852.3 L157.7,853.9 L158.6,855.4 L159.4,857.0 L160.3,858.6 L161.2,860.1 L162.0,861.7 L162.9,863.3 L163.7,864.9 L164.6,866.5 L165.5,868.1 L166.3,869.7 L167.2,871.3 L168.1,872.9 L168.9,874.5 L169.8,876.1 L170.7,877.7 L171.5,879.4 L172.4,881.0 L173.2,882.6 L174.1,884.2 L175.0,885.8 L175.8,887.5 L176.7,889.1 L177.6,890.7 L178.4,892.4 L179.3,894.0 L180.2,895.6 L181.0,897.3 L181.9,898.9 L182.7,900.5 L183.6,902.2 L184.5,903.8 L185.3,905.4 L186.2,907.1 L187.1,908.7 L187.9,910.3 L188.8,912.0 L189.7,913.6 L190.5,915.2 L191.4,916.9 L192.2,918.5 L193.1,920.1 L194.0,921.7 L194.8,923.4 L195.7,925.0 L196.6,926.6 L197.4,928.2 L198.3,929.8 L199.2,931.4 L200.0,933.0 L200.9,934.6 L201.7,936.2 L202.6,937.8 L203.5,939.4 L204.3,941.0 L205.2,942.6 L206.1,944.2 L206.9,945.7 L207.8,947.3 L208.6,948.9 L209.5,950.4 L210.4,952.0 L211.2,953.6 L212.1,955.1 L213.0,956.6 L213.8,958.2 L214.7,959.7 L215.6,961.2 L216.4,962.7 L217.3,964.3 L218.1,965.8 L219.0,967.3 L219.9,968.7 L220.7,970.2 L221.6,971.7 L222.5,973.2 L223.3,974.6 L224.2,976.1 L225.1,977.5 L225.9,979.0 L226.8,980.4 L227.6,981.8 L228.5,983.2 L229.4,984.6 L230.2,986.0 L231.1,987.4 L232.0,988.8 L232.8,990.2 L233.7,991.5 L234.6,992.9 L235.4,994.2 L236.3,995.6 L237.1,996.9 L238.0,998.2 L238.9,999.5 L239.7,1000.8 L240.6,1002.1 L241.5,1003.4 L242.3,1004.7 L243.2,1005.9 L244.1,1007.2 L244.9,1008.5 L245.8,1009.7 L246.6,1010.9 L247.5,1012.2 L248.4,1013.4 L249.2,1014.6 L250.1,1015.8 L251.0,1017.0 L251.8,1018.2 L252.7,1019.4 L253.6,1020.6 L254.4,1021.7 L255.3,1022.9 L256.1,1024.0 L257.0,1025.2 L257.9,1026.3 L258.7,1027.4 L259.6,1028.6 L260.5,1029.7 L261.3,1030.8 L262.2,1031.9 L263.1,1033.0 L263.9,1034.1 L264.8,1035.1 L265.6,1036.2 L266.5,1037.3 L267.4,1038.3 L268.2,1039.4 L269.1,1040.4 L270.0,1041.5 L270.8,1042.5 L271.7,1043.5 L272.6,1044.5 L273.4,1045.5 L274.3,1046.5 L275.1,1047.5 L276.0,1048.5 L276.9,1049.5 L277.7,1050.5 L278.6,1051.4 L279.5,1052.4 L280.3,1053.3 L281.2,1054.3 L282.1,1055.2 L282.9,1056.2 L283.8,1057.1 L284.6,1058.0 L285.5,1058.9 L286.4,1059.8 L287.2,1060.7 L288.1,1061.6 L289.0,1062.5 L289.8,1063.4 L290.7,1064.3 L291.6,1065.1 L292.4,1066.0 L293.3,1066.9 L294.1,1067.7 L295.0,1068.5 L295.9,1069.4 L296.7,1070.2 L297.6,1071.0 L298.5,1071.9 L299.3,1072.7 L300.2,1073.5 L301.1,1074.3 L301.9,1075.1 L302.8,1075.9 L303.6,1076.7 L304.5,1077.5 L305.4,1078.2 L306.2,1079.0 L307.1,1079.8 L308.0,1080.5 L308.8,1081.3 L309.7,1082.0 L310.6,1082.8 L311.4,1083.5 L312.3,1084.2 L313.1,1085.0 L314.0,1085.7 L314.9,1086.4 L315.7,1087.1 L316.6,1087.8 L317.5,1088.5 L318.3,1089.2 L319.2,1089.9 L320.1,1090.6 L320.9,1091.3 L321.8,1091.9 L322.6,1092.6 L323.5,1093.3 L324.4,1093.9 L325.2,1094.6 L326.1,1095.2 L327.0,1095.9 L327.8,1096.5 L328.7,1097.2 L329.6,1097.8 L330.4,1098.4 L331.3,1099.0 L332.1,1099.7 L333.0,1100.3 L333.9,1100.9 L334.7,1101.5 L335.6,1102.1 L336.5,1102.7 L337.3,1103.3 L338.2,1103.9 L339.1,1104.4 L339.9,1105.0 L340.8,1105.6 L341.6,1106.2 L342.5,1106.7 L343.4,1107.3 L344.2,1107.8 L345.1,1108.4 L346.0,1108.9 L346.8,1109.5 L347.7,1110.0 L348.6,1110.6 L349.4,1111.1 L350.3,1111.6 L351.1,1112.1 L352.0,1112.7 L352.9,1113.2 L353.7,1113.7 L354.6,1114.2 L355.5,1114.7 L356.3,1115.2 L357.2,1115.7 L358.1,1116.2 L358.9,1116.6 L359.8,1117.1 L360.6,1117.6 L361.5,1118.1 L362.4,1118.5 L363.2,1119.0 L364.1,1119.5 L365.0,1119.9 L365.8,1120.4 L366.7,1120.8 L367.6,1121.3 L368.4,1121.7 L369.3,1122.2 L370.1,1122.6 L371.0,1123.0 L371.9,1123.4 L372.7,1123.9 L373.6,1124.3 L374.5,1124.7 L375.3,1125.1 L376.2,1125.5 L377.1,1125.9 L377.9,1126.3 L378.8,1126.7 L379.6,1127.1 L380.5,1127.5 L381.4,1127.9 L382.2,1128.3 L383.1,1128.6 L384.0,1129.0 L384.8,1129.4 L385.7,1129.8 L386.6,1130.1 L387.4,1130.5 L388.3,1130.8 L389.1,1131.2 L390.0,1131.5 L390.9,1131.9 L391.7,1132.2 L392.6,1132.6 L393.5,1132.9 L394.3,1133.2 L395.2,1133.6 L396.1,1133.9 L396.9,1134.2 L397.8,1134.5 L398.6,1134.8 L399.5,1135.2 L400.4,1135.5 L401.2,1135.8 L402.1,1136.1 L403.0,1136.4 L403.8,1136.7 L404.7,1137.0 L405.6,1137.3 L406.4,1137.5 L407.3,1137.8 L408.1,1138.1 L409.0,1138.4 L409.9,1138.7 L410.7,1138.9 L411.6,1139.2 L412.5,1139.5 L413.3,1139.7 L414.2,1140.0 L415.1,1140.2 L415.9,1140.5 L416.8,1140.8 L417.6,1141.0 L418.5,1141.2 L419.4,1141.5 L420.2,1141.7 L421.1,1142.0 L422.0,1142.2 L422.8,1142.4 L423.7,1142.7 L424.6,1142.9 L425.4,1143.1 L426.3,1143.3 L427.1,1143.5 L428.0,1143.8 L428.9,1144.0 L429.7,1144.2 L430.6,1144.4 L431.5,1144.6 L432.3,1144.8 L433.2,1145.0 L434.1,1145.2 L434.9,1145.4 L435.8,1145.6 L436.6,1145.7 L437.5,1145.9 L438.4,1146.1 L439.2,1146.3 L440.1,1146.5 L441.0,1146.6 L441.8,1146.8 L442.7,1147.0 L443.6,1147.1 L444.4,1147.3 L445.3,1147.5 L446.1,1147.6 L447.0,1147.8 L447.9,1147.9 L448.7,1148.1 L449.6,1148.3 L450.5,1148.4 L451.3,1148.5 L452.2,1148.7 L453.1,1148.8 L453.9,1149.0 L454.8,1149.1 L455.6,1149.2 L456.5,1149.4 L457.4,1149.5 L458.2,1149.6 L459.1,1149.8 L460.0,1149.9 L460.8,1150.0 L461.7,1150.1 L462.5,1150.2 L463.4,1150.4 L464.3,1150.5 L465.1,1150.6 L466.0,1150.7 L466.9,1150.8 L467.7,1150.9 L468.6,1151.0 L469.5,1151.1 L470.3,1151.2 L471.2,1151.3 L472.0,1151.4 L472.9,1151.5 L473.8,1151.6 L474.6,1151.7 L475.5,1151.8 L476.4,1151.9 L477.2,1151.9 L478.1,1152.0 L479.0,1152.1 L479.8,1152.2 L480.7,1152.3 L481.5,1152.3 L482.4,1152.4 L483.3,1152.5 L484.1,1152.6 L485.0,1152.6 L485.9,1152.7 L486.7,1152.8 L487.6,1152.8 L488.5,1152.9 L489.3,1152.9 L490.2,1153.0 L491.0,1153.1 L491.9,1153.1 L492.8,1153.2 L493.6,1153.2 L494.5,1153.3 L495.4,1153.3 L496.2,1153.4 L497.1,1153.4 L498.0,1153.5 L498.8,1153.5 L499.7,1153.6 L500.5,1153.6 L501.4,1153.7 L502.3,1153.7 L503.1,1153.7 L504.0,1153.8 L504.9,1153.8 L505.7,1153.8 L506.6,1153.9 L507.5,1153.9 L508.3,1153.9 L509.2,1154.0 L510.0,1154.0 L510.9,1154.0 L511.8,1154.1 L512.6,1154.1 L513.5,1154.1 L514.4,1154.1 L515.2,1154.2 L516.1,1154.2 L517.0,1154.2 L517.8,1154.2 L518.7,1154.2 L519.5,1154.3 L520.4,1154.3 L521.3,1154.3 L522.1,1154.3 L523.0,1154.3 L523.9,1154.3 L524.7,1154.4 L525.6,1154.4 L526.5,1154.4 L527.3,1154.4 L528.2,1154.4 L529.0,1154.4 L529.9,1154.4 L530.8,1154.4 L531.6,1154.4 L532.5,1154.4 L533.4,1154.4 L534.2,1154.5 L535.1,1154.5 L536.0,1154.5 L536.8,1154.5 L537.7,1154.5 L538.5,1154.5 L539.4,1154.5 L540.3,1154.5 L541.1,1154.5 L542.0,1154.5 L542.9,1154.5 L543.7,1154.5 L544.6,1154.5 L545.5,1154.5 L546.3,1154.5 L547.2,1154.5 L548.0,1154.5 L548.9,1154.5 L549.8,1154.5 L550.6,1154.5 L551.5,1154.5 L552.4,1154.5 L553.2,1154.5 L554.1,1154.5 L555.0,1154.5 L555.8,1154.5 L556.7,1154.5 L557.5,1154.5 L558.4,1154.5 L559.3,1154.4 L560.1,1154.4 L561.0,1154.4 L561.9,1154.4 L562.7,1154.4 L563.6,1154.4 L564.5,1154.4 L565.3,1154.4 L566.2,1154.4 L567.0,1154.4 L567.9,1154.4 L568.8,1154.4 L569.6,1154.4 L570.5,1154.4 L571.4,1154.4 L572.2,1154.4 L573.1,1154.4 L574.0,1154.4 L574.8,1154.4 L575.7,1154.4 L576.5,1154.4 L577.4,1154.4 L578.3,1154.4 L579.1,1154.4 L580.0,1154.4 L580.9,1154.4 L581.7,1154.4 L582.6,1154.4 L583.5,1154.4 L584.3,1154.4 L585.2,1154.4 L586.0,1154.4 L586.9,1154.4 L587.8,1154.4 L588.6,1154.4 L589.5,1154.4" stroke="#7E2F8E"/>
<path d="M72.2,803.8 L73.1,803.1 L73.9,802.4 L74.8,801.7 L75.7,801.0 L76.5,800.3 L77.4,799.6 L78.2,799.0 L79.1,798.4 L80.0,797.8 L80.8,797.2 L81.7,796.6 L82.6,796.1 L83.4,795.6 L84.3,795.1 L85.2,794.6 L86.0,794.1 L86.9,793.7 L87.7,793.3 L88.6,792.9 L89.5,792.5 L90.3,792.2 L91.2,791.9 L92.1,791.6 L92.9,791.3 L93.8,791.1 L94.7,790.9 L95.5,790.7 L96.4,790.5 L97.2,790.4 L98.1,790.3 L99.0,790.2 L99.8,790.1 L100.7,790.1 L101.6,790.1 L102.4,790.2 L103.3,790.3 L104.2,790.4 L105.0,790.5 L105.9,790.7 L106.7,790.9 L107.6,791.1 L108.5,791.4 L109.3,791.7 L110.2,792.0 L111.1,792.4 L111.9,792.8 L112.8,793.2 L113.7,793.7 L114.5,794.2 L115.4,794.8 L116.2,795.4 L117.1,796.0 L118.0,796.7 L118.8,797.4 L119.7,798.1 L120.6,798.9 L121.4,799.8 L122.3,800.6 L123.2,801.5 L124.0,802.5 L124.9,803.5 L125.7,804.5 L126.6,805.6 L127.5,806.7 L128.3,807.8 L129.2,809.0 L130.1,810.2 L130.9,811.5 L131.8,812.8 L132.7,814.1 L133.5,815.4 L134.4,816.8 L135.2,818.2 L136.1,819.6 L137.0,821.0 L137.8,822.5 L138.7,823.9 L139.6,825.4 L140.4,826.9 L141.3,828.5 L142.2,830.0 L143.0,831.6 L143.9,833.1 L144.7,834.7 L145.6,836.3 L146.5,837.8 L147.3,839.4 L148.2,841.0 L149.1,842.6 L149.9,844.2 L150.8,845.8 L151.7,847.4 L152.5,849.0 L153.4,850.6 L154.2,852.2 L155.1,853.8 L156.0,855.3 L156.8,856.9 L157.7,858.5 L158.6,860.1 L159.4,861.6 L160.3,863.2 L161.2,864.8 L162.0,866.3 L162.9,867.9 L163.7,869.4 L164.6,871.0 L165.5,872.5 L166.3,874.1 L167.2,875.6 L168.1,877.2 L168.9,878.7 L169.8,880.2 L170.7,881.8 L171.5,883.3 L172.4,884.8 L173.2,886.4 L174.1,887.9 L175.0,889.4 L175.8,890.9 L176.7,892.4 L177.6,893.9 L178.4,895.4 L179.3,896.9 L180.2,898.4 L181.0,899.9 L181.9,901.4 L182.7,902.9 L183.6,904.4 L184.5,905.9 L185.3,907.3 L186.2,908.8 L187.1,910.3 L187.9,911.8 L188.8,913.2 L189.7,914.7 L190.5,916.1 L191.4,917.6 L192.2,919.0 L193.1,920.5 L194.0,921.9 L194.8,923.4 L195.7,924.8 L196.6,926.3 L197.4,927.7 L198.3,929.1 L199.2,930.5 L200.0,932.0 L200.9,933.4 L201.7,934.8 L202.6,936.2 L203.5,937.6 L204.3,939.0 L205.2,940.4 L206.1,941.8 L206.9,943.2 L207.8,944.6 L208.6,946.0 L209.5,947.3 L210.4,948.7 L211.2,950.1 L212.1,951.5 L213.0,952.8 L213.8,954.2 L214.7,955.5 L215.6,956.9 L216.4,958.2 L217.3,959.6 L218.1,960.9 L219.0,962.3 L219.9,963.6 L220.7,964.9 L221.6,966.3 L222.5,967.6 L223.3,968.9 L224.2,970.2 L225.1,971.5 L225.9,972.8 L226.8,974.1 L227.6,975.4 L228.5,976.7 L229.4,978.0 L230.2,979.3 L231.1,980.6 L232.0,981.9 L232.8,983.1 L233.7,984.4 L234.6,985.7 L235.4,986.9 L236.3,988.2 L237.1,989.4 L238.0,990.7 L238.9,991.9 L239.7,993.2 L240.6,994.4 L241.5,995.6 L242.3,996.9 L243.2,998.1 L244.1,999.3 L244.9,1000.5 L245.8,1001.7 L246.6,1002.9 L247.5,1004.2 L248.4,1005.3 L249.2,1006.5 L250.1,1007.7 L251.0,1008.9 L251.8,1010.1 L252.7,1011.3 L253.6,1012.4 L254.4,1013.6 L255.3,1014.8 L256.1,1015.9 L257.0,1017.1 L257.9,1018.2 L258.7,1019.4 L259.6,1020.5 L260.5,1021.6 L261.3,1022.8 L262.2,1023.9 L263.1,1025.0 L263.9,1026.1 L264.8,1027.2 L265.6,1028.3 L266.5,1029.4 L267.4,1030.5 L268.2,1031.6 L269.1,1032.7 L270.0,1033.8 L270.8,1034.9 L271.7,1035.9 L272.6,1037.0 L273.4,1038.1 L274.3,1039.1 L275.1,1040.2 L276.0,1041.2 L276.9,1042.3 L277.7,1043.3 L278.6,1044.3 L279.5,1045.4 L280.3,1046.4 L281.2,1047.4 L282.1,1048.4 L282.9,1049.4 L283.8,1050.4 L284.6,1051.4 L285.5,1052.4 L286.4,1053.4 L287.2,1054.4 L288.1,1055.4 L289.0,1056.3 L289.8,1057.3 L290.7,1058.3 L291.6,1059.2 L292.4,1060.2 L293.3,1061.1 L294.1,1062.0 L295.0,1063.0 L295.9,1063.9 L296.7,1064.8 L297.6,1065.8 L298.5,1066.7 L299.3,1067.6 L300.2,1068.5 L301.1,1069.4 L301.9,1070.3 L302.8,1071.2 L303.6,1072.0 L304.5,1072.9 L305.4,1073.8 L306.2,1074.6 L307.1,1075.5 L308.0,1076.4 L308.8,1077.2 L309.7,1078.1 L310.6,1078.9 L311.4,1079.7 L312.3,1080.5 L313.1,1081.4 L314.0,1082.2 L314.9,1083.0 L315.7,1083.8 L316.6,1084.6 L317.5,1085.4 L318.3,1086.2 L319.2,1087.0 L320.1,1087.7 L320.9,1088.5 L321.8,1089.3 L322.6,1090.0 L323.5,1090.8 L324.4,1091.5 L325.2,1092.3 L326.1,1093.0 L327.0,1093.7 L327.8,1094.4 L328.7,1095.2 L329.6,1095.9 L330.4,1096.6 L331.3,1097.3 L332.1,1098.0 L333.0,1098.7 L333.9,1099.3 L334.7,1100.0 L335.6,1100.7 L336.5,1101.4 L337.3,1102.0 L338.2,1102.7 L339.1,1103.3 L339.9,1104.0 L340.8,1104.6 L341.6,1105.2 L342.5,1105.8 L343.4,1106.5 L344.2,1107.1 L345.1,1107.7 L346.0,1108.3 L346.8,1108.9 L347.7,1109.5 L348.6,1110.0 L349.4,1110.6 L350.3,1111.2 L351.1,1111.8 L352.0,1112.3 L352.9,1112.9 L353.7,1113.4 L354.6,1114.0 L355.5,1114.5 L356.3,1115.1 L357.2,1115.6 L358.1,1116.1 L358.9,1116.6 L359.8,1117.2 L360.6,1117.7 L361.5,1118.2 L362.4,1118.7 L363.2,1119.2 L364.1,1119.7 L365.0,1120.1 L365.8,1120.6 L366.7,1121.1 L367.6,1121.6 L368.4,1122.0 L369.3,1122.5 L370.1,1122.9 L371.0,1123.4 L371.9,1123.8 L372.7,1124.3 L373.6,1124.7 L374.5,1125.2 L375.3,1125.6 L376.2,1126.0 L377.1,1126.4 L377.9,1126.8 L378.8,1127.2 L379.6,1127.7 L380.5,1128.1 L381.4,1128.4 L382.2,1128.8 L383.1,1129.2 L384.0,1129.6 L384.8,1130.0 L385.7,1130.4 L386.6,1130.7 L387.4,1131.1 L388.3,1131.5 L389.1,1131.8 L390.0,1132.2 L390.9,1132.5 L391.7,1132.9 L392.6,1133.2 L393.5,1133.5 L394.3,1133.9 L395.2,1134.2 L396.1,1134.5 L396.9,1134.9 L397.8,1135.2 L398.6,1135.5 L399.5,1135.8 L400.4,1136.1 L401.2,1136.4 L402.1,1136.7 L403.0,1137.0 L403.8,1137.3 L404.7,1137.6 L405.6,1137.9 L406.4,1138.1 L407.3,1138.4 L408.1,1138.7 L409.0,1139.0 L409.9,1139.2 L410.7,1139.5 L411.6,1139.7 L412.5,1140.0 L413.3,1140.3 L414.2,1140.5 L415.1,1140.7 L415.9,1141.0 L416.8,1141.2 L417.6,1141.5 L418.5,1141.7 L419.4,1141.9 L420.2,1142.2 L421.1,1142.4 L422.0,1142.6 L422.8,1142.8 L423.7,1143.0 L424.6,1143.2 L425.4,1143.5 L426.3,1143.7 L427.1,1143.9 L428.0,1144.1 L428.9,1144.3 L429.7,1144.4 L430.6,1144.6 L431.5,1144.8 L432.3,1145.0 L433.2,1145.2 L434.1,1145.4 L434.9,1145.6 L435.8,1145.7 L436.6,1145.9 L437.5,1146.1 L438.4,1146.2 L439.2,1146.4 L440.1,1146.6 L441.0,1146.7 L441.8,1146.9 L442.7,1147.0 L443.6,1147.2 L444.4,1147.3 L445.3,1147.5 L446.1,1147.6 L447.0,1147.8 L447.9,1147.9 L448.7,1148.1 L449.6,1148.2 L450.5,1148.3 L451.3,1148.5 L452.2,1148.6 L453.1,1148.7 L453.9,1148.8 L454.8,1149.0 L455.6,1149.1 L456.5,1149.2 L457.4,1149.3 L458.2,1149.5 L459.1,1149.6 L460.0,1149.7 L460.8,1149.8 L461.7,1149.9 L462.5,1150.0 L463.4,1150.1 L464.3,1150.2 L465.1,1150.3 L466.0,1150.4 L466.9,1150.5 L467.7,1150.6 L468.6,1150.7 L469.5,1150.8 L470.3,1150.9 L471.2,1151.0 L472.0,1151.1 L472.9,1151.2 L473.8,1151.3 L474.6,1151.3 L475.5,1151.4 L476.4,1151.5 L477.2,1151.6 L478.1,1151.7 L479.0,1151.8 L479.8,1151.8 L480.7,1151.9 L481.5,1152.0 L482.4,1152.1 L483.3,1152.1 L484.1,1152.2 L485.0,1152.3 L485.9,1152.4 L486.7,1152.4 L487.6,1152.5 L488.5,1152.6 L489.3,1152.6 L490.2,1152.7 L491.0,1152.8 L491.9,1152.8 L492.8,1152.9 L493.6,1152.9 L494.5,1153.0 L495.4,1153.1 L496.2,1153.1 L497.1,1153.2 L498.0,1153.2 L498.8,1153.3 L499.7,1153.3 L500.5,1153.4 L501.4,1153.4 L502.3,1153.5 L503.1,1153.5 L504.0,1153.6 L504.9,1153.6 L505.7,1153.7 L506.6,1153.7 L507.5,1153.7 L508.3,1153.8 L509.2,1153.8 L510.0,1153.9 L510.9,1153.9 L511.8,1153.9 L512.6,1154.0 L513.5,1154.0 L514.4,1154.1 L515.2,1154.1 L516.1,1154.1 L517.0,1154.2 L517.8,1154.2 L518.7,1154.2 L519.5,1154.2 L520.4,1154.3 L521.3,1154.3 L522.1,1154.3 L523.0,1154.3 L523.9,1154.4 L524.7,1154.4 L525.6,1154.4 L526.5,1154.4 L527.3,1154.5 L528.2,1154.5 L529.0,1154.5 L529.9,1154.5 L530.8,1154.5 L531.6,1154.6 L532.5,1154.6 L533.4,1154.6 L534.2,1154.6 L535.1,1154.6 L536.0,1154.6 L536.8,1154.6 L537.7,1154.6 L538.5,1154.7 L539.4,1154.7 L540.3,1154.7 L541.1,1154.7 L542.0,1154.7 L542.9,1154.7 L543.7,1154.7 L544.6,1154.7 L545.5,1154.7 L546.3,1154.7 L547.2,1154.7 L548.0,1154.7 L548.9,1154.7 L549.8,1154.7 L550.6,1154.7 L551.5,1154.7 L552.4,1154.7 L553.2,1154.7 L554.1,1154.7 L555.0,1154.7 L555.8,1154.7 L556.7,1154.7 L557.5,1154.7 L558.4,1154.7 L559.3,1154.7 L560.1,1154.7 L561.0,1154.7 L561.9,1154.6 L562.7,1154.6 L563.6,1154.6 L564.5,1154.6 L565.3,1154.6 L566.2,1154.6 L567.0,1154.6 L567.9,1154.6 L568.8,1154.6 L569.6,1154.5 L570.5,1154.5 L571.4,1154.5 L572.2,1154.5 L573.1,1154.5 L574.0,1154.5 L574.8,1154.4 L575.7,1154.4 L576.5,1154.4 L577.4,1154.4 L578.3,1154.4 L579.1,1154.3 L580.0,1154.3 L580.9,1154.3 L581.7,1154.3 L582.6,1154.3 L583.5,1154.2 L584.3,1154.2 L585.2,1154.2 L586.0,1154.2 L586.9,1154.1 L587.8,1154.1 L588.6,1154.1 L589.5,1154.1" stroke="#77AC30"/>
</g>
<text x="329.3" y="690.6" text-anchor="middle" class="ti" textLength="209" lengthAdjust="spacingAndGlyphs">BETA POLOIDAL</text>
<text x="313.3" y="1202.9" class="rho">&#961;</text>
<text x="324.1" y="1213.6" class="sub" textLength="21.6" lengthAdjust="spacingAndGlyphs">tor</text>
<rect x="366.1" y="714.8" width="207.7" height="149.2" fill="#fff" stroke="#555" stroke-width="1.3"/>
<line x1="375.6" y1="731.7" x2="422.4" y2="731.7" stroke="#0072BD" stroke-width="2.8"/>
<text x="427.7" y="739.1" class="lg" textLength="85.7" lengthAdjust="spacingAndGlyphs">NBI only</text>
<line x1="375.6" y1="760.5" x2="422.4" y2="760.5" stroke="#D95319" stroke-width="2.8"/>
<text x="427.7" y="767.9" class="lg" textLength="109.5" lengthAdjust="spacingAndGlyphs">n(H)=0.1%</text>
<line x1="375.6" y1="789.3" x2="422.4" y2="789.3" stroke="#EDB120" stroke-width="2.8"/>
<text x="427.7" y="796.7" class="lg" textLength="137.3" lengthAdjust="spacingAndGlyphs">n(H)=1% (ref)</text>
<line x1="375.6" y1="818.1" x2="422.4" y2="818.1" stroke="#7E2F8E" stroke-width="2.8"/>
<text x="427.7" y="825.5" class="lg" textLength="89.1" lengthAdjust="spacingAndGlyphs">n(H)=5%</text>
<line x1="375.6" y1="846.9" x2="422.4" y2="846.9" stroke="#77AC30" stroke-width="2.8"/>
<text x="427.7" y="854.3" class="lg" textLength="102.5" lengthAdjust="spacingAndGlyphs">n(H)=10%</text>
<rect x="696.8" y="698.8" width="521.0" height="456.8" fill="none" stroke="#8c8c8c" stroke-width="1.8"/>
<line x1="696.8" y1="1155.6" x2="696.8" y2="1150.6" stroke="#6a6a6a" stroke-width="1.3"/>
<line x1="696.8" y1="698.8" x2="696.8" y2="703.8" stroke="#6a6a6a" stroke-width="1.3"/>
<text x="696.8" y="1178.1" text-anchor="middle" class="tk" textLength="10.8" lengthAdjust="spacingAndGlyphs">0</text>
<line x1="801.0" y1="1155.6" x2="801.0" y2="1150.6" stroke="#6a6a6a" stroke-width="1.3"/>
<line x1="801.0" y1="698.8" x2="801.0" y2="703.8" stroke="#6a6a6a" stroke-width="1.3"/>
<text x="801.0" y="1178.1" text-anchor="middle" class="tk" textLength="24.4" lengthAdjust="spacingAndGlyphs">0.2</text>
<line x1="905.2" y1="1155.6" x2="905.2" y2="1150.6" stroke="#6a6a6a" stroke-width="1.3"/>
<line x1="905.2" y1="698.8" x2="905.2" y2="703.8" stroke="#6a6a6a" stroke-width="1.3"/>
<text x="905.2" y="1178.1" text-anchor="middle" class="tk" textLength="24.4" lengthAdjust="spacingAndGlyphs">0.4</text>
<line x1="1009.4" y1="1155.6" x2="1009.4" y2="1150.6" stroke="#6a6a6a" stroke-width="1.3"/>
<line x1="1009.4" y1="698.8" x2="1009.4" y2="703.8" stroke="#6a6a6a" stroke-width="1.3"/>
<text x="1009.4" y="1178.1" text-anchor="middle" class="tk" textLength="24.4" lengthAdjust="spacingAndGlyphs">0.6</text>
<line x1="1113.6" y1="1155.6" x2="1113.6" y2="1150.6" stroke="#6a6a6a" stroke-width="1.3"/>
<line x1="1113.6" y1="698.8" x2="1113.6" y2="703.8" stroke="#6a6a6a" stroke-width="1.3"/>
<text x="1113.6" y="1178.1" text-anchor="middle" class="tk" textLength="24.4" lengthAdjust="spacingAndGlyphs">0.8</text>
<line x1="1217.8" y1="1155.6" x2="1217.8" y2="1150.6" stroke="#6a6a6a" stroke-width="1.3"/>
<line x1="1217.8" y1="698.8" x2="1217.8" y2="703.8" stroke="#6a6a6a" stroke-width="1.3"/>
<text x="1217.8" y="1178.1" text-anchor="middle" class="tk" textLength="10.8" lengthAdjust="spacingAndGlyphs">1</text>
<line x1="696.8" y1="1155.6" x2="701.8" y2="1155.6" stroke="#6a6a6a" stroke-width="1.3"/>
<line x1="1217.8" y1="1155.6" x2="1212.8" y2="1155.6" stroke="#6a6a6a" stroke-width="1.3"/>
<text x="691.0" y="1161.8" text-anchor="end" class="tk" textLength="10.8" lengthAdjust="spacingAndGlyphs">0</text>
<line x1="696.8" y1="1085.8" x2="701.8" y2="1085.8" stroke="#6a6a6a" stroke-width="1.3"/>
<line x1="1217.8" y1="1085.8" x2="1212.8" y2="1085.8" stroke="#6a6a6a" stroke-width="1.3"/>
<text x="691.0" y="1092.0" text-anchor="end" class="tk" textLength="10.8" lengthAdjust="spacingAndGlyphs">2</text>
<line x1="696.8" y1="1016.0" x2="701.8" y2="1016.0" stroke="#6a6a6a" stroke-width="1.3"/>
<line x1="1217.8" y1="1016.0" x2="1212.8" y2="1016.0" stroke="#6a6a6a" stroke-width="1.3"/>
<text x="691.0" y="1022.2" text-anchor="end" class="tk" textLength="10.8" lengthAdjust="spacingAndGlyphs">4</text>
<line x1="696.8" y1="946.2" x2="701.8" y2="946.2" stroke="#6a6a6a" stroke-width="1.3"/>
<line x1="1217.8" y1="946.2" x2="1212.8" y2="946.2" stroke="#6a6a6a" stroke-width="1.3"/>
<text x="691.0" y="952.4" text-anchor="end" class="tk" textLength="10.8" lengthAdjust="spacingAndGlyphs">6</text>
<line x1="696.8" y1="876.4" x2="701.8" y2="876.4" stroke="#6a6a6a" stroke-width="1.3"/>
<line x1="1217.8" y1="876.4" x2="1212.8" y2="876.4" stroke="#6a6a6a" stroke-width="1.3"/>
<text x="691.0" y="882.6" text-anchor="end" class="tk" textLength="10.8" lengthAdjust="spacingAndGlyphs">8</text>
<line x1="696.8" y1="806.6" x2="701.8" y2="806.6" stroke="#6a6a6a" stroke-width="1.3"/>
<line x1="1217.8" y1="806.6" x2="1212.8" y2="806.6" stroke="#6a6a6a" stroke-width="1.3"/>
<text x="691.0" y="812.8" text-anchor="end" class="tk" textLength="21.6" lengthAdjust="spacingAndGlyphs">10</text>
<line x1="696.8" y1="736.8" x2="701.8" y2="736.8" stroke="#6a6a6a" stroke-width="1.3"/>
<line x1="1217.8" y1="736.8" x2="1212.8" y2="736.8" stroke="#6a6a6a" stroke-width="1.3"/>
<text x="691.0" y="743.0" text-anchor="end" class="tk" textLength="21.6" lengthAdjust="spacingAndGlyphs">12</text>
<clipPath id="c4"><rect x="695.8" y="697.3" width="523.0" height="459.8"/></clipPath>
<g clip-path="url(#c4)" fill="none" stroke-width="2.8" stroke-linejoin="round" stroke-linecap="round">
<path d="M699.5,1077.7 L700.3,1077.6 L701.2,1077.5 L702.1,1077.4 L703.0,1077.3 L703.9,1077.2 L704.7,1077.0 L705.6,1076.9 L706.5,1076.7 L707.4,1076.6 L708.3,1076.4 L709.2,1076.2 L710.1,1076.0 L711.0,1075.9 L711.9,1075.7 L712.8,1075.5 L713.7,1075.4 L714.6,1075.2 L715.5,1075.1 L716.3,1075.0 L717.2,1074.9 L718.1,1074.8 L719.0,1074.8 L719.9,1074.7 L720.7,1074.7 L721.6,1074.7 L722.5,1074.7 L723.4,1074.8 L724.2,1074.8 L725.1,1074.9 L725.9,1075.0 L726.8,1075.1 L727.7,1075.2 L728.5,1075.3 L729.4,1075.5 L730.2,1075.6 L731.1,1075.8 L731.9,1076.0 L732.8,1076.2 L733.6,1076.4 L734.5,1076.6 L735.3,1076.8 L736.1,1077.0 L737.0,1077.3 L737.8,1077.5 L738.7,1077.7 L739.5,1078.0 L740.3,1078.2 L741.2,1078.5 L742.0,1078.8 L742.9,1079.0 L743.7,1079.3 L744.5,1079.6 L745.4,1079.8 L746.2,1080.1 L747.1,1080.4 L747.9,1080.7 L748.7,1080.9 L749.6,1081.2 L750.4,1081.5 L751.3,1081.7 L752.1,1082.0 L752.9,1082.2 L753.8,1082.5 L754.6,1082.8 L755.5,1083.0 L756.3,1083.3 L757.1,1083.6 L758.0,1083.8 L758.8,1084.1 L759.7,1084.3 L760.5,1084.6 L761.3,1084.9 L762.2,1085.1 L763.0,1085.4 L763.9,1085.6 L764.7,1085.9 L765.6,1086.1 L766.4,1086.4 L767.2,1086.6 L768.1,1086.9 L768.9,1087.2 L769.8,1087.4 L770.6,1087.7 L771.5,1087.9 L772.3,1088.2 L773.2,1088.4 L774.0,1088.7 L774.8,1088.9 L775.7,1089.2 L776.5,1089.4 L777.4,1089.7 L778.2,1090.0 L779.1,1090.2 L779.9,1090.5 L780.7,1090.7 L781.6,1091.0 L782.4,1091.2 L783.3,1091.5 L784.1,1091.7 L785.0,1092.0 L785.8,1092.2 L786.7,1092.5 L787.5,1092.8 L788.3,1093.0 L789.2,1093.3 L790.0,1093.5 L790.9,1093.8 L791.7,1094.0 L792.6,1094.3 L793.4,1094.6 L794.2,1094.8 L795.1,1095.1 L795.9,1095.3 L796.8,1095.6 L797.6,1095.9 L798.5,1096.1 L799.3,1096.4 L800.1,1096.7 L801.0,1096.9 L801.8,1097.2 L802.7,1097.4 L803.5,1097.7 L804.4,1098.0 L805.2,1098.2 L806.0,1098.5 L806.9,1098.8 L807.7,1099.0 L808.6,1099.3 L809.4,1099.6 L810.2,1099.8 L811.1,1100.1 L811.9,1100.4 L812.8,1100.7 L813.6,1100.9 L814.4,1101.2 L815.3,1101.5 L816.1,1101.7 L817.0,1102.0 L817.8,1102.3 L818.6,1102.6 L819.5,1102.8 L820.3,1103.1 L821.2,1103.4 L822.0,1103.6 L822.9,1103.9 L823.7,1104.2 L824.5,1104.5 L825.4,1104.7 L826.2,1105.0 L827.1,1105.3 L827.9,1105.6 L828.7,1105.8 L829.6,1106.1 L830.4,1106.4 L831.3,1106.7 L832.1,1106.9 L832.9,1107.2 L833.8,1107.5 L834.6,1107.8 L835.5,1108.0 L836.3,1108.3 L837.1,1108.6 L838.0,1108.8 L838.8,1109.1 L839.7,1109.4 L840.5,1109.7 L841.3,1109.9 L842.2,1110.2 L843.0,1110.5 L843.9,1110.8 L844.7,1111.0 L845.5,1111.3 L846.4,1111.6 L847.2,1111.9 L848.1,1112.1 L848.9,1112.4 L849.7,1112.7 L850.6,1113.0 L851.4,1113.2 L852.3,1113.5 L853.1,1113.8 L853.9,1114.1 L854.8,1114.3 L855.6,1114.6 L856.5,1114.9 L857.3,1115.1 L858.1,1115.4 L859.0,1115.7 L859.8,1116.0 L860.7,1116.2 L861.5,1116.5 L862.4,1116.8 L863.2,1117.0 L864.0,1117.3 L864.9,1117.6 L865.7,1117.8 L866.6,1118.1 L867.4,1118.4 L868.3,1118.6 L869.1,1118.9 L869.9,1119.2 L870.8,1119.4 L871.6,1119.7 L872.5,1120.0 L873.3,1120.2 L874.1,1120.5 L875.0,1120.8 L875.8,1121.0 L876.7,1121.3 L877.5,1121.6 L878.4,1121.8 L879.2,1122.1 L880.1,1122.3 L880.9,1122.6 L881.7,1122.9 L882.6,1123.1 L883.4,1123.4 L884.3,1123.6 L885.1,1123.9 L886.0,1124.1 L886.8,1124.4 L887.7,1124.7 L888.5,1124.9 L889.3,1125.2 L890.2,1125.4 L891.0,1125.7 L891.9,1125.9 L892.7,1126.2 L893.6,1126.4 L894.4,1126.7 L895.3,1126.9 L896.1,1127.2 L897.0,1127.4 L897.8,1127.7 L898.7,1127.9 L899.5,1128.1 L900.4,1128.4 L901.2,1128.6 L902.0,1128.9 L902.9,1129.1 L903.7,1129.4 L904.6,1129.6 L905.4,1129.8 L906.3,1130.1 L907.1,1130.3 L908.0,1130.5 L908.8,1130.8 L909.7,1131.0 L910.5,1131.2 L911.4,1131.5 L912.2,1131.7 L913.1,1131.9 L913.9,1132.2 L914.8,1132.4 L915.6,1132.6 L916.5,1132.8 L917.4,1133.1 L918.2,1133.3 L919.1,1133.5 L919.9,1133.7 L920.8,1133.9 L921.6,1134.2 L922.5,1134.4 L923.3,1134.6 L924.2,1134.8 L925.0,1135.0 L925.9,1135.2 L926.7,1135.4 L927.6,1135.7 L928.5,1135.9 L929.3,1136.1 L930.2,1136.3 L931.0,1136.5 L931.9,1136.7 L932.7,1136.9 L933.6,1137.1 L934.5,1137.3 L935.3,1137.5 L936.2,1137.7 L937.0,1137.9 L937.9,1138.1 L938.7,1138.3 L939.6,1138.5 L940.5,1138.7 L941.3,1138.8 L942.2,1139.0 L943.0,1139.2 L943.9,1139.4 L944.8,1139.6 L945.6,1139.8 L946.5,1140.0 L947.4,1140.1 L948.2,1140.3 L949.1,1140.5 L949.9,1140.7 L950.8,1140.8 L951.7,1141.0 L952.5,1141.2 L953.4,1141.4 L954.3,1141.5 L955.1,1141.7 L956.0,1141.9 L956.9,1142.0 L957.7,1142.2 L958.6,1142.4 L959.5,1142.5 L960.3,1142.7 L961.2,1142.9 L962.1,1143.0 L962.9,1143.2 L963.8,1143.3 L964.7,1143.5 L965.5,1143.6 L966.4,1143.8 L967.3,1143.9 L968.1,1144.1 L969.0,1144.2 L969.9,1144.4 L970.7,1144.5 L971.6,1144.7 L972.5,1144.8 L973.3,1145.0 L974.2,1145.1 L975.1,1145.3 L975.9,1145.4 L976.8,1145.5 L977.7,1145.7 L978.6,1145.8 L979.4,1145.9 L980.3,1146.1 L981.2,1146.2 L982.0,1146.3 L982.9,1146.5 L983.8,1146.6 L984.7,1146.7 L985.5,1146.9 L986.4,1147.0 L987.3,1147.1 L988.2,1147.2 L989.0,1147.4 L989.9,1147.5 L990.8,1147.6 L991.6,1147.7 L992.5,1147.8 L993.4,1148.0 L994.3,1148.1 L995.1,1148.2 L996.0,1148.3 L996.9,1148.4 L997.8,1148.5 L998.6,1148.6 L999.5,1148.8 L1000.4,1148.9 L1001.3,1149.0 L1002.1,1149.1 L1003.0,1149.2 L1003.9,1149.3 L1004.8,1149.4 L1005.6,1149.5 L1006.5,1149.6 L1007.4,1149.7 L1008.3,1149.8 L1009.2,1149.9 L1010.0,1150.0 L1010.9,1150.1 L1011.8,1150.2 L1012.7,1150.3 L1013.5,1150.4 L1014.4,1150.5 L1015.3,1150.6 L1016.2,1150.7 L1017.1,1150.7 L1017.9,1150.8 L1018.8,1150.9 L1019.7,1151.0 L1020.6,1151.1 L1021.4,1151.2 L1022.3,1151.3 L1023.2,1151.3 L1024.1,1151.4 L1025.0,1151.5 L1025.8,1151.6 L1026.7,1151.7 L1027.6,1151.7 L1028.5,1151.8 L1029.4,1151.9 L1030.2,1152.0 L1031.1,1152.0 L1032.0,1152.1 L1032.9,1152.2 L1033.8,1152.2 L1034.6,1152.3 L1035.5,1152.4 L1036.4,1152.5 L1037.3,1152.5 L1038.2,1152.6 L1039.0,1152.7 L1039.9,1152.7 L1040.8,1152.8 L1041.7,1152.8 L1042.6,1152.9 L1043.5,1153.0 L1044.3,1153.0 L1045.2,1153.1 L1046.1,1153.1 L1047.0,1153.2 L1047.9,1153.3 L1048.7,1153.3 L1049.6,1153.4 L1050.5,1153.4 L1051.4,1153.5 L1052.3,1153.5 L1053.2,1153.6 L1054.0,1153.6 L1054.9,1153.7 L1055.8,1153.7 L1056.7,1153.8 L1057.6,1153.8 L1058.4,1153.9 L1059.3,1153.9 L1060.2,1153.9 L1061.1,1154.0 L1062.0,1154.0 L1062.9,1154.1 L1063.7,1154.1 L1064.6,1154.2 L1065.5,1154.2 L1066.4,1154.2 L1067.3,1154.3 L1068.2,1154.3 L1069.0,1154.3 L1069.9,1154.4 L1070.8,1154.4 L1071.7,1154.4 L1072.6,1154.5 L1073.4,1154.5 L1074.3,1154.5 L1075.2,1154.6 L1076.1,1154.6 L1077.0,1154.6 L1077.9,1154.7 L1078.7,1154.7 L1079.6,1154.7 L1080.5,1154.7 L1081.4,1154.8 L1082.3,1154.8 L1083.2,1154.8 L1084.0,1154.8 L1084.9,1154.8 L1085.8,1154.9 L1086.7,1154.9 L1087.6,1154.9 L1088.5,1154.9 L1089.3,1154.9 L1090.2,1155.0 L1091.1,1155.0 L1092.0,1155.0 L1092.9,1155.0 L1093.8,1155.0 L1094.6,1155.0 L1095.5,1155.0 L1096.4,1155.1 L1097.3,1155.1 L1098.2,1155.1 L1099.0,1155.1 L1099.9,1155.1 L1100.8,1155.1 L1101.7,1155.1 L1102.6,1155.1 L1103.5,1155.1 L1104.3,1155.1 L1105.2,1155.1 L1106.1,1155.2 L1107.0,1155.2 L1107.9,1155.2 L1108.8,1155.2 L1109.6,1155.2 L1110.5,1155.2 L1111.4,1155.2 L1112.3,1155.2 L1113.2,1155.2 L1114.0,1155.2 L1114.9,1155.2 L1115.8,1155.2 L1116.7,1155.2 L1117.6,1155.2 L1118.5,1155.2 L1119.3,1155.2 L1120.2,1155.2 L1121.1,1155.2 L1122.0,1155.2 L1122.9,1155.2 L1123.7,1155.2 L1124.6,1155.2 L1125.5,1155.2 L1126.4,1155.2 L1127.3,1155.1 L1128.2,1155.1 L1129.0,1155.1 L1129.9,1155.1 L1130.8,1155.1 L1131.7,1155.1 L1132.6,1155.1 L1133.4,1155.1 L1134.3,1155.1 L1135.2,1155.1 L1136.1,1155.1 L1137.0,1155.1 L1137.9,1155.1 L1138.7,1155.1 L1139.6,1155.1 L1140.5,1155.1 L1141.4,1155.1 L1142.3,1155.0 L1143.2,1155.0 L1144.0,1155.0 L1144.9,1155.0 L1145.8,1155.0 L1146.7,1155.0 L1147.6,1155.0 L1148.4,1155.0 L1149.3,1155.0 L1150.2,1155.0 L1151.1,1155.0 L1152.0,1155.0 L1152.9,1155.0 L1153.7,1155.0 L1154.6,1155.0 L1155.5,1154.9 L1156.4,1154.9 L1157.3,1154.9 L1158.1,1154.9 L1159.0,1154.9 L1159.9,1154.9 L1160.8,1154.9 L1161.7,1154.9 L1162.6,1154.9 L1163.4,1154.9 L1164.3,1154.9 L1165.2,1154.9 L1166.1,1154.9 L1167.0,1154.9 L1167.9,1154.9 L1168.7,1154.9 L1169.6,1154.9 L1170.5,1154.9 L1171.4,1154.9 L1172.3,1154.9 L1173.1,1154.9 L1174.0,1154.9 L1174.9,1154.8 L1175.8,1154.8 L1176.7,1154.8 L1177.6,1154.8 L1178.4,1154.8 L1179.3,1154.8 L1180.2,1154.8 L1181.1,1154.9 L1182.0,1154.9 L1182.9,1154.9 L1183.7,1154.9 L1184.6,1154.9 L1185.5,1154.9 L1186.4,1154.9 L1187.3,1154.9 L1188.2,1154.9 L1189.0,1154.9 L1189.9,1154.9 L1190.8,1154.9 L1191.7,1154.9 L1192.6,1154.9 L1193.4,1154.9 L1194.3,1154.9 L1195.2,1154.9 L1196.1,1155.0 L1197.0,1155.0 L1197.9,1155.0 L1198.7,1155.0 L1199.6,1155.0 L1200.5,1155.0 L1201.4,1155.0 L1202.3,1155.0 L1203.2,1155.1 L1204.0,1155.1 L1204.9,1155.1 L1205.8,1155.1 L1206.7,1155.1 L1207.6,1155.2 L1208.5,1155.2 L1209.4,1155.2 L1210.2,1155.2 L1211.1,1155.2 L1212.0,1155.3 L1212.9,1155.3 L1213.8,1155.3 L1214.7,1155.3 L1215.5,1155.4 L1216.4,1155.4 L1217.3,1155.4" stroke="#0072BD"/>
<path d="M699.9,1061.4 L700.6,1059.6 L701.3,1057.8 L702.0,1056.1 L702.7,1054.3 L703.4,1052.5 L704.0,1050.7 L704.7,1048.9 L705.3,1047.1 L705.9,1045.3 L706.5,1043.5 L707.1,1041.7 L707.7,1039.9 L708.3,1038.1 L708.9,1036.3 L709.4,1034.5 L710.0,1032.7 L710.5,1030.9 L711.0,1029.0 L711.6,1027.2 L712.1,1025.4 L712.6,1023.6 L713.1,1021.7 L713.6,1019.9 L714.0,1018.1 L714.5,1016.2 L715.0,1014.4 L715.4,1012.6 L715.9,1010.7 L716.3,1008.9 L716.7,1007.0 L717.1,1005.2 L717.6,1003.4 L718.0,1001.5 L718.4,999.7 L718.8,997.8 L719.1,995.9 L719.5,994.1 L719.9,992.2 L720.3,990.4 L720.6,988.5 L721.0,986.7 L721.3,984.8 L721.7,982.9 L722.0,981.1 L722.4,979.2 L722.7,977.3 L723.0,975.5 L723.4,973.6 L723.7,971.7 L724.0,969.9 L724.3,968.0 L724.6,966.1 L724.9,964.2 L725.2,962.4 L725.5,960.5 L725.8,958.6 L726.1,956.7 L726.4,954.8 L726.7,953.0 L727.0,951.1 L727.2,949.2 L727.5,947.3 L727.8,945.4 L728.1,943.6 L728.4,941.7 L728.6,939.8 L728.9,937.9 L729.2,936.0 L729.4,934.1 L729.7,932.3 L730.0,930.4 L730.2,928.5 L730.5,926.6 L730.8,924.7 L731.0,922.8 L731.3,920.9 L731.6,919.1 L731.8,917.2 L732.1,915.3 L732.4,913.4 L732.6,911.5 L732.9,909.6 L733.1,907.7 L733.4,905.8 L733.6,904.0 L733.9,902.1 L734.2,900.2 L734.4,898.3 L734.7,896.4 L734.9,894.5 L735.2,892.6 L735.4,890.7 L735.7,888.8 L735.9,887.0 L736.2,885.1 L736.4,883.2 L736.7,881.3 L736.9,879.4 L737.2,877.5 L737.4,875.6 L737.7,873.7 L737.9,871.9 L738.2,870.0 L738.4,868.1 L738.7,866.2 L738.9,864.3 L739.1,862.4 L739.4,860.5 L739.6,858.6 L739.9,856.8 L740.1,854.9 L740.3,853.0 L740.6,851.1 L740.8,849.2 L741.1,847.3 L741.3,845.4 L741.5,843.6 L741.8,841.7 L742.0,839.8 L742.2,837.9 L742.5,836.0 L742.7,834.1 L742.9,832.2 L743.2,830.4 L743.4,828.5 L743.6,826.6 L743.9,824.7 L744.1,822.8 L744.3,821.0 L744.6,819.1 L744.8,817.2 L745.0,815.3 L745.2,813.4 L745.5,811.6 L745.7,809.7 L745.9,807.8 L746.2,805.9 L746.4,804.0 L746.6,802.2 L746.8,800.3 L747.1,798.4 L747.3,796.5 L747.5,794.7 L747.7,792.8 L747.9,790.9 L748.2,789.0 L748.4,787.2 L748.6,785.3 L748.8,783.4 L749.1,781.6 L749.3,779.7 L749.5,777.8 L749.7,776.0 L749.9,774.1 L750.2,772.2 L750.4,770.4 L750.6,768.5 L750.8,766.6 L751.0,764.8 L751.3,762.9 L751.5,761.0 L751.7,759.1 L751.9,757.3 L752.2,755.4 L752.4,753.5 L752.6,751.6 L752.9,749.7 L753.1,747.9 L753.4,746.0 L753.6,744.1 L753.9,742.2 L754.2,740.2 L754.5,738.3 L754.8,736.4 L755.1,734.5 L755.4,732.5 L755.7,730.6 L756.0,728.6 L756.3,726.7 L756.7,724.7 L757.0,722.7 L757.4,720.8 L757.8,718.8 L758.2,716.8 L758.7,714.9 L759.2,713.0 L759.8,711.2 L760.4,709.4 L761.1,707.7 L762.0,706.1 L762.9,704.7 L763.9,703.3 L765.1,702.1 L766.4,701.0 L767.7,700.4 L769.0,700.4 L770.2,700.9 L771.3,701.9 L772.4,703.3 L773.4,705.0 L774.3,706.8 L775.2,708.8 L775.9,710.8 L776.6,712.7 L777.3,714.6 L777.9,716.5 L778.4,718.3 L779.0,720.1 L779.5,722.0 L780.0,723.8 L780.6,725.6 L781.1,727.4 L781.7,729.2 L782.3,731.0 L782.8,732.8 L783.4,734.7 L783.9,736.5 L784.5,738.3 L785.0,740.1 L785.6,741.9 L786.2,743.7 L786.7,745.5 L787.3,747.3 L787.8,749.2 L788.4,751.0 L788.9,752.8 L789.5,754.6 L790.0,756.4 L790.5,758.2 L791.1,760.1 L791.6,761.9 L792.1,763.7 L792.7,765.5 L793.2,767.3 L793.7,769.2 L794.2,771.0 L794.7,772.8 L795.2,774.7 L795.8,776.5 L796.3,778.3 L796.8,780.1 L797.3,782.0 L797.8,783.8 L798.3,785.6 L798.8,787.5 L799.3,789.3 L799.7,791.1 L800.2,793.0 L800.7,794.8 L801.2,796.6 L801.7,798.5 L802.2,800.3 L802.6,802.1 L803.1,804.0 L803.6,805.8 L804.0,807.7 L804.5,809.5 L805.0,811.3 L805.4,813.2 L805.9,815.0 L806.3,816.9 L806.8,818.7 L807.2,820.6 L807.7,822.4 L808.1,824.3 L808.6,826.1 L809.0,828.0 L809.4,829.8 L809.9,831.7 L810.3,833.5 L810.7,835.4 L811.2,837.2 L811.6,839.1 L812.0,840.9 L812.4,842.8 L812.8,844.6 L813.3,846.5 L813.7,848.3 L814.1,850.2 L814.5,852.0 L814.9,853.9 L815.3,855.8 L815.7,857.6 L816.1,859.5 L816.5,861.3 L816.9,863.2 L817.3,865.1 L817.7,866.9 L818.0,868.8 L818.4,870.6 L818.8,872.5 L819.2,874.4 L819.6,876.2 L819.9,878.1 L820.3,880.0 L820.7,881.8 L821.0,883.7 L821.4,885.5 L821.8,887.4 L822.1,889.3 L822.5,891.1 L822.8,893.0 L823.2,894.9 L823.5,896.8 L823.9,898.6 L824.2,900.5 L824.6,902.4 L824.9,904.2 L825.3,906.1 L825.6,908.0 L825.9,909.8 L826.3,911.7 L826.6,913.6 L826.9,915.5 L827.3,917.3 L827.6,919.2 L827.9,921.1 L828.3,922.9 L828.6,924.8 L828.9,926.7 L829.3,928.6 L829.6,930.4 L829.9,932.3 L830.2,934.2 L830.6,936.0 L830.9,937.9 L831.2,939.8 L831.6,941.7 L831.9,943.5 L832.2,945.4 L832.6,947.3 L832.9,949.1 L833.2,951.0 L833.6,952.9 L833.9,954.7 L834.2,956.6 L834.6,958.5 L834.9,960.3 L835.3,962.2 L835.6,964.1 L836.0,965.9 L836.3,967.8 L836.7,969.7 L837.0,971.5 L837.4,973.4 L837.7,975.3 L838.1,977.1 L838.5,979.0 L838.8,980.9 L839.2,982.7 L839.6,984.6 L839.9,986.4 L840.3,988.3 L840.7,990.2 L841.1,992.0 L841.5,993.9 L841.9,995.7 L842.3,997.6 L842.7,999.4 L843.1,1001.3 L843.5,1003.2 L843.9,1005.0 L844.3,1006.9 L844.8,1008.7 L845.2,1010.6 L845.6,1012.4 L846.1,1014.2 L846.5,1016.1 L847.0,1017.9 L847.4,1019.8 L847.9,1021.6 L848.3,1023.5 L848.8,1025.3 L849.3,1027.1 L849.8,1029.0 L850.3,1030.8 L850.8,1032.6 L851.3,1034.5 L851.8,1036.3 L852.3,1038.1 L852.8,1040.0 L853.3,1041.8 L853.9,1043.6 L854.4,1045.4 L855.0,1047.3 L855.5,1049.1 L856.1,1050.9 L856.7,1052.7 L857.3,1054.5 L857.9,1056.3 L858.5,1058.1 L859.1,1059.9 L859.8,1061.7 L860.4,1063.5 L861.1,1065.2 L861.8,1067.0 L862.5,1068.7 L863.2,1070.5 L864.0,1072.2 L864.8,1074.0 L865.5,1075.7 L866.3,1077.4 L867.2,1079.1 L868.0,1080.8 L868.9,1082.4 L869.8,1084.1 L870.7,1085.7 L871.7,1087.4 L872.6,1089.0 L873.6,1090.6 L874.6,1092.2 L875.7,1093.8 L876.8,1095.3 L877.9,1096.9 L879.0,1098.4 L880.2,1099.9 L881.4,1101.4 L882.6,1102.9 L883.9,1104.4 L885.2,1105.8 L886.5,1107.3 L887.9,1108.6 L889.2,1110.0 L890.7,1111.3 L892.2,1112.5 L893.7,1113.7 L895.2,1114.8 L896.8,1115.8 L898.4,1116.8 L900.1,1117.6 L901.8,1118.4 L903.6,1119.0 L905.3,1119.6 L907.2,1120.1 L909.0,1120.5 L910.8,1120.9 L912.7,1121.3 L914.5,1121.8 L916.4,1122.2 L918.2,1122.6 L920.1,1123.0 L921.9,1123.4 L923.8,1123.8 L925.6,1124.2 L927.5,1124.6 L929.4,1125.0 L931.2,1125.4 L933.1,1125.8 L935.0,1126.2 L936.8,1126.6 L938.7,1126.9 L940.6,1127.3 L942.4,1127.7 L944.3,1128.0 L946.2,1128.3 L948.0,1128.7 L949.9,1129.0 L951.8,1129.3 L953.7,1129.6 L955.5,1129.9 L957.4,1130.3 L959.3,1130.6 L961.2,1130.9 L963.0,1131.2 L964.9,1131.5 L966.8,1131.8 L968.7,1132.1 L970.5,1132.4 L972.4,1132.8 L974.3,1133.1 L976.1,1133.4 L978.0,1133.7 L979.9,1134.1 L981.7,1134.4 L983.6,1134.8 L985.5,1135.2 L987.3,1135.6 L989.2,1136.0 L991.0,1136.4 L992.9,1136.8 L994.7,1137.2 L996.6,1137.7 L998.4,1138.2 L1000.3,1138.6 L1002.1,1139.1 L1003.9,1139.6 L1005.8,1140.1 L1007.6,1140.5 L1009.5,1141.0 L1011.3,1141.5 L1013.1,1142.0 L1015.0,1142.5 L1016.8,1143.0 L1018.6,1143.4 L1020.5,1143.9 L1022.3,1144.4 L1024.2,1144.8 L1026.0,1145.2 L1027.9,1145.7 L1029.7,1146.1 L1031.6,1146.4 L1033.5,1146.8 L1035.3,1147.2 L1037.2,1147.5 L1039.0,1147.8 L1040.9,1148.1 L1042.8,1148.4 L1044.7,1148.6 L1046.6,1148.9 L1048.4,1149.1 L1050.3,1149.4 L1052.2,1149.6 L1054.1,1149.8 L1056.0,1150.0 L1057.9,1150.2 L1059.8,1150.3 L1061.7,1150.5 L1063.6,1150.7 L1065.4,1150.8 L1067.3,1151.0 L1069.2,1151.1 L1071.1,1151.3 L1073.0,1151.4 L1074.9,1151.5 L1076.8,1151.7 L1078.7,1151.8 L1080.6,1151.9 L1082.5,1152.1 L1084.4,1152.2 L1086.3,1152.3 L1088.2,1152.4 L1090.1,1152.5 L1092.0,1152.7 L1093.9,1152.8 L1095.8,1152.9 L1097.7,1153.0 L1099.6,1153.1 L1101.5,1153.2 L1103.4,1153.3 L1105.3,1153.4 L1107.2,1153.5 L1109.1,1153.6 L1111.0,1153.7 L1112.9,1153.8 L1114.7,1153.8 L1116.6,1153.9 L1118.5,1154.0 L1120.4,1154.1 L1122.3,1154.2 L1124.2,1154.2 L1126.1,1154.3 L1128.0,1154.3 L1129.9,1154.4 L1131.8,1154.5 L1133.7,1154.5 L1135.6,1154.6 L1137.5,1154.6 L1139.4,1154.7 L1141.3,1154.7 L1143.2,1154.7 L1145.1,1154.8 L1147.0,1154.8 L1148.9,1154.9 L1150.8,1154.9 L1152.7,1154.9 L1154.6,1155.0 L1156.5,1155.0 L1158.4,1155.0 L1160.3,1155.0 L1162.2,1155.1 L1164.1,1155.1 L1166.0,1155.1 L1167.9,1155.1 L1169.8,1155.1 L1171.7,1155.2 L1173.6,1155.2 L1175.5,1155.2 L1177.4,1155.2 L1179.3,1155.2 L1181.2,1155.3 L1183.1,1155.3 L1185.0,1155.3 L1186.9,1155.3 L1188.8,1155.3 L1190.7,1155.3 L1192.6,1155.4 L1194.5,1155.4 L1196.4,1155.4 L1198.3,1155.4 L1200.2,1155.4 L1202.1,1155.5 L1204.0,1155.5 L1205.9,1155.5 L1207.8,1155.5 L1209.7,1155.6 L1211.6,1155.6 L1213.5,1155.6 L1215.4,1155.7 L1217.3,1155.7" stroke="#D95319"/>
<path d="M699.8,1063.2 L700.5,1062.0 L701.2,1060.8 L701.9,1059.5 L702.6,1058.3 L703.3,1057.0 L704.0,1055.8 L704.7,1054.5 L705.3,1053.2 L706.0,1052.0 L706.6,1050.7 L707.2,1049.4 L707.8,1048.1 L708.5,1046.9 L709.0,1045.6 L709.6,1044.3 L710.2,1043.0 L710.8,1041.7 L711.3,1040.3 L711.8,1039.0 L712.4,1037.7 L712.9,1036.4 L713.4,1035.1 L713.9,1033.7 L714.4,1032.4 L714.9,1031.1 L715.4,1029.7 L715.8,1028.4 L716.3,1027.0 L716.8,1025.7 L717.2,1024.3 L717.6,1023.0 L718.1,1021.6 L718.5,1020.3 L718.9,1018.9 L719.3,1017.5 L719.7,1016.2 L720.1,1014.8 L720.5,1013.4 L720.9,1012.0 L721.2,1010.6 L721.6,1009.3 L721.9,1007.9 L722.3,1006.5 L722.6,1005.1 L723.0,1003.7 L723.3,1002.3 L723.7,1000.9 L724.0,999.5 L724.3,998.1 L724.6,996.7 L724.9,995.3 L725.2,993.9 L725.5,992.5 L725.8,991.1 L726.1,989.7 L726.4,988.3 L726.7,986.9 L727.0,985.5 L727.3,984.1 L727.5,982.7 L727.8,981.2 L728.1,979.8 L728.3,978.4 L728.6,977.0 L728.8,975.6 L729.1,974.2 L729.4,972.8 L729.6,971.3 L729.9,969.9 L730.1,968.5 L730.3,967.1 L730.6,965.7 L730.8,964.3 L731.1,962.8 L731.3,961.4 L731.5,960.0 L731.8,958.6 L732.0,957.2 L732.3,955.8 L732.5,954.4 L732.7,953.0 L733.0,951.6 L733.2,950.1 L733.4,948.7 L733.7,947.3 L733.9,945.9 L734.1,944.5 L734.4,943.1 L734.6,941.7 L734.9,940.3 L735.1,938.9 L735.3,937.5 L735.6,936.1 L735.8,934.7 L736.1,933.3 L736.3,931.9 L736.6,930.5 L736.8,929.2 L737.1,927.8 L737.3,926.4 L737.5,925.0 L737.8,923.6 L738.1,922.2 L738.3,920.8 L738.6,919.4 L738.8,918.0 L739.1,916.6 L739.3,915.2 L739.6,913.8 L739.9,912.4 L740.1,911.1 L740.4,909.7 L740.7,908.3 L740.9,906.9 L741.2,905.5 L741.5,904.1 L741.8,902.7 L742.0,901.3 L742.3,899.9 L742.6,898.5 L742.9,897.1 L743.2,895.7 L743.5,894.3 L743.8,892.9 L744.1,891.5 L744.4,890.1 L744.7,888.7 L745.0,887.3 L745.3,885.9 L745.6,884.5 L745.9,883.0 L746.2,881.6 L746.5,880.2 L746.9,878.8 L747.2,877.4 L747.5,876.0 L747.8,874.5 L748.2,873.1 L748.5,871.7 L748.8,870.3 L749.2,868.8 L749.5,867.4 L749.9,866.0 L750.3,864.6 L750.7,863.2 L751.2,861.8 L751.7,860.4 L752.2,859.0 L752.9,857.7 L753.5,856.4 L754.2,855.2 L755.1,853.9 L755.9,852.8 L756.9,851.6 L757.9,850.6 L759.0,849.7 L760.1,848.9 L761.3,848.3 L762.5,847.9 L763.7,847.7 L764.9,847.6 L766.1,847.8 L767.2,848.2 L768.3,848.7 L769.4,849.4 L770.3,850.2 L771.2,851.2 L772.1,852.3 L772.8,853.5 L773.5,854.8 L774.1,856.2 L774.7,857.6 L775.3,859.0 L775.8,860.5 L776.3,861.9 L776.8,863.3 L777.3,864.8 L777.8,866.2 L778.3,867.6 L778.8,869.0 L779.2,870.4 L779.7,871.8 L780.1,873.2 L780.6,874.6 L781.0,876.0 L781.5,877.4 L781.9,878.7 L782.3,880.1 L782.7,881.5 L783.1,882.9 L783.5,884.2 L783.9,885.6 L784.3,886.9 L784.7,888.3 L785.1,889.7 L785.5,891.0 L785.9,892.4 L786.3,893.7 L786.7,895.1 L787.0,896.5 L787.4,897.8 L787.8,899.2 L788.2,900.6 L788.6,901.9 L789.0,903.3 L789.4,904.6 L789.7,906.0 L790.1,907.4 L790.5,908.7 L790.9,910.1 L791.3,911.5 L791.7,912.8 L792.1,914.2 L792.4,915.5 L792.8,916.9 L793.2,918.3 L793.6,919.6 L794.0,921.0 L794.4,922.4 L794.8,923.7 L795.2,925.1 L795.5,926.5 L795.9,927.8 L796.3,929.2 L796.7,930.6 L797.1,931.9 L797.5,933.3 L797.9,934.7 L798.3,936.0 L798.7,937.4 L799.1,938.8 L799.5,940.1 L799.9,941.5 L800.3,942.9 L800.7,944.2 L801.1,945.6 L801.5,947.0 L801.9,948.4 L802.3,949.7 L802.7,951.1 L803.1,952.5 L803.5,953.8 L803.9,955.2 L804.3,956.6 L804.7,957.9 L805.1,959.3 L805.5,960.7 L806.0,962.0 L806.4,963.4 L806.8,964.8 L807.2,966.2 L807.6,967.5 L808.0,968.9 L808.5,970.3 L808.9,971.6 L809.3,973.0 L809.7,974.4 L810.2,975.7 L810.6,977.1 L811.0,978.5 L811.5,979.9 L811.9,981.2 L812.3,982.6 L812.8,984.0 L813.2,985.3 L813.7,986.7 L814.1,988.1 L814.6,989.4 L815.0,990.8 L815.5,992.2 L815.9,993.5 L816.4,994.9 L816.9,996.3 L817.3,997.6 L817.8,999.0 L818.3,1000.3 L818.8,1001.7 L819.3,1003.0 L819.8,1004.4 L820.2,1005.7 L820.7,1007.1 L821.2,1008.4 L821.8,1009.8 L822.3,1011.1 L822.8,1012.5 L823.3,1013.8 L823.8,1015.1 L824.4,1016.5 L824.9,1017.8 L825.5,1019.1 L826.0,1020.4 L826.6,1021.7 L827.1,1023.1 L827.7,1024.4 L828.3,1025.7 L828.8,1027.0 L829.4,1028.3 L830.0,1029.6 L830.6,1030.9 L831.2,1032.2 L831.8,1033.4 L832.5,1034.7 L833.1,1036.0 L833.7,1037.3 L834.4,1038.5 L835.0,1039.8 L835.7,1041.1 L836.3,1042.3 L837.0,1043.6 L837.7,1044.8 L838.4,1046.0 L839.1,1047.3 L839.8,1048.5 L840.5,1049.7 L841.2,1050.9 L842.0,1052.1 L842.7,1053.3 L843.5,1054.5 L844.2,1055.7 L845.0,1056.9 L845.8,1058.1 L846.6,1059.3 L847.4,1060.5 L848.2,1061.6 L849.0,1062.8 L849.8,1063.9 L850.7,1065.1 L851.5,1066.2 L852.4,1067.3 L853.3,1068.4 L854.2,1069.6 L855.0,1070.7 L856.0,1071.8 L856.9,1072.8 L857.8,1073.9 L858.7,1075.0 L859.7,1076.1 L860.6,1077.1 L861.6,1078.2 L862.6,1079.2 L863.6,1080.3 L864.6,1081.3 L865.6,1082.3 L866.6,1083.3 L867.7,1084.3 L868.7,1085.3 L869.7,1086.3 L870.8,1087.3 L871.9,1088.2 L872.9,1089.2 L874.0,1090.1 L875.1,1091.1 L876.2,1092.0 L877.3,1092.9 L878.5,1093.8 L879.6,1094.7 L880.7,1095.6 L881.9,1096.5 L883.0,1097.3 L884.2,1098.2 L885.3,1099.0 L886.5,1099.9 L887.7,1100.7 L888.9,1101.5 L890.1,1102.3 L891.3,1103.1 L892.5,1103.8 L893.7,1104.6 L894.9,1105.4 L896.2,1106.1 L897.4,1106.8 L898.6,1107.5 L899.9,1108.2 L901.1,1108.9 L902.4,1109.6 L903.6,1110.3 L904.9,1110.9 L906.2,1111.6 L907.5,1112.2 L908.8,1112.8 L910.1,1113.4 L911.3,1114.0 L912.7,1114.5 L914.0,1115.1 L915.3,1115.6 L916.6,1116.1 L917.9,1116.6 L919.3,1117.1 L920.6,1117.5 L922.0,1118.0 L923.3,1118.4 L924.7,1118.8 L926.0,1119.1 L927.4,1119.5 L928.8,1119.8 L930.2,1120.1 L931.6,1120.4 L933.0,1120.6 L934.4,1120.8 L935.8,1121.0 L937.2,1121.2 L938.7,1121.3 L940.1,1121.5 L941.5,1121.6 L943.0,1121.7 L944.4,1121.9 L945.9,1122.0 L947.3,1122.1 L948.7,1122.3 L950.2,1122.4 L951.6,1122.6 L953.0,1122.8 L954.4,1123.1 L955.8,1123.3 L957.3,1123.6 L958.7,1123.9 L960.1,1124.2 L961.4,1124.5 L962.8,1124.8 L964.2,1125.2 L965.6,1125.5 L967.0,1125.9 L968.4,1126.3 L969.8,1126.6 L971.1,1127.0 L972.5,1127.4 L973.9,1127.8 L975.3,1128.2 L976.7,1128.6 L978.0,1129.0 L979.4,1129.4 L980.8,1129.8 L982.2,1130.1 L983.5,1130.5 L984.9,1130.9 L986.3,1131.2 L987.7,1131.6 L989.1,1131.9 L990.5,1132.2 L991.9,1132.6 L993.2,1132.9 L994.6,1133.2 L996.0,1133.5 L997.4,1133.8 L998.8,1134.1 L1000.2,1134.4 L1001.6,1134.6 L1003.0,1134.9 L1004.4,1135.2 L1005.8,1135.4 L1007.2,1135.7 L1008.6,1135.9 L1010.0,1136.2 L1011.4,1136.4 L1012.8,1136.7 L1014.2,1136.9 L1015.6,1137.1 L1017.1,1137.3 L1018.5,1137.6 L1019.9,1137.8 L1021.3,1138.0 L1022.7,1138.2 L1024.1,1138.4 L1025.5,1138.6 L1026.9,1138.8 L1028.3,1139.0 L1029.8,1139.2 L1031.2,1139.4 L1032.6,1139.6 L1034.0,1139.8 L1035.4,1140.0 L1036.8,1140.2 L1038.2,1140.4 L1039.7,1140.6 L1041.1,1140.7 L1042.5,1140.9 L1043.9,1141.1 L1045.3,1141.3 L1046.7,1141.5 L1048.2,1141.7 L1049.6,1141.9 L1051.0,1142.1 L1052.4,1142.2 L1053.8,1142.4 L1055.2,1142.6 L1056.6,1142.8 L1058.1,1143.0 L1059.5,1143.2 L1060.9,1143.4 L1062.3,1143.6 L1063.7,1143.8 L1065.1,1144.0 L1066.6,1144.2 L1068.0,1144.4 L1069.4,1144.6 L1070.8,1144.8 L1072.2,1145.0 L1073.6,1145.2 L1075.0,1145.4 L1076.5,1145.6 L1077.9,1145.8 L1079.3,1146.0 L1080.7,1146.2 L1082.1,1146.4 L1083.5,1146.6 L1084.9,1146.8 L1086.4,1147.0 L1087.8,1147.2 L1089.2,1147.4 L1090.6,1147.6 L1092.0,1147.8 L1093.4,1148.0 L1094.8,1148.2 L1096.3,1148.4 L1097.7,1148.6 L1099.1,1148.8 L1100.5,1149.0 L1101.9,1149.2 L1103.3,1149.4 L1104.7,1149.6 L1106.2,1149.7 L1107.6,1149.9 L1109.0,1150.1 L1110.4,1150.3 L1111.8,1150.5 L1113.2,1150.6 L1114.7,1150.8 L1116.1,1151.0 L1117.5,1151.1 L1118.9,1151.3 L1120.3,1151.5 L1121.7,1151.6 L1123.2,1151.8 L1124.6,1151.9 L1126.0,1152.1 L1127.4,1152.2 L1128.8,1152.3 L1130.3,1152.5 L1131.7,1152.6 L1133.1,1152.7 L1134.5,1152.9 L1135.9,1153.0 L1137.4,1153.1 L1138.8,1153.2 L1140.2,1153.3 L1141.6,1153.4 L1143.1,1153.5 L1144.5,1153.6 L1145.9,1153.7 L1147.3,1153.8 L1148.8,1153.9 L1150.2,1154.0 L1151.6,1154.1 L1153.0,1154.2 L1154.5,1154.2 L1155.9,1154.3 L1157.3,1154.4 L1158.7,1154.4 L1160.2,1154.5 L1161.6,1154.6 L1163.0,1154.6 L1164.4,1154.7 L1165.9,1154.7 L1167.3,1154.8 L1168.7,1154.8 L1170.2,1154.9 L1171.6,1154.9 L1173.0,1154.9 L1174.4,1155.0 L1175.9,1155.0 L1177.3,1155.0 L1178.7,1155.1 L1180.2,1155.1 L1181.6,1155.1 L1183.0,1155.2 L1184.5,1155.2 L1185.9,1155.2 L1187.3,1155.2 L1188.7,1155.3 L1190.2,1155.3 L1191.6,1155.3 L1193.0,1155.3 L1194.5,1155.4 L1195.9,1155.4 L1197.3,1155.4 L1198.7,1155.4 L1200.2,1155.4 L1201.6,1155.5 L1203.0,1155.5 L1204.5,1155.5 L1205.9,1155.5 L1207.3,1155.5 L1208.7,1155.6 L1210.2,1155.6 L1211.6,1155.6 L1213.0,1155.6 L1214.4,1155.6 L1215.9,1155.7 L1217.3,1155.7" stroke="#EDB120"/>
<path d="M699.5,996.7 L700.6,996.4 L701.7,996.0 L702.9,995.6 L703.9,995.2 L705.0,994.7 L706.1,994.3 L707.1,993.8 L708.1,993.3 L709.1,992.7 L710.1,992.2 L711.0,991.6 L711.9,991.0 L712.8,990.4 L713.7,989.8 L714.6,989.1 L715.5,988.4 L716.3,987.7 L717.1,987.0 L718.0,986.3 L718.8,985.6 L719.5,984.8 L720.3,984.1 L721.1,983.3 L721.8,982.5 L722.5,981.7 L723.2,980.8 L723.9,980.0 L724.6,979.1 L725.3,978.3 L726.0,977.4 L726.6,976.5 L727.3,975.6 L727.9,974.7 L728.5,973.8 L729.2,972.9 L729.8,971.9 L730.4,971.0 L731.0,970.1 L731.5,969.1 L732.1,968.1 L732.7,967.2 L733.2,966.2 L733.8,965.2 L734.4,964.2 L734.9,963.2 L735.4,962.2 L736.0,961.2 L736.5,960.2 L737.0,959.2 L737.6,958.2 L738.1,957.2 L738.6,956.2 L739.1,955.2 L739.7,954.2 L740.2,953.1 L740.7,952.1 L741.2,951.1 L741.7,950.1 L742.3,949.1 L742.8,948.1 L743.3,947.1 L743.8,946.1 L744.3,945.1 L744.9,944.1 L745.4,943.1 L745.9,942.1 L746.5,941.1 L747.0,940.2 L747.6,939.2 L748.1,938.2 L748.7,937.3 L749.3,936.3 L749.9,935.4 L750.5,934.5 L751.1,933.5 L751.7,932.6 L752.4,931.7 L753.1,930.8 L753.8,929.9 L754.5,929.0 L755.3,928.1 L756.1,927.2 L757.0,926.4 L757.8,925.5 L758.7,924.7 L759.6,923.9 L760.6,923.1 L761.6,922.4 L762.5,921.8 L763.5,921.2 L764.5,920.7 L765.5,920.4 L766.6,920.1 L767.6,919.9 L768.6,919.8 L769.6,919.8 L770.6,920.0 L771.6,920.2 L772.6,920.4 L773.6,920.8 L774.6,921.2 L775.6,921.6 L776.6,922.2 L777.5,922.7 L778.5,923.3 L779.4,924.0 L780.3,924.6 L781.2,925.3 L782.0,926.0 L782.9,926.7 L783.7,927.4 L784.5,928.1 L785.3,928.9 L786.1,929.6 L786.8,930.4 L787.6,931.2 L788.3,932.0 L789.0,932.8 L789.7,933.7 L790.4,934.5 L791.0,935.4 L791.7,936.2 L792.3,937.1 L792.9,938.0 L793.5,938.9 L794.1,939.8 L794.7,940.8 L795.3,941.7 L795.9,942.6 L796.4,943.6 L796.9,944.6 L797.5,945.5 L798.0,946.5 L798.5,947.5 L799.0,948.5 L799.5,949.5 L800.0,950.5 L800.4,951.5 L800.9,952.6 L801.4,953.6 L801.8,954.6 L802.3,955.7 L802.7,956.7 L803.1,957.8 L803.6,958.8 L804.0,959.9 L804.4,960.9 L804.8,962.0 L805.2,963.1 L805.7,964.1 L806.1,965.2 L806.5,966.3 L806.9,967.4 L807.3,968.4 L807.7,969.5 L808.1,970.6 L808.5,971.7 L808.9,972.8 L809.3,973.8 L809.7,974.9 L810.1,976.0 L810.5,977.1 L810.9,978.1 L811.3,979.2 L811.7,980.3 L812.1,981.3 L812.5,982.4 L812.9,983.5 L813.4,984.5 L813.8,985.6 L814.2,986.6 L814.6,987.7 L815.1,988.7 L815.5,989.8 L816.0,990.8 L816.4,991.9 L816.8,992.9 L817.3,993.9 L817.7,995.0 L818.2,996.0 L818.7,997.0 L819.1,998.0 L819.6,999.1 L820.0,1000.1 L820.5,1001.1 L821.0,1002.1 L821.5,1003.1 L821.9,1004.1 L822.4,1005.1 L822.9,1006.2 L823.4,1007.2 L823.9,1008.2 L824.4,1009.2 L824.9,1010.1 L825.4,1011.1 L825.9,1012.1 L826.4,1013.1 L826.9,1014.1 L827.4,1015.1 L828.0,1016.1 L828.5,1017.0 L829.0,1018.0 L829.5,1019.0 L830.1,1020.0 L830.6,1020.9 L831.1,1021.9 L831.7,1022.9 L832.2,1023.8 L832.8,1024.8 L833.3,1025.7 L833.9,1026.7 L834.4,1027.6 L835.0,1028.6 L835.6,1029.5 L836.1,1030.5 L836.7,1031.4 L837.3,1032.4 L837.9,1033.3 L838.5,1034.2 L839.0,1035.2 L839.6,1036.1 L840.2,1037.0 L840.8,1038.0 L841.4,1038.9 L842.0,1039.8 L842.7,1040.7 L843.3,1041.7 L843.9,1042.6 L844.5,1043.5 L845.1,1044.4 L845.8,1045.3 L846.4,1046.2 L847.0,1047.1 L847.7,1048.0 L848.3,1048.9 L848.9,1049.8 L849.6,1050.7 L850.2,1051.6 L850.9,1052.5 L851.6,1053.4 L852.2,1054.3 L852.9,1055.2 L853.6,1056.0 L854.3,1056.9 L854.9,1057.8 L855.6,1058.7 L856.3,1059.6 L857.0,1060.4 L857.7,1061.3 L858.4,1062.2 L859.1,1063.0 L859.8,1063.9 L860.5,1064.8 L861.2,1065.6 L861.9,1066.5 L862.7,1067.3 L863.4,1068.2 L864.1,1069.1 L864.9,1069.9 L865.6,1070.8 L866.3,1071.6 L867.1,1072.4 L867.8,1073.3 L868.6,1074.1 L869.3,1075.0 L870.1,1075.8 L870.8,1076.7 L871.6,1077.5 L872.3,1078.3 L873.1,1079.2 L873.9,1080.0 L874.6,1080.8 L875.4,1081.7 L876.1,1082.5 L876.9,1083.4 L877.7,1084.2 L878.4,1085.0 L879.2,1085.9 L879.9,1086.7 L880.7,1087.5 L881.4,1088.3 L882.2,1089.2 L883.0,1090.0 L883.7,1090.8 L884.5,1091.7 L885.2,1092.5 L886.0,1093.4 L886.7,1094.2 L887.4,1095.0 L888.2,1095.9 L888.9,1096.7 L889.7,1097.5 L890.4,1098.4 L891.1,1099.2 L891.8,1100.1 L892.6,1100.9 L893.3,1101.7 L894.0,1102.6 L894.7,1103.4 L895.4,1104.3 L896.1,1105.1 L896.8,1106.0 L897.5,1106.8 L898.2,1107.7 L898.9,1108.5 L899.6,1109.4 L900.3,1110.2 L901.0,1111.1 L901.7,1112.0 L902.4,1112.8 L903.1,1113.7 L903.8,1114.5 L904.5,1115.4 L905.3,1116.2 L906.0,1117.1 L906.8,1118.0 L907.6,1118.8 L908.3,1119.7 L909.1,1120.5 L909.9,1121.3 L910.8,1122.1 L911.6,1122.9 L912.4,1123.7 L913.3,1124.5 L914.2,1125.2 L915.1,1125.9 L916.0,1126.6 L916.9,1127.2 L917.8,1127.8 L918.8,1128.4 L919.7,1128.9 L920.7,1129.4 L921.7,1129.8 L922.7,1130.2 L923.8,1130.6 L924.8,1131.0 L925.8,1131.3 L926.9,1131.5 L928.0,1131.8 L929.1,1132.0 L930.1,1132.2 L931.2,1132.4 L932.3,1132.6 L933.5,1132.7 L934.6,1132.8 L935.7,1132.9 L936.8,1133.0 L937.9,1133.1 L939.1,1133.2 L940.2,1133.2 L941.3,1133.3 L942.5,1133.3 L943.6,1133.4 L944.7,1133.4 L945.8,1133.5 L947.0,1133.5 L948.1,1133.5 L949.2,1133.6 L950.3,1133.6 L951.4,1133.7 L952.6,1133.7 L953.7,1133.8 L954.8,1133.8 L955.9,1133.8 L957.0,1133.9 L958.1,1133.9 L959.3,1134.0 L960.4,1134.0 L961.5,1134.1 L962.6,1134.1 L963.7,1134.2 L964.8,1134.2 L965.9,1134.3 L967.0,1134.4 L968.1,1134.4 L969.3,1134.5 L970.4,1134.6 L971.5,1134.7 L972.6,1134.8 L973.7,1134.9 L974.8,1135.0 L975.9,1135.1 L977.0,1135.2 L978.1,1135.3 L979.2,1135.4 L980.3,1135.5 L981.4,1135.7 L982.5,1135.8 L983.6,1135.9 L984.8,1136.1 L985.9,1136.2 L987.0,1136.4 L988.1,1136.5 L989.2,1136.7 L990.3,1136.8 L991.4,1137.0 L992.5,1137.2 L993.6,1137.3 L994.7,1137.5 L995.8,1137.7 L996.9,1137.8 L998.0,1138.0 L999.1,1138.2 L1000.2,1138.4 L1001.3,1138.5 L1002.4,1138.7 L1003.6,1138.9 L1004.7,1139.1 L1005.8,1139.2 L1006.9,1139.4 L1008.0,1139.6 L1009.1,1139.8 L1010.2,1139.9 L1011.3,1140.1 L1012.4,1140.3 L1013.5,1140.4 L1014.6,1140.6 L1015.7,1140.8 L1016.8,1140.9 L1018.0,1141.1 L1019.1,1141.2 L1020.2,1141.4 L1021.3,1141.5 L1022.4,1141.6 L1023.5,1141.8 L1024.6,1141.9 L1025.7,1142.0 L1026.8,1142.2 L1027.9,1142.3 L1029.1,1142.4 L1030.2,1142.5 L1031.3,1142.6 L1032.4,1142.7 L1033.5,1142.8 L1034.6,1142.8 L1035.7,1142.9 L1036.9,1143.0 L1038.0,1143.0 L1039.1,1143.1 L1040.2,1143.2 L1041.3,1143.2 L1042.4,1143.3 L1043.5,1143.3 L1044.7,1143.4 L1045.8,1143.5 L1046.9,1143.5 L1048.0,1143.6 L1049.1,1143.7 L1050.2,1143.7 L1051.3,1143.8 L1052.5,1143.9 L1053.6,1144.0 L1054.7,1144.1 L1055.8,1144.2 L1056.9,1144.3 L1058.0,1144.4 L1059.1,1144.6 L1060.2,1144.7 L1061.3,1144.9 L1062.4,1145.0 L1063.5,1145.2 L1064.6,1145.4 L1065.8,1145.6 L1066.9,1145.8 L1068.0,1146.0 L1069.1,1146.1 L1070.2,1146.3 L1071.3,1146.5 L1072.4,1146.7 L1073.5,1146.9 L1074.6,1147.0 L1075.7,1147.2 L1076.8,1147.4 L1077.9,1147.5 L1079.0,1147.7 L1080.1,1147.8 L1081.2,1148.0 L1082.3,1148.2 L1083.4,1148.3 L1084.6,1148.4 L1085.7,1148.6 L1086.8,1148.7 L1087.9,1148.9 L1089.0,1149.0 L1090.1,1149.1 L1091.2,1149.3 L1092.3,1149.4 L1093.4,1149.5 L1094.5,1149.7 L1095.7,1149.8 L1096.8,1149.9 L1097.9,1150.0 L1099.0,1150.1 L1100.1,1150.3 L1101.2,1150.4 L1102.3,1150.5 L1103.4,1150.6 L1104.5,1150.7 L1105.7,1150.8 L1106.8,1150.9 L1107.9,1151.0 L1109.0,1151.1 L1110.1,1151.2 L1111.2,1151.3 L1112.3,1151.4 L1113.4,1151.5 L1114.6,1151.6 L1115.7,1151.6 L1116.8,1151.7 L1117.9,1151.8 L1119.0,1151.9 L1120.1,1152.0 L1121.2,1152.0 L1122.4,1152.1 L1123.5,1152.2 L1124.6,1152.3 L1125.7,1152.3 L1126.8,1152.4 L1127.9,1152.5 L1129.0,1152.5 L1130.2,1152.6 L1131.3,1152.7 L1132.4,1152.7 L1133.5,1152.8 L1134.6,1152.9 L1135.7,1152.9 L1136.9,1153.0 L1138.0,1153.0 L1139.1,1153.1 L1140.2,1153.1 L1141.3,1153.2 L1142.4,1153.2 L1143.6,1153.3 L1144.7,1153.3 L1145.8,1153.4 L1146.9,1153.4 L1148.0,1153.5 L1149.1,1153.5 L1150.3,1153.6 L1151.4,1153.6 L1152.5,1153.6 L1153.6,1153.7 L1154.7,1153.7 L1155.8,1153.8 L1157.0,1153.8 L1158.1,1153.8 L1159.2,1153.9 L1160.3,1153.9 L1161.4,1153.9 L1162.6,1154.0 L1163.7,1154.0 L1164.8,1154.0 L1165.9,1154.1 L1167.0,1154.1 L1168.1,1154.1 L1169.3,1154.2 L1170.4,1154.2 L1171.5,1154.2 L1172.6,1154.2 L1173.7,1154.3 L1174.8,1154.3 L1176.0,1154.3 L1177.1,1154.4 L1178.2,1154.4 L1179.3,1154.4 L1180.4,1154.4 L1181.6,1154.5 L1182.7,1154.5 L1183.8,1154.5 L1184.9,1154.5 L1186.0,1154.6 L1187.1,1154.6 L1188.3,1154.6 L1189.4,1154.6 L1190.5,1154.7 L1191.6,1154.7 L1192.7,1154.7 L1193.8,1154.7 L1195.0,1154.8 L1196.1,1154.8 L1197.2,1154.8 L1198.3,1154.8 L1199.4,1154.9 L1200.6,1154.9 L1201.7,1154.9 L1202.8,1154.9 L1203.9,1155.0 L1205.0,1155.0 L1206.1,1155.0 L1207.3,1155.1 L1208.4,1155.1 L1209.5,1155.1 L1210.6,1155.1 L1211.7,1155.2 L1212.8,1155.2 L1213.9,1155.2 L1215.1,1155.3 L1216.2,1155.3 L1217.3,1155.3" stroke="#7E2F8E"/>
<path d="M699.4,940.6 L700.7,940.4 L701.9,940.2 L703.0,939.9 L704.2,939.6 L705.3,939.3 L706.4,939.0 L707.5,938.6 L708.6,938.2 L709.6,937.7 L710.7,937.3 L711.7,936.8 L712.7,936.2 L713.7,935.7 L714.6,935.1 L715.6,934.5 L716.5,933.9 L717.4,933.3 L718.3,932.6 L719.2,932.0 L720.1,931.3 L721.0,930.5 L721.8,929.8 L722.7,929.1 L723.5,928.3 L724.3,927.5 L725.1,926.7 L725.9,925.9 L726.7,925.1 L727.5,924.3 L728.3,923.4 L729.1,922.6 L729.8,921.7 L730.6,920.8 L731.4,920.0 L732.1,919.1 L732.9,918.2 L733.6,917.3 L734.3,916.4 L735.1,915.5 L735.8,914.6 L736.5,913.7 L737.3,912.8 L738.0,911.9 L738.8,911.0 L739.5,910.1 L740.2,909.2 L741.0,908.3 L741.8,907.4 L742.5,906.5 L743.3,905.7 L744.1,904.8 L744.8,903.9 L745.6,903.1 L746.4,902.2 L747.3,901.4 L748.1,900.6 L748.9,899.8 L749.8,899.0 L750.7,898.2 L751.6,897.4 L752.5,896.7 L753.4,896.0 L754.3,895.3 L755.3,894.6 L756.3,893.9 L757.3,893.2 L758.3,892.6 L759.3,892.0 L760.4,891.4 L761.5,890.9 L762.5,890.4 L763.6,889.9 L764.7,889.5 L765.8,889.2 L766.9,888.9 L768.0,888.6 L769.0,888.4 L770.1,888.3 L771.2,888.3 L772.2,888.3 L773.3,888.4 L774.3,888.6 L775.3,888.8 L776.3,889.2 L777.3,889.6 L778.3,890.0 L779.2,890.6 L780.1,891.1 L781.0,891.8 L781.9,892.4 L782.8,893.2 L783.7,893.9 L784.5,894.7 L785.4,895.5 L786.2,896.4 L787.0,897.2 L787.8,898.1 L788.5,899.0 L789.3,899.9 L790.0,900.8 L790.7,901.7 L791.4,902.6 L792.1,903.5 L792.8,904.5 L793.5,905.4 L794.1,906.3 L794.7,907.3 L795.4,908.3 L796.0,909.2 L796.6,910.2 L797.1,911.2 L797.7,912.2 L798.3,913.2 L798.8,914.2 L799.3,915.2 L799.9,916.2 L800.4,917.2 L800.9,918.2 L801.4,919.3 L801.9,920.3 L802.3,921.3 L802.8,922.4 L803.2,923.4 L803.7,924.5 L804.1,925.5 L804.6,926.6 L805.0,927.7 L805.4,928.7 L805.8,929.8 L806.2,930.9 L806.6,932.0 L807.0,933.0 L807.4,934.1 L807.7,935.2 L808.1,936.3 L808.5,937.4 L808.8,938.5 L809.2,939.6 L809.5,940.7 L809.9,941.8 L810.2,942.9 L810.6,944.0 L810.9,945.1 L811.2,946.2 L811.6,947.4 L811.9,948.5 L812.2,949.6 L812.5,950.7 L812.9,951.8 L813.2,952.9 L813.5,954.0 L813.8,955.2 L814.2,956.3 L814.5,957.4 L814.8,958.5 L815.1,959.6 L815.5,960.7 L815.8,961.8 L816.1,963.0 L816.4,964.1 L816.8,965.2 L817.1,966.3 L817.4,967.4 L817.7,968.5 L818.1,969.6 L818.4,970.7 L818.7,971.8 L819.1,972.9 L819.4,974.0 L819.8,975.1 L820.1,976.2 L820.4,977.3 L820.8,978.4 L821.1,979.5 L821.5,980.6 L821.8,981.7 L822.2,982.8 L822.5,983.9 L822.9,985.0 L823.2,986.1 L823.6,987.2 L823.9,988.3 L824.3,989.4 L824.6,990.5 L825.0,991.6 L825.4,992.6 L825.7,993.7 L826.1,994.8 L826.5,995.9 L826.8,997.0 L827.2,998.1 L827.6,999.1 L828.0,1000.2 L828.3,1001.3 L828.7,1002.4 L829.1,1003.5 L829.5,1004.5 L829.9,1005.6 L830.3,1006.7 L830.7,1007.8 L831.1,1008.8 L831.4,1009.9 L831.8,1011.0 L832.2,1012.1 L832.6,1013.1 L833.1,1014.2 L833.5,1015.3 L833.9,1016.3 L834.3,1017.4 L834.7,1018.4 L835.1,1019.5 L835.5,1020.6 L836.0,1021.6 L836.4,1022.7 L836.8,1023.7 L837.2,1024.8 L837.7,1025.9 L838.1,1026.9 L838.5,1028.0 L839.0,1029.0 L839.4,1030.1 L839.9,1031.1 L840.3,1032.2 L840.8,1033.2 L841.2,1034.3 L841.7,1035.3 L842.2,1036.3 L842.6,1037.4 L843.1,1038.4 L843.6,1039.5 L844.0,1040.5 L844.5,1041.5 L845.0,1042.6 L845.5,1043.6 L846.0,1044.7 L846.4,1045.7 L846.9,1046.7 L847.4,1047.7 L847.9,1048.8 L848.4,1049.8 L848.9,1050.8 L849.5,1051.9 L850.0,1052.9 L850.5,1053.9 L851.0,1054.9 L851.5,1055.9 L852.1,1057.0 L852.6,1058.0 L853.1,1059.0 L853.7,1060.0 L854.2,1061.0 L854.8,1062.0 L855.3,1063.0 L855.9,1064.0 L856.4,1065.0 L857.0,1066.0 L857.5,1067.0 L858.1,1068.0 L858.7,1069.0 L859.3,1070.0 L859.8,1071.0 L860.4,1072.0 L861.0,1073.0 L861.6,1074.0 L862.2,1075.0 L862.8,1076.0 L863.4,1076.9 L864.0,1077.9 L864.6,1078.9 L865.3,1079.8 L865.9,1080.8 L866.5,1081.8 L867.2,1082.7 L867.8,1083.7 L868.4,1084.6 L869.1,1085.6 L869.7,1086.5 L870.4,1087.5 L871.1,1088.4 L871.7,1089.4 L872.4,1090.3 L873.1,1091.2 L873.7,1092.1 L874.4,1093.1 L875.1,1094.0 L875.8,1094.9 L876.5,1095.8 L877.2,1096.7 L877.9,1097.6 L878.7,1098.5 L879.4,1099.4 L880.1,1100.3 L880.8,1101.2 L881.6,1102.1 L882.3,1102.9 L883.1,1103.8 L883.8,1104.7 L884.6,1105.5 L885.3,1106.4 L886.1,1107.2 L886.9,1108.1 L887.7,1108.9 L888.5,1109.8 L889.3,1110.6 L890.1,1111.4 L890.9,1112.2 L891.7,1113.0 L892.5,1113.8 L893.3,1114.7 L894.1,1115.4 L895.0,1116.2 L895.8,1117.0 L896.7,1117.8 L897.5,1118.6 L898.4,1119.3 L899.2,1120.1 L900.1,1120.9 L901.0,1121.6 L901.9,1122.4 L902.8,1123.1 L903.6,1123.8 L904.5,1124.6 L905.5,1125.3 L906.4,1126.0 L907.3,1126.7 L908.2,1127.4 L909.2,1128.0 L910.1,1128.7 L911.0,1129.4 L912.0,1130.0 L913.0,1130.6 L913.9,1131.3 L914.9,1131.9 L915.9,1132.5 L916.9,1133.0 L917.9,1133.6 L918.9,1134.1 L919.9,1134.7 L920.9,1135.2 L921.9,1135.7 L922.9,1136.1 L924.0,1136.6 L925.0,1137.0 L926.0,1137.4 L927.1,1137.8 L928.2,1138.2 L929.2,1138.6 L930.3,1138.9 L931.4,1139.2 L932.5,1139.5 L933.6,1139.8 L934.7,1140.1 L935.8,1140.3 L936.9,1140.6 L938.0,1140.8 L939.1,1141.0 L940.2,1141.2 L941.3,1141.4 L942.5,1141.5 L943.6,1141.7 L944.7,1141.9 L945.9,1142.0 L947.0,1142.2 L948.2,1142.3 L949.3,1142.4 L950.5,1142.5 L951.6,1142.6 L952.8,1142.7 L953.9,1142.9 L955.1,1143.0 L956.2,1143.1 L957.4,1143.2 L958.5,1143.3 L959.7,1143.4 L960.8,1143.5 L962.0,1143.6 L963.1,1143.7 L964.3,1143.8 L965.4,1143.9 L966.6,1144.0 L967.7,1144.1 L968.9,1144.2 L970.0,1144.3 L971.2,1144.4 L972.3,1144.5 L973.5,1144.7 L974.6,1144.8 L975.8,1144.9 L976.9,1145.0 L978.1,1145.1 L979.2,1145.2 L980.3,1145.3 L981.5,1145.4 L982.6,1145.6 L983.8,1145.7 L984.9,1145.8 L986.1,1145.9 L987.2,1146.0 L988.4,1146.1 L989.5,1146.2 L990.7,1146.3 L991.8,1146.5 L992.9,1146.6 L994.1,1146.7 L995.2,1146.8 L996.4,1146.9 L997.5,1147.0 L998.7,1147.1 L999.8,1147.3 L1001.0,1147.4 L1002.1,1147.5 L1003.2,1147.6 L1004.4,1147.7 L1005.5,1147.8 L1006.7,1147.9 L1007.8,1148.0 L1009.0,1148.1 L1010.1,1148.2 L1011.2,1148.3 L1012.4,1148.4 L1013.5,1148.5 L1014.7,1148.6 L1015.8,1148.7 L1017.0,1148.8 L1018.1,1148.9 L1019.2,1149.0 L1020.4,1149.1 L1021.5,1149.2 L1022.7,1149.3 L1023.8,1149.4 L1025.0,1149.5 L1026.1,1149.6 L1027.2,1149.7 L1028.4,1149.8 L1029.5,1149.9 L1030.7,1150.0 L1031.8,1150.0 L1032.9,1150.1 L1034.1,1150.2 L1035.2,1150.3 L1036.4,1150.4 L1037.5,1150.4 L1038.7,1150.5 L1039.8,1150.6 L1040.9,1150.7 L1042.1,1150.7 L1043.2,1150.8 L1044.4,1150.9 L1045.5,1150.9 L1046.7,1151.0 L1047.8,1151.0 L1048.9,1151.1 L1050.1,1151.2 L1051.2,1151.2 L1052.4,1151.3 L1053.5,1151.3 L1054.7,1151.4 L1055.8,1151.4 L1056.9,1151.4 L1058.1,1151.5 L1059.2,1151.5 L1060.4,1151.5 L1061.5,1151.6 L1062.7,1151.6 L1063.8,1151.6 L1064.9,1151.7 L1066.1,1151.7 L1067.2,1151.7 L1068.4,1151.7 L1069.5,1151.7 L1070.7,1151.7 L1071.8,1151.7 L1073.0,1151.7 L1074.1,1151.7 L1075.3,1151.8 L1076.4,1151.8 L1077.5,1151.7 L1078.7,1151.7 L1079.8,1151.7 L1081.0,1151.7 L1082.1,1151.7 L1083.3,1151.7 L1084.4,1151.7 L1085.6,1151.7 L1086.7,1151.7 L1087.9,1151.6 L1089.0,1151.6 L1090.2,1151.6 L1091.3,1151.6 L1092.5,1151.6 L1093.6,1151.5 L1094.8,1151.5 L1095.9,1151.5 L1097.1,1151.5 L1098.2,1151.4 L1099.3,1151.4 L1100.5,1151.4 L1101.6,1151.3 L1102.8,1151.3 L1103.9,1151.3 L1105.1,1151.2 L1106.2,1151.2 L1107.4,1151.2 L1108.5,1151.2 L1109.7,1151.1 L1110.8,1151.1 L1112.0,1151.0 L1113.1,1151.0 L1114.3,1151.0 L1115.4,1150.9 L1116.6,1150.9 L1117.7,1150.9 L1118.9,1150.8 L1120.0,1150.8 L1121.2,1150.8 L1122.3,1150.7 L1123.5,1150.7 L1124.6,1150.7 L1125.8,1150.7 L1126.9,1150.6 L1128.1,1150.6 L1129.2,1150.6 L1130.4,1150.5 L1131.5,1150.5 L1132.7,1150.5 L1133.8,1150.5 L1134.9,1150.4 L1136.1,1150.4 L1137.2,1150.4 L1138.4,1150.4 L1139.5,1150.4 L1140.7,1150.3 L1141.8,1150.3 L1143.0,1150.3 L1144.1,1150.3 L1145.3,1150.3 L1146.4,1150.3 L1147.6,1150.3 L1148.7,1150.3 L1149.9,1150.3 L1151.0,1150.3 L1152.2,1150.3 L1153.3,1150.3 L1154.5,1150.3 L1155.6,1150.3 L1156.8,1150.3 L1157.9,1150.3 L1159.0,1150.3 L1160.2,1150.3 L1161.3,1150.3 L1162.5,1150.4 L1163.6,1150.4 L1164.8,1150.4 L1165.9,1150.4 L1167.1,1150.5 L1168.2,1150.5 L1169.4,1150.5 L1170.5,1150.6 L1171.6,1150.6 L1172.8,1150.7 L1173.9,1150.7 L1175.1,1150.8 L1176.2,1150.8 L1177.4,1150.9 L1178.5,1151.0 L1179.7,1151.0 L1180.8,1151.1 L1181.9,1151.2 L1183.1,1151.3 L1184.2,1151.3 L1185.4,1151.4 L1186.5,1151.5 L1187.7,1151.6 L1188.8,1151.7 L1189.9,1151.8 L1191.1,1151.9 L1192.2,1152.0 L1193.4,1152.1 L1194.5,1152.3 L1195.6,1152.4 L1196.8,1152.5 L1197.9,1152.7 L1199.1,1152.8 L1200.2,1152.9 L1201.3,1153.1 L1202.5,1153.2 L1203.6,1153.4 L1204.8,1153.5 L1205.9,1153.7 L1207.0,1153.9 L1208.2,1154.1 L1209.3,1154.2 L1210.5,1154.4 L1211.6,1154.6 L1212.7,1154.8 L1213.9,1155.0 L1215.0,1155.2 L1216.1,1155.4 L1217.3,1155.7" stroke="#77AC30"/>
</g>
<text x="957.3" y="690.6" text-anchor="middle" class="ti" textLength="269.5" lengthAdjust="spacingAndGlyphs">TOTAL ION HEATING</text>
<text x="941.3" y="1202.9" class="rho">&#961;</text>
<text x="952.1" y="1213.6" class="sub" textLength="21.6" lengthAdjust="spacingAndGlyphs">tor</text>
<text transform="translate(660.5,928.5) rotate(-90)" text-anchor="middle" class="yl" textLength="63" lengthAdjust="spacing">W/m<tspan dy="-8" font-size="15px">3</tspan></text>
<text x="698.0" y="694.9" class="mu"><tspan fill="#8a8a8a" font-size="17px" dy="0.6">&#215;</tspan><tspan x="710.2" dy="-0.6">10</tspan><tspan dy="-7.2" dx="1.8" font-size="14.2px">5</tspan></text>
<rect x="994.1" y="714.8" width="207.7" height="149.2" fill="#fff" stroke="#555" stroke-width="1.3"/>
<line x1="1003.6" y1="731.7" x2="1050.4" y2="731.7" stroke="#0072BD" stroke-width="2.8"/>
<text x="1055.7" y="739.1" class="lg" textLength="85.7" lengthAdjust="spacingAndGlyphs">NBI only</text>
<line x1="1003.6" y1="760.5" x2="1050.4" y2="760.5" stroke="#D95319" stroke-width="2.8"/>
<text x="1055.7" y="767.9" class="lg" textLength="109.5" lengthAdjust="spacingAndGlyphs">n(H)=0.1%</text>
<line x1="1003.6" y1="789.3" x2="1050.4" y2="789.3" stroke="#EDB120" stroke-width="2.8"/>
<text x="1055.7" y="796.7" class="lg" textLength="137.3" lengthAdjust="spacingAndGlyphs">n(H)=1% (ref)</text>
<line x1="1003.6" y1="818.1" x2="1050.4" y2="818.1" stroke="#7E2F8E" stroke-width="2.8"/>
<text x="1055.7" y="825.5" class="lg" textLength="89.1" lengthAdjust="spacingAndGlyphs">n(H)=5%</text>
<line x1="1003.6" y1="846.9" x2="1050.4" y2="846.9" stroke="#77AC30" stroke-width="2.8"/>
<text x="1055.7" y="854.3" class="lg" textLength="102.5" lengthAdjust="spacingAndGlyphs">n(H)=10%</text>
<rect x="1324.2" y="698.8" width="521.0" height="456.8" fill="none" stroke="#8c8c8c" stroke-width="1.8"/>
<line x1="1324.2" y1="1155.6" x2="1324.2" y2="1150.6" stroke="#6a6a6a" stroke-width="1.3"/>
<line x1="1324.2" y1="698.8" x2="1324.2" y2="703.8" stroke="#6a6a6a" stroke-width="1.3"/>
<text x="1324.2" y="1178.1" text-anchor="middle" class="tk" textLength="10.8" lengthAdjust="spacingAndGlyphs">0</text>
<line x1="1428.4" y1="1155.6" x2="1428.4" y2="1150.6" stroke="#6a6a6a" stroke-width="1.3"/>
<line x1="1428.4" y1="698.8" x2="1428.4" y2="703.8" stroke="#6a6a6a" stroke-width="1.3"/>
<text x="1428.4" y="1178.1" text-anchor="middle" class="tk" textLength="24.4" lengthAdjust="spacingAndGlyphs">0.2</text>
<line x1="1532.6" y1="1155.6" x2="1532.6" y2="1150.6" stroke="#6a6a6a" stroke-width="1.3"/>
<line x1="1532.6" y1="698.8" x2="1532.6" y2="703.8" stroke="#6a6a6a" stroke-width="1.3"/>
<text x="1532.6" y="1178.1" text-anchor="middle" class="tk" textLength="24.4" lengthAdjust="spacingAndGlyphs">0.4</text>
<line x1="1636.8" y1="1155.6" x2="1636.8" y2="1150.6" stroke="#6a6a6a" stroke-width="1.3"/>
<line x1="1636.8" y1="698.8" x2="1636.8" y2="703.8" stroke="#6a6a6a" stroke-width="1.3"/>
<text x="1636.8" y="1178.1" text-anchor="middle" class="tk" textLength="24.4" lengthAdjust="spacingAndGlyphs">0.6</text>
<line x1="1741.0" y1="1155.6" x2="1741.0" y2="1150.6" stroke="#6a6a6a" stroke-width="1.3"/>
<line x1="1741.0" y1="698.8" x2="1741.0" y2="703.8" stroke="#6a6a6a" stroke-width="1.3"/>
<text x="1741.0" y="1178.1" text-anchor="middle" class="tk" textLength="24.4" lengthAdjust="spacingAndGlyphs">0.8</text>
<line x1="1845.2" y1="1155.6" x2="1845.2" y2="1150.6" stroke="#6a6a6a" stroke-width="1.3"/>
<line x1="1845.2" y1="698.8" x2="1845.2" y2="703.8" stroke="#6a6a6a" stroke-width="1.3"/>
<text x="1845.2" y="1178.1" text-anchor="middle" class="tk" textLength="10.8" lengthAdjust="spacingAndGlyphs">1</text>
<line x1="1324.2" y1="1112.4" x2="1329.2" y2="1112.4" stroke="#6a6a6a" stroke-width="1.3"/>
<line x1="1845.2" y1="1112.4" x2="1840.2" y2="1112.4" stroke="#6a6a6a" stroke-width="1.3"/>
<text x="1318.4" y="1118.6" text-anchor="end" class="tk" textLength="10.8" lengthAdjust="spacingAndGlyphs">1</text>
<line x1="1324.2" y1="1069.2" x2="1329.2" y2="1069.2" stroke="#6a6a6a" stroke-width="1.3"/>
<line x1="1845.2" y1="1069.2" x2="1840.2" y2="1069.2" stroke="#6a6a6a" stroke-width="1.3"/>
<text x="1318.4" y="1075.4" text-anchor="end" class="tk" textLength="10.8" lengthAdjust="spacingAndGlyphs">2</text>
<line x1="1324.2" y1="1026.0" x2="1329.2" y2="1026.0" stroke="#6a6a6a" stroke-width="1.3"/>
<line x1="1845.2" y1="1026.0" x2="1840.2" y2="1026.0" stroke="#6a6a6a" stroke-width="1.3"/>
<text x="1318.4" y="1032.2" text-anchor="end" class="tk" textLength="10.8" lengthAdjust="spacingAndGlyphs">3</text>
<line x1="1324.2" y1="982.7" x2="1329.2" y2="982.7" stroke="#6a6a6a" stroke-width="1.3"/>
<line x1="1845.2" y1="982.7" x2="1840.2" y2="982.7" stroke="#6a6a6a" stroke-width="1.3"/>
<text x="1318.4" y="988.9" text-anchor="end" class="tk" textLength="10.8" lengthAdjust="spacingAndGlyphs">4</text>
<line x1="1324.2" y1="939.5" x2="1329.2" y2="939.5" stroke="#6a6a6a" stroke-width="1.3"/>
<line x1="1845.2" y1="939.5" x2="1840.2" y2="939.5" stroke="#6a6a6a" stroke-width="1.3"/>
<text x="1318.4" y="945.7" text-anchor="end" class="tk" textLength="10.8" lengthAdjust="spacingAndGlyphs">5</text>
<line x1="1324.2" y1="896.3" x2="1329.2" y2="896.3" stroke="#6a6a6a" stroke-width="1.3"/>
<line x1="1845.2" y1="896.3" x2="1840.2" y2="896.3" stroke="#6a6a6a" stroke-width="1.3"/>
<text x="1318.4" y="902.5" text-anchor="end" class="tk" textLength="10.8" lengthAdjust="spacingAndGlyphs">6</text>
<line x1="1324.2" y1="853.1" x2="1329.2" y2="853.1" stroke="#6a6a6a" stroke-width="1.3"/>
<line x1="1845.2" y1="853.1" x2="1840.2" y2="853.1" stroke="#6a6a6a" stroke-width="1.3"/>
<text x="1318.4" y="859.3" text-anchor="end" class="tk" textLength="10.8" lengthAdjust="spacingAndGlyphs">7</text>
<line x1="1324.2" y1="809.9" x2="1329.2" y2="809.9" stroke="#6a6a6a" stroke-width="1.3"/>
<line x1="1845.2" y1="809.9" x2="1840.2" y2="809.9" stroke="#6a6a6a" stroke-width="1.3"/>
<text x="1318.4" y="816.1" text-anchor="end" class="tk" textLength="10.8" lengthAdjust="spacingAndGlyphs">8</text>
<line x1="1324.2" y1="766.7" x2="1329.2" y2="766.7" stroke="#6a6a6a" stroke-width="1.3"/>
<line x1="1845.2" y1="766.7" x2="1840.2" y2="766.7" stroke="#6a6a6a" stroke-width="1.3"/>
<text x="1318.4" y="772.9" text-anchor="end" class="tk" textLength="10.8" lengthAdjust="spacingAndGlyphs">9</text>
<line x1="1324.2" y1="723.4" x2="1329.2" y2="723.4" stroke="#6a6a6a" stroke-width="1.3"/>
<line x1="1845.2" y1="723.4" x2="1840.2" y2="723.4" stroke="#6a6a6a" stroke-width="1.3"/>
<text x="1318.4" y="729.6" text-anchor="end" class="tk" textLength="21.6" lengthAdjust="spacingAndGlyphs">10</text>
<clipPath id="c5"><rect x="1323.2" y="697.3" width="523.0" height="459.8"/></clipPath>
<g clip-path="url(#c5)" fill="none" stroke-width="2.8" stroke-linejoin="round" stroke-linecap="round">
<path d="M1327.8,837.9 L1329.0,838.0 L1330.1,838.1 L1331.3,838.2 L1332.4,838.4 L1333.5,838.6 L1334.6,838.8 L1335.7,839.1 L1336.8,839.4 L1337.8,839.7 L1338.8,840.0 L1339.8,840.4 L1340.8,840.7 L1341.8,841.1 L1342.7,841.6 L1343.7,842.0 L1344.6,842.5 L1345.5,843.0 L1346.4,843.5 L1347.3,844.1 L1348.2,844.6 L1349.0,845.2 L1349.9,845.8 L1350.7,846.4 L1351.5,847.0 L1352.3,847.7 L1353.1,848.3 L1353.9,849.0 L1354.7,849.7 L1355.4,850.4 L1356.2,851.2 L1356.9,851.9 L1357.6,852.6 L1358.4,853.4 L1359.1,854.2 L1359.8,855.0 L1360.5,855.7 L1361.2,856.5 L1361.9,857.4 L1362.5,858.2 L1363.2,859.0 L1363.9,859.8 L1364.5,860.7 L1365.2,861.5 L1365.8,862.4 L1366.5,863.2 L1367.1,864.1 L1367.7,865.0 L1368.4,865.8 L1369.0,866.7 L1369.6,867.6 L1370.3,868.4 L1370.9,869.3 L1371.5,870.2 L1372.1,871.1 L1372.7,872.0 L1373.3,872.8 L1373.9,873.7 L1374.5,874.6 L1375.2,875.5 L1375.8,876.4 L1376.4,877.2 L1376.9,878.1 L1377.5,879.0 L1378.1,879.9 L1378.7,880.8 L1379.3,881.7 L1379.9,882.6 L1380.5,883.5 L1381.1,884.3 L1381.7,885.2 L1382.2,886.1 L1382.8,887.0 L1383.4,887.9 L1384.0,888.8 L1384.6,889.7 L1385.1,890.6 L1385.7,891.5 L1386.3,892.4 L1386.8,893.3 L1387.4,894.2 L1388.0,895.1 L1388.6,896.0 L1389.1,896.9 L1389.7,897.8 L1390.3,898.7 L1390.8,899.6 L1391.4,900.5 L1391.9,901.4 L1392.5,902.3 L1393.1,903.2 L1393.6,904.1 L1394.2,905.0 L1394.8,905.9 L1395.3,906.8 L1395.9,907.7 L1396.4,908.6 L1397.0,909.5 L1397.6,910.4 L1398.1,911.3 L1398.7,912.2 L1399.2,913.1 L1399.8,914.0 L1400.4,914.9 L1400.9,915.8 L1401.5,916.7 L1402.0,917.6 L1402.6,918.5 L1403.2,919.4 L1403.7,920.3 L1404.3,921.2 L1404.9,922.1 L1405.4,923.1 L1406.0,924.0 L1406.5,924.9 L1407.1,925.8 L1407.7,926.7 L1408.3,927.6 L1408.8,928.4 L1409.4,929.3 L1410.0,930.2 L1410.5,931.1 L1411.1,932.0 L1411.7,932.9 L1412.3,933.8 L1412.8,934.7 L1413.4,935.6 L1414.0,936.5 L1414.6,937.4 L1415.2,938.3 L1415.8,939.2 L1416.3,940.1 L1416.9,941.0 L1417.5,941.9 L1418.1,942.7 L1418.7,943.6 L1419.3,944.5 L1419.9,945.4 L1420.5,946.3 L1421.1,947.2 L1421.7,948.1 L1422.3,948.9 L1422.9,949.8 L1423.5,950.7 L1424.1,951.6 L1424.8,952.4 L1425.4,953.3 L1426.0,954.2 L1426.6,955.1 L1427.2,955.9 L1427.9,956.8 L1428.5,957.7 L1429.1,958.5 L1429.7,959.4 L1430.4,960.3 L1431.0,961.1 L1431.6,962.0 L1432.3,962.9 L1432.9,963.7 L1433.5,964.6 L1434.2,965.4 L1434.8,966.3 L1435.5,967.1 L1436.1,968.0 L1436.8,968.8 L1437.4,969.7 L1438.1,970.5 L1438.7,971.4 L1439.4,972.2 L1440.1,973.1 L1440.7,973.9 L1441.4,974.7 L1442.1,975.6 L1442.7,976.4 L1443.4,977.2 L1444.1,978.1 L1444.8,978.9 L1445.4,979.7 L1446.1,980.6 L1446.8,981.4 L1447.5,982.2 L1448.2,983.0 L1448.9,983.8 L1449.5,984.6 L1450.2,985.5 L1450.9,986.3 L1451.6,987.1 L1452.3,987.9 L1453.0,988.7 L1453.7,989.5 L1454.4,990.3 L1455.2,991.1 L1455.9,991.9 L1456.6,992.7 L1457.3,993.4 L1458.0,994.2 L1458.7,995.0 L1459.5,995.8 L1460.2,996.6 L1460.9,997.4 L1461.6,998.1 L1462.4,998.9 L1463.1,999.7 L1463.8,1000.4 L1464.6,1001.2 L1465.3,1002.0 L1466.1,1002.7 L1466.8,1003.5 L1467.6,1004.2 L1468.3,1005.0 L1469.1,1005.7 L1469.8,1006.5 L1470.6,1007.2 L1471.3,1007.9 L1472.1,1008.7 L1472.9,1009.4 L1473.6,1010.1 L1474.4,1010.9 L1475.2,1011.6 L1475.9,1012.3 L1476.7,1013.0 L1477.5,1013.8 L1478.3,1014.5 L1479.0,1015.2 L1479.8,1015.9 L1480.6,1016.6 L1481.4,1017.3 L1482.2,1018.0 L1483.0,1018.7 L1483.8,1019.4 L1484.6,1020.1 L1485.4,1020.8 L1486.2,1021.5 L1487.0,1022.2 L1487.8,1022.9 L1488.6,1023.6 L1489.4,1024.3 L1490.2,1025.0 L1491.0,1025.7 L1491.8,1026.4 L1492.6,1027.1 L1493.4,1027.7 L1494.2,1028.4 L1495.1,1029.1 L1495.9,1029.8 L1496.7,1030.4 L1497.5,1031.1 L1498.3,1031.8 L1499.2,1032.4 L1500.0,1033.1 L1500.8,1033.8 L1501.6,1034.4 L1502.5,1035.1 L1503.3,1035.8 L1504.1,1036.4 L1505.0,1037.1 L1505.8,1037.7 L1506.7,1038.4 L1507.5,1039.0 L1508.3,1039.7 L1509.2,1040.3 L1510.0,1041.0 L1510.9,1041.6 L1511.7,1042.3 L1512.6,1042.9 L1513.4,1043.6 L1514.2,1044.2 L1515.1,1044.9 L1515.9,1045.5 L1516.8,1046.2 L1517.7,1046.8 L1518.5,1047.4 L1519.4,1048.1 L1520.2,1048.7 L1521.1,1049.3 L1521.9,1050.0 L1522.8,1050.6 L1523.7,1051.2 L1524.5,1051.9 L1525.4,1052.5 L1526.3,1053.1 L1527.1,1053.8 L1528.0,1054.4 L1528.9,1055.0 L1529.7,1055.6 L1530.6,1056.2 L1531.5,1056.9 L1532.3,1057.5 L1533.2,1058.1 L1534.1,1058.7 L1535.0,1059.3 L1535.8,1059.9 L1536.7,1060.5 L1537.6,1061.2 L1538.5,1061.8 L1539.4,1062.4 L1540.2,1063.0 L1541.1,1063.6 L1542.0,1064.2 L1542.9,1064.8 L1543.8,1065.4 L1544.7,1066.0 L1545.6,1066.5 L1546.5,1067.1 L1547.3,1067.7 L1548.2,1068.3 L1549.1,1068.9 L1550.0,1069.5 L1550.9,1070.1 L1551.8,1070.6 L1552.7,1071.2 L1553.6,1071.8 L1554.5,1072.4 L1555.4,1072.9 L1556.3,1073.5 L1557.2,1074.1 L1558.1,1074.6 L1559.0,1075.2 L1560.0,1075.8 L1560.9,1076.3 L1561.8,1076.9 L1562.7,1077.4 L1563.6,1078.0 L1564.5,1078.5 L1565.4,1079.1 L1566.3,1079.6 L1567.3,1080.2 L1568.2,1080.7 L1569.1,1081.2 L1570.0,1081.8 L1570.9,1082.3 L1571.9,1082.8 L1572.8,1083.4 L1573.7,1083.9 L1574.6,1084.4 L1575.6,1084.9 L1576.5,1085.5 L1577.4,1086.0 L1578.4,1086.5 L1579.3,1087.0 L1580.2,1087.5 L1581.2,1088.0 L1582.1,1088.5 L1583.0,1089.0 L1584.0,1089.5 L1584.9,1090.0 L1585.9,1090.5 L1586.8,1091.0 L1587.7,1091.5 L1588.7,1092.0 L1589.6,1092.5 L1590.6,1092.9 L1591.5,1093.4 L1592.5,1093.9 L1593.4,1094.4 L1594.4,1094.8 L1595.3,1095.3 L1596.3,1095.8 L1597.2,1096.2 L1598.2,1096.7 L1599.2,1097.2 L1600.1,1097.6 L1601.1,1098.1 L1602.0,1098.5 L1603.0,1099.0 L1604.0,1099.4 L1604.9,1099.9 L1605.9,1100.3 L1606.9,1100.7 L1607.8,1101.2 L1608.8,1101.6 L1609.8,1102.0 L1610.7,1102.5 L1611.7,1102.9 L1612.7,1103.3 L1613.7,1103.7 L1614.6,1104.1 L1615.6,1104.5 L1616.6,1105.0 L1617.6,1105.4 L1618.6,1105.8 L1619.5,1106.2 L1620.5,1106.6 L1621.5,1107.0 L1622.5,1107.3 L1623.5,1107.7 L1624.5,1108.1 L1625.5,1108.5 L1626.5,1108.9 L1627.5,1109.3 L1628.4,1109.6 L1629.4,1110.0 L1630.4,1110.4 L1631.4,1110.7 L1632.4,1111.1 L1633.4,1111.5 L1634.4,1111.8 L1635.4,1112.2 L1636.4,1112.5 L1637.4,1112.9 L1638.5,1113.2 L1639.5,1113.6 L1640.5,1113.9 L1641.5,1114.2 L1642.5,1114.6 L1643.5,1114.9 L1644.5,1115.2 L1645.5,1115.6 L1646.5,1115.9 L1647.6,1116.2 L1648.6,1116.5 L1649.6,1116.9 L1650.6,1117.2 L1651.6,1117.5 L1652.6,1117.8 L1653.7,1118.1 L1654.7,1118.4 L1655.7,1118.7 L1656.7,1119.0 L1657.8,1119.3 L1658.8,1119.6 L1659.8,1119.9 L1660.8,1120.2 L1661.9,1120.5 L1662.9,1120.8 L1663.9,1121.1 L1664.9,1121.3 L1666.0,1121.6 L1667.0,1121.9 L1668.0,1122.2 L1669.1,1122.5 L1670.1,1122.7 L1671.1,1123.0 L1672.2,1123.3 L1673.2,1123.5 L1674.2,1123.8 L1675.3,1124.1 L1676.3,1124.3 L1677.3,1124.6 L1678.4,1124.9 L1679.4,1125.1 L1680.4,1125.4 L1681.5,1125.6 L1682.5,1125.9 L1683.6,1126.2 L1684.6,1126.4 L1685.6,1126.7 L1686.7,1126.9 L1687.7,1127.2 L1688.8,1127.4 L1689.8,1127.6 L1690.8,1127.9 L1691.9,1128.1 L1692.9,1128.4 L1694.0,1128.6 L1695.0,1128.9 L1696.0,1129.1 L1697.1,1129.3 L1698.1,1129.6 L1699.2,1129.8 L1700.2,1130.1 L1701.2,1130.3 L1702.3,1130.5 L1703.3,1130.8 L1704.4,1131.0 L1705.4,1131.2 L1706.4,1131.4 L1707.5,1131.7 L1708.5,1131.9 L1709.6,1132.1 L1710.6,1132.4 L1711.6,1132.6 L1712.7,1132.8 L1713.7,1133.0 L1714.8,1133.3 L1715.8,1133.5 L1716.8,1133.7 L1717.9,1134.0 L1718.9,1134.2 L1720.0,1134.4 L1721.0,1134.6 L1722.0,1134.8 L1723.1,1135.1 L1724.1,1135.3 L1725.2,1135.5 L1726.2,1135.7 L1727.2,1135.9 L1728.3,1136.1 L1729.3,1136.4 L1730.4,1136.6 L1731.4,1136.8 L1732.4,1137.0 L1733.5,1137.2 L1734.5,1137.4 L1735.6,1137.6 L1736.6,1137.8 L1737.6,1138.0 L1738.7,1138.2 L1739.7,1138.4 L1740.8,1138.5 L1741.8,1138.7 L1742.9,1138.9 L1743.9,1139.1 L1745.0,1139.2 L1746.0,1139.4 L1747.1,1139.6 L1748.1,1139.7 L1749.2,1139.9 L1750.2,1140.0 L1751.3,1140.2 L1752.3,1140.3 L1753.4,1140.5 L1754.4,1140.6 L1755.5,1140.8 L1756.5,1140.9 L1757.6,1141.0 L1758.6,1141.1 L1759.7,1141.3 L1760.8,1141.4 L1761.8,1141.5 L1762.9,1141.6 L1763.9,1141.7 L1765.0,1141.9 L1766.1,1142.0 L1767.1,1142.1 L1768.2,1142.2 L1769.2,1142.3 L1770.3,1142.5 L1771.4,1142.6 L1772.4,1142.7 L1773.5,1142.8 L1774.5,1143.0 L1775.6,1143.1 L1776.7,1143.2 L1777.7,1143.4 L1778.8,1143.5 L1779.8,1143.6 L1780.9,1143.8 L1781.9,1143.9 L1783.0,1144.1 L1784.0,1144.2 L1785.1,1144.4 L1786.1,1144.5 L1787.2,1144.7 L1788.2,1144.9 L1789.3,1145.1 L1790.3,1145.2 L1791.4,1145.4 L1792.4,1145.6 L1793.5,1145.8 L1794.5,1146.0 L1795.6,1146.2 L1796.6,1146.4 L1797.7,1146.6 L1798.7,1146.9 L1799.7,1147.1 L1800.8,1147.3 L1801.8,1147.5 L1802.8,1147.8 L1803.9,1148.0 L1804.9,1148.3 L1806.0,1148.5 L1807.0,1148.8 L1808.0,1149.0 L1809.1,1149.3 L1810.1,1149.5 L1811.1,1149.8 L1812.1,1150.0 L1813.2,1150.3 L1814.2,1150.6 L1815.2,1150.8 L1816.3,1151.1 L1817.3,1151.3 L1818.3,1151.6 L1819.4,1151.9 L1820.4,1152.1 L1821.4,1152.4 L1822.5,1152.6 L1823.5,1152.9 L1824.5,1153.1 L1825.6,1153.3 L1826.6,1153.6 L1827.6,1153.8 L1828.7,1154.0 L1829.7,1154.2 L1830.7,1154.5 L1831.8,1154.7 L1832.8,1154.9 L1833.9,1155.0 L1834.9,1155.2 L1836.0,1155.4 L1837.0,1155.5 L1838.0,1155.7 L1839.1,1155.8 L1840.1,1156.0 L1841.2,1156.1 L1842.3,1156.2 L1843.3,1156.3 L1844.4,1156.3 L1845.4,1156.4" stroke="#0072BD"/>
<path d="M1327.9,752.0 L1329.1,752.3 L1330.3,752.7 L1331.5,753.0 L1332.7,753.3 L1333.8,753.7 L1335.0,754.1 L1336.1,754.5 L1337.2,755.0 L1338.3,755.4 L1339.3,755.9 L1340.4,756.4 L1341.5,756.9 L1342.5,757.4 L1343.5,758.0 L1344.5,758.5 L1345.5,759.1 L1346.5,759.7 L1347.5,760.3 L1348.4,760.9 L1349.4,761.5 L1350.3,762.2 L1351.2,762.9 L1352.1,763.5 L1353.0,764.2 L1353.9,764.9 L1354.8,765.7 L1355.6,766.4 L1356.5,767.1 L1357.3,767.9 L1358.1,768.7 L1359.0,769.5 L1359.8,770.3 L1360.6,771.1 L1361.4,771.9 L1362.1,772.7 L1362.9,773.6 L1363.7,774.4 L1364.4,775.3 L1365.2,776.2 L1365.9,777.0 L1366.6,777.9 L1367.4,778.8 L1368.1,779.7 L1368.8,780.7 L1369.5,781.6 L1370.2,782.5 L1370.8,783.5 L1371.5,784.4 L1372.2,785.4 L1372.8,786.3 L1373.5,787.3 L1374.2,788.3 L1374.8,789.3 L1375.4,790.3 L1376.1,791.3 L1376.7,792.3 L1377.3,793.3 L1378.0,794.3 L1378.6,795.3 L1379.2,796.3 L1379.8,797.3 L1380.4,798.4 L1381.0,799.4 L1381.6,800.4 L1382.2,801.5 L1382.8,802.5 L1383.3,803.5 L1383.9,804.6 L1384.5,805.6 L1385.1,806.7 L1385.7,807.7 L1386.2,808.8 L1386.8,809.8 L1387.4,810.9 L1387.9,811.9 L1388.5,812.9 L1389.1,814.0 L1389.6,815.0 L1390.2,816.1 L1390.8,817.1 L1391.3,818.2 L1391.9,819.2 L1392.5,820.2 L1393.0,821.3 L1393.6,822.3 L1394.2,823.3 L1394.7,824.4 L1395.3,825.4 L1395.8,826.4 L1396.4,827.5 L1397.0,828.5 L1397.5,829.5 L1398.1,830.5 L1398.7,831.6 L1399.2,832.6 L1399.8,833.6 L1400.3,834.6 L1400.9,835.6 L1401.5,836.7 L1402.0,837.7 L1402.6,838.7 L1403.2,839.7 L1403.7,840.7 L1404.3,841.7 L1404.8,842.7 L1405.4,843.8 L1406.0,844.8 L1406.5,845.8 L1407.1,846.8 L1407.7,847.8 L1408.2,848.8 L1408.8,849.8 L1409.3,850.8 L1409.9,851.8 L1410.5,852.8 L1411.0,853.8 L1411.6,854.8 L1412.2,855.9 L1412.7,856.9 L1413.3,857.9 L1413.9,858.9 L1414.4,859.9 L1415.0,860.9 L1415.6,861.9 L1416.1,862.9 L1416.7,863.9 L1417.3,864.9 L1417.8,865.9 L1418.4,866.9 L1419.0,867.9 L1419.5,868.9 L1420.1,869.9 L1420.7,870.9 L1421.3,871.9 L1421.8,873.0 L1422.4,874.0 L1423.0,875.0 L1423.5,876.0 L1424.1,877.0 L1424.7,878.0 L1425.3,879.0 L1425.8,880.0 L1426.4,881.0 L1427.0,882.1 L1427.6,883.1 L1428.1,884.1 L1428.7,885.1 L1429.3,886.1 L1429.9,887.1 L1430.4,888.1 L1431.0,889.2 L1431.6,890.2 L1432.2,891.2 L1432.8,892.2 L1433.3,893.2 L1433.9,894.3 L1434.5,895.3 L1435.1,896.3 L1435.6,897.3 L1436.2,898.3 L1436.8,899.4 L1437.4,900.4 L1437.9,901.4 L1438.5,902.4 L1439.1,903.5 L1439.7,904.5 L1440.2,905.5 L1440.8,906.6 L1441.4,907.6 L1441.9,908.6 L1442.5,909.6 L1443.1,910.7 L1443.6,911.7 L1444.2,912.7 L1444.8,913.8 L1445.3,914.8 L1445.9,915.8 L1446.5,916.9 L1447.0,917.9 L1447.6,918.9 L1448.1,919.9 L1448.7,921.0 L1449.3,922.0 L1449.8,923.1 L1450.4,924.1 L1450.9,925.1 L1451.5,926.2 L1452.0,927.2 L1452.6,928.2 L1453.1,929.3 L1453.7,930.3 L1454.2,931.3 L1454.7,932.4 L1455.3,933.4 L1455.8,934.4 L1456.4,935.5 L1456.9,936.5 L1457.5,937.6 L1458.0,938.6 L1458.6,939.6 L1459.1,940.7 L1459.6,941.7 L1460.2,942.7 L1460.7,943.7 L1461.3,944.8 L1461.8,945.8 L1462.4,946.8 L1462.9,947.9 L1463.5,948.9 L1464.0,949.9 L1464.6,950.9 L1465.1,952.0 L1465.7,953.0 L1466.3,954.0 L1466.8,955.0 L1467.4,956.1 L1468.0,957.1 L1468.5,958.1 L1469.1,959.1 L1469.7,960.1 L1470.2,961.1 L1470.8,962.1 L1471.4,963.1 L1472.0,964.2 L1472.6,965.2 L1473.2,966.2 L1473.8,967.2 L1474.4,968.2 L1475.0,969.2 L1475.6,970.1 L1476.2,971.1 L1476.8,972.1 L1477.4,973.1 L1478.0,974.1 L1478.6,975.1 L1479.3,976.1 L1479.9,977.0 L1480.5,978.0 L1481.2,979.0 L1481.8,980.0 L1482.5,980.9 L1483.1,981.9 L1483.8,982.9 L1484.4,983.8 L1485.1,984.8 L1485.7,985.8 L1486.4,986.7 L1487.1,987.7 L1487.7,988.6 L1488.4,989.6 L1489.1,990.5 L1489.8,991.5 L1490.4,992.4 L1491.1,993.4 L1491.8,994.3 L1492.5,995.2 L1493.2,996.2 L1493.9,997.1 L1494.6,998.0 L1495.3,998.9 L1496.0,999.9 L1496.8,1000.8 L1497.5,1001.7 L1498.2,1002.6 L1498.9,1003.5 L1499.6,1004.5 L1500.4,1005.4 L1501.1,1006.3 L1501.8,1007.2 L1502.6,1008.1 L1503.3,1009.0 L1504.1,1009.9 L1504.8,1010.8 L1505.6,1011.7 L1506.3,1012.6 L1507.1,1013.4 L1507.8,1014.3 L1508.6,1015.2 L1509.4,1016.1 L1510.1,1017.0 L1510.9,1017.8 L1511.7,1018.7 L1512.5,1019.6 L1513.3,1020.4 L1514.0,1021.3 L1514.8,1022.2 L1515.6,1023.0 L1516.4,1023.9 L1517.2,1024.7 L1518.0,1025.6 L1518.8,1026.4 L1519.6,1027.3 L1520.4,1028.1 L1521.2,1029.0 L1522.0,1029.8 L1522.9,1030.6 L1523.7,1031.5 L1524.5,1032.3 L1525.3,1033.1 L1526.2,1034.0 L1527.0,1034.8 L1527.8,1035.6 L1528.7,1036.4 L1529.5,1037.2 L1530.3,1038.0 L1531.2,1038.8 L1532.0,1039.6 L1532.9,1040.4 L1533.7,1041.2 L1534.6,1042.0 L1535.4,1042.8 L1536.3,1043.6 L1537.2,1044.4 L1538.0,1045.2 L1538.9,1046.0 L1539.8,1046.8 L1540.6,1047.5 L1541.5,1048.3 L1542.4,1049.1 L1543.3,1049.8 L1544.2,1050.6 L1545.1,1051.4 L1545.9,1052.1 L1546.8,1052.9 L1547.7,1053.6 L1548.6,1054.4 L1549.5,1055.1 L1550.4,1055.9 L1551.3,1056.6 L1552.2,1057.3 L1553.1,1058.1 L1554.1,1058.8 L1555.0,1059.5 L1555.9,1060.3 L1556.8,1061.0 L1557.7,1061.7 L1558.6,1062.4 L1559.6,1063.1 L1560.5,1063.8 L1561.4,1064.6 L1562.4,1065.3 L1563.3,1066.0 L1564.2,1066.7 L1565.2,1067.3 L1566.1,1068.0 L1567.1,1068.7 L1568.0,1069.4 L1569.0,1070.1 L1569.9,1070.8 L1570.9,1071.4 L1571.8,1072.1 L1572.8,1072.8 L1573.7,1073.4 L1574.7,1074.1 L1575.7,1074.8 L1576.6,1075.4 L1577.6,1076.1 L1578.6,1076.7 L1579.5,1077.4 L1580.5,1078.0 L1581.5,1078.7 L1582.5,1079.3 L1583.4,1079.9 L1584.4,1080.6 L1585.4,1081.2 L1586.4,1081.8 L1587.4,1082.4 L1588.4,1083.0 L1589.4,1083.6 L1590.4,1084.3 L1591.4,1084.9 L1592.4,1085.5 L1593.4,1086.1 L1594.4,1086.7 L1595.4,1087.3 L1596.4,1087.8 L1597.4,1088.4 L1598.4,1089.0 L1599.4,1089.6 L1600.4,1090.2 L1601.4,1090.7 L1602.5,1091.3 L1603.5,1091.9 L1604.5,1092.4 L1605.5,1093.0 L1606.6,1093.6 L1607.6,1094.1 L1608.6,1094.7 L1609.6,1095.2 L1610.7,1095.8 L1611.7,1096.3 L1612.7,1096.8 L1613.8,1097.4 L1614.8,1097.9 L1615.9,1098.4 L1616.9,1099.0 L1617.9,1099.5 L1619.0,1100.0 L1620.0,1100.5 L1621.1,1101.0 L1622.1,1101.5 L1623.2,1102.0 L1624.2,1102.5 L1625.3,1103.0 L1626.4,1103.5 L1627.4,1104.0 L1628.5,1104.5 L1629.5,1105.0 L1630.6,1105.5 L1631.7,1106.0 L1632.7,1106.4 L1633.8,1106.9 L1634.9,1107.4 L1635.9,1107.9 L1637.0,1108.3 L1638.1,1108.8 L1639.2,1109.2 L1640.2,1109.7 L1641.3,1110.1 L1642.4,1110.6 L1643.5,1111.0 L1644.5,1111.5 L1645.6,1111.9 L1646.7,1112.4 L1647.8,1112.8 L1648.9,1113.2 L1650.0,1113.7 L1651.1,1114.1 L1652.1,1114.5 L1653.2,1114.9 L1654.3,1115.3 L1655.4,1115.7 L1656.5,1116.1 L1657.6,1116.6 L1658.7,1117.0 L1659.8,1117.4 L1660.9,1117.8 L1662.0,1118.1 L1663.1,1118.5 L1664.2,1118.9 L1665.3,1119.3 L1666.4,1119.7 L1667.5,1120.1 L1668.6,1120.4 L1669.7,1120.8 L1670.8,1121.2 L1672.0,1121.5 L1673.1,1121.9 L1674.2,1122.3 L1675.3,1122.6 L1676.4,1123.0 L1677.5,1123.3 L1678.6,1123.7 L1679.8,1124.0 L1680.9,1124.4 L1682.0,1124.7 L1683.1,1125.0 L1684.2,1125.4 L1685.3,1125.7 L1686.5,1126.0 L1687.6,1126.4 L1688.7,1126.7 L1689.8,1127.0 L1691.0,1127.3 L1692.1,1127.6 L1693.2,1127.9 L1694.3,1128.2 L1695.5,1128.5 L1696.6,1128.8 L1697.7,1129.1 L1698.9,1129.4 L1700.0,1129.7 L1701.1,1130.0 L1702.3,1130.3 L1703.4,1130.6 L1704.5,1130.9 L1705.7,1131.1 L1706.8,1131.4 L1707.9,1131.7 L1709.1,1131.9 L1710.2,1132.2 L1711.3,1132.5 L1712.5,1132.7 L1713.6,1133.0 L1714.7,1133.2 L1715.9,1133.5 L1717.0,1133.7 L1718.2,1134.0 L1719.3,1134.2 L1720.4,1134.5 L1721.6,1134.7 L1722.7,1134.9 L1723.9,1135.2 L1725.0,1135.4 L1726.2,1135.6 L1727.3,1135.9 L1728.4,1136.1 L1729.6,1136.3 L1730.7,1136.5 L1731.9,1136.7 L1733.0,1136.9 L1734.2,1137.2 L1735.3,1137.4 L1736.5,1137.6 L1737.6,1137.8 L1738.8,1138.0 L1739.9,1138.2 L1741.1,1138.4 L1742.2,1138.6 L1743.4,1138.8 L1744.5,1139.0 L1745.7,1139.1 L1746.8,1139.3 L1748.0,1139.5 L1749.1,1139.7 L1750.3,1139.9 L1751.4,1140.1 L1752.6,1140.2 L1753.7,1140.4 L1754.9,1140.6 L1756.0,1140.8 L1757.2,1140.9 L1758.4,1141.1 L1759.5,1141.3 L1760.7,1141.4 L1761.8,1141.6 L1763.0,1141.8 L1764.1,1141.9 L1765.3,1142.1 L1766.4,1142.2 L1767.6,1142.4 L1768.8,1142.5 L1769.9,1142.7 L1771.1,1142.8 L1772.2,1143.0 L1773.4,1143.1 L1774.5,1143.3 L1775.7,1143.4 L1776.9,1143.6 L1778.0,1143.7 L1779.2,1143.9 L1780.3,1144.0 L1781.5,1144.1 L1782.6,1144.3 L1783.8,1144.4 L1785.0,1144.6 L1786.1,1144.7 L1787.3,1144.9 L1788.4,1145.1 L1789.6,1145.2 L1790.7,1145.4 L1791.9,1145.6 L1793.0,1145.8 L1794.2,1146.0 L1795.3,1146.2 L1796.5,1146.4 L1797.6,1146.6 L1798.8,1146.8 L1799.9,1147.0 L1801.0,1147.3 L1802.2,1147.5 L1803.3,1147.8 L1804.5,1148.0 L1805.6,1148.3 L1806.7,1148.6 L1807.9,1148.8 L1809.0,1149.1 L1810.1,1149.4 L1811.3,1149.7 L1812.4,1150.0 L1813.5,1150.3 L1814.6,1150.6 L1815.8,1150.9 L1816.9,1151.2 L1818.0,1151.5 L1819.1,1151.8 L1820.3,1152.1 L1821.4,1152.4 L1822.5,1152.6 L1823.7,1152.9 L1824.8,1153.2 L1825.9,1153.5 L1827.1,1153.8 L1828.2,1154.0 L1829.3,1154.3 L1830.5,1154.5 L1831.6,1154.7 L1832.7,1154.9 L1833.9,1155.1 L1835.0,1155.3 L1836.2,1155.5 L1837.3,1155.7 L1838.5,1155.8 L1839.6,1155.9 L1840.8,1156.1 L1842.0,1156.2 L1843.1,1156.2 L1844.3,1156.3 L1845.5,1156.3" stroke="#D95319"/>
<path d="M1327.8,784.4 L1329.0,784.3 L1330.2,784.3 L1331.4,784.3 L1332.6,784.3 L1333.7,784.4 L1334.9,784.5 L1336.0,784.7 L1337.1,784.9 L1338.2,785.1 L1339.3,785.4 L1340.4,785.7 L1341.5,786.1 L1342.5,786.4 L1343.6,786.8 L1344.6,787.3 L1345.6,787.7 L1346.6,788.2 L1347.6,788.7 L1348.6,789.3 L1349.5,789.8 L1350.5,790.4 L1351.4,791.0 L1352.4,791.6 L1353.3,792.3 L1354.2,793.0 L1355.1,793.6 L1355.9,794.4 L1356.8,795.1 L1357.7,795.8 L1358.5,796.6 L1359.4,797.3 L1360.2,798.1 L1361.0,798.9 L1361.8,799.7 L1362.6,800.5 L1363.4,801.3 L1364.1,802.2 L1364.9,803.0 L1365.6,803.8 L1366.4,804.7 L1367.1,805.5 L1367.8,806.4 L1368.5,807.3 L1369.2,808.2 L1369.9,809.0 L1370.6,809.9 L1371.3,810.8 L1372.0,811.7 L1372.6,812.6 L1373.3,813.5 L1373.9,814.5 L1374.6,815.4 L1375.2,816.3 L1375.8,817.3 L1376.4,818.2 L1377.0,819.1 L1377.6,820.1 L1378.2,821.0 L1378.8,822.0 L1379.4,822.9 L1380.0,823.9 L1380.6,824.9 L1381.2,825.8 L1381.7,826.8 L1382.3,827.8 L1382.9,828.8 L1383.4,829.7 L1384.0,830.7 L1384.5,831.7 L1385.1,832.7 L1385.6,833.7 L1386.2,834.7 L1386.7,835.7 L1387.3,836.7 L1387.8,837.7 L1388.3,838.7 L1388.9,839.7 L1389.4,840.7 L1390.0,841.7 L1390.5,842.6 L1391.0,843.6 L1391.6,844.6 L1392.1,845.6 L1392.6,846.6 L1393.2,847.6 L1393.7,848.6 L1394.2,849.6 L1394.8,850.6 L1395.3,851.6 L1395.9,852.6 L1396.4,853.6 L1396.9,854.6 L1397.5,855.6 L1398.0,856.6 L1398.6,857.6 L1399.1,858.6 L1399.6,859.6 L1400.2,860.6 L1400.7,861.6 L1401.3,862.6 L1401.8,863.5 L1402.4,864.5 L1402.9,865.5 L1403.5,866.5 L1404.0,867.5 L1404.6,868.5 L1405.1,869.5 L1405.6,870.5 L1406.2,871.5 L1406.8,872.4 L1407.3,873.4 L1407.9,874.4 L1408.4,875.4 L1409.0,876.4 L1409.5,877.4 L1410.1,878.4 L1410.6,879.3 L1411.2,880.3 L1411.7,881.3 L1412.3,882.3 L1412.9,883.3 L1413.4,884.2 L1414.0,885.2 L1414.5,886.2 L1415.1,887.2 L1415.7,888.2 L1416.2,889.1 L1416.8,890.1 L1417.4,891.1 L1417.9,892.1 L1418.5,893.0 L1419.1,894.0 L1419.6,895.0 L1420.2,896.0 L1420.8,896.9 L1421.4,897.9 L1421.9,898.9 L1422.5,899.8 L1423.1,900.8 L1423.7,901.8 L1424.2,902.7 L1424.8,903.7 L1425.4,904.7 L1426.0,905.6 L1426.6,906.6 L1427.1,907.6 L1427.7,908.5 L1428.3,909.5 L1428.9,910.5 L1429.5,911.4 L1430.1,912.4 L1430.7,913.3 L1431.2,914.3 L1431.8,915.3 L1432.4,916.2 L1433.0,917.2 L1433.6,918.1 L1434.2,919.1 L1434.8,920.0 L1435.4,921.0 L1436.0,921.9 L1436.6,922.9 L1437.2,923.8 L1437.8,924.8 L1438.4,925.7 L1439.0,926.7 L1439.6,927.6 L1440.2,928.6 L1440.8,929.5 L1441.4,930.5 L1442.1,931.4 L1442.7,932.4 L1443.3,933.3 L1443.9,934.3 L1444.5,935.2 L1445.1,936.1 L1445.7,937.1 L1446.4,938.0 L1447.0,938.9 L1447.6,939.9 L1448.2,940.8 L1448.9,941.8 L1449.5,942.7 L1450.1,943.6 L1450.7,944.6 L1451.4,945.5 L1452.0,946.4 L1452.6,947.3 L1453.3,948.3 L1453.9,949.2 L1454.5,950.1 L1455.2,951.0 L1455.8,952.0 L1456.5,952.9 L1457.1,953.8 L1457.8,954.7 L1458.4,955.7 L1459.1,956.6 L1459.7,957.5 L1460.4,958.4 L1461.0,959.3 L1461.7,960.2 L1462.3,961.2 L1463.0,962.1 L1463.6,963.0 L1464.3,963.9 L1465.0,964.8 L1465.6,965.7 L1466.3,966.6 L1467.0,967.5 L1467.6,968.4 L1468.3,969.3 L1469.0,970.2 L1469.6,971.1 L1470.3,972.0 L1471.0,972.9 L1471.7,973.8 L1472.3,974.7 L1473.0,975.6 L1473.7,976.5 L1474.4,977.4 L1475.1,978.3 L1475.8,979.2 L1476.5,980.1 L1477.1,981.0 L1477.8,981.9 L1478.5,982.7 L1479.2,983.6 L1479.9,984.5 L1480.6,985.4 L1481.3,986.3 L1482.0,987.2 L1482.7,988.0 L1483.5,988.9 L1484.2,989.8 L1484.9,990.7 L1485.6,991.5 L1486.3,992.4 L1487.0,993.3 L1487.7,994.2 L1488.5,995.0 L1489.2,995.9 L1489.9,996.8 L1490.6,997.6 L1491.4,998.5 L1492.1,999.4 L1492.8,1000.2 L1493.6,1001.1 L1494.3,1001.9 L1495.0,1002.8 L1495.8,1003.6 L1496.5,1004.5 L1497.2,1005.3 L1498.0,1006.2 L1498.7,1007.0 L1499.5,1007.9 L1500.2,1008.7 L1501.0,1009.6 L1501.7,1010.4 L1502.5,1011.3 L1503.3,1012.1 L1504.0,1012.9 L1504.8,1013.8 L1505.5,1014.6 L1506.3,1015.5 L1507.1,1016.3 L1507.9,1017.1 L1508.6,1017.9 L1509.4,1018.8 L1510.2,1019.6 L1510.9,1020.4 L1511.7,1021.2 L1512.5,1022.1 L1513.3,1022.9 L1514.1,1023.7 L1514.9,1024.5 L1515.7,1025.3 L1516.4,1026.1 L1517.2,1026.9 L1518.0,1027.7 L1518.8,1028.5 L1519.6,1029.3 L1520.4,1030.1 L1521.2,1030.9 L1522.0,1031.7 L1522.8,1032.5 L1523.6,1033.3 L1524.5,1034.1 L1525.3,1034.9 L1526.1,1035.7 L1526.9,1036.5 L1527.7,1037.2 L1528.5,1038.0 L1529.4,1038.8 L1530.2,1039.6 L1531.0,1040.3 L1531.8,1041.1 L1532.7,1041.9 L1533.5,1042.6 L1534.3,1043.4 L1535.2,1044.2 L1536.0,1044.9 L1536.8,1045.7 L1537.7,1046.4 L1538.5,1047.2 L1539.4,1047.9 L1540.2,1048.7 L1541.1,1049.4 L1541.9,1050.2 L1542.8,1050.9 L1543.6,1051.6 L1544.5,1052.4 L1545.3,1053.1 L1546.2,1053.8 L1547.1,1054.6 L1547.9,1055.3 L1548.8,1056.0 L1549.7,1056.7 L1550.5,1057.4 L1551.4,1058.2 L1552.3,1058.9 L1553.1,1059.6 L1554.0,1060.3 L1554.9,1061.0 L1555.8,1061.7 L1556.7,1062.4 L1557.6,1063.1 L1558.4,1063.8 L1559.3,1064.5 L1560.2,1065.1 L1561.1,1065.8 L1562.0,1066.5 L1562.9,1067.2 L1563.8,1067.9 L1564.7,1068.5 L1565.6,1069.2 L1566.5,1069.9 L1567.4,1070.5 L1568.4,1071.2 L1569.3,1071.9 L1570.2,1072.5 L1571.1,1073.2 L1572.0,1073.8 L1572.9,1074.5 L1573.9,1075.1 L1574.8,1075.7 L1575.7,1076.4 L1576.6,1077.0 L1577.6,1077.6 L1578.5,1078.3 L1579.4,1078.9 L1580.4,1079.5 L1581.3,1080.1 L1582.3,1080.8 L1583.2,1081.4 L1584.1,1082.0 L1585.1,1082.6 L1586.0,1083.2 L1587.0,1083.8 L1587.9,1084.4 L1588.9,1085.0 L1589.9,1085.6 L1590.8,1086.1 L1591.8,1086.7 L1592.7,1087.3 L1593.7,1087.9 L1594.7,1088.4 L1595.6,1089.0 L1596.6,1089.6 L1597.6,1090.1 L1598.6,1090.7 L1599.5,1091.3 L1600.5,1091.8 L1601.5,1092.4 L1602.5,1092.9 L1603.5,1093.4 L1604.5,1094.0 L1605.5,1094.5 L1606.5,1095.0 L1607.4,1095.6 L1608.4,1096.1 L1609.4,1096.6 L1610.4,1097.1 L1611.4,1097.6 L1612.4,1098.2 L1613.5,1098.7 L1614.5,1099.2 L1615.5,1099.7 L1616.5,1100.2 L1617.5,1100.7 L1618.5,1101.1 L1619.5,1101.6 L1620.5,1102.1 L1621.6,1102.6 L1622.6,1103.1 L1623.6,1103.5 L1624.6,1104.0 L1625.7,1104.5 L1626.7,1105.0 L1627.7,1105.4 L1628.7,1105.9 L1629.8,1106.3 L1630.8,1106.8 L1631.8,1107.2 L1632.9,1107.7 L1633.9,1108.1 L1635.0,1108.6 L1636.0,1109.0 L1637.0,1109.4 L1638.1,1109.9 L1639.1,1110.3 L1640.2,1110.7 L1641.2,1111.1 L1642.3,1111.5 L1643.3,1112.0 L1644.4,1112.4 L1645.4,1112.8 L1646.5,1113.2 L1647.6,1113.6 L1648.6,1114.0 L1649.7,1114.4 L1650.7,1114.8 L1651.8,1115.2 L1652.9,1115.6 L1653.9,1115.9 L1655.0,1116.3 L1656.0,1116.7 L1657.1,1117.1 L1658.2,1117.4 L1659.3,1117.8 L1660.3,1118.2 L1661.4,1118.6 L1662.5,1118.9 L1663.5,1119.3 L1664.6,1119.6 L1665.7,1120.0 L1666.8,1120.3 L1667.8,1120.7 L1668.9,1121.0 L1670.0,1121.4 L1671.1,1121.7 L1672.2,1122.1 L1673.2,1122.4 L1674.3,1122.7 L1675.4,1123.0 L1676.5,1123.4 L1677.6,1123.7 L1678.7,1124.0 L1679.7,1124.3 L1680.8,1124.7 L1681.9,1125.0 L1683.0,1125.3 L1684.1,1125.6 L1685.2,1125.9 L1686.3,1126.2 L1687.4,1126.5 L1688.5,1126.8 L1689.6,1127.1 L1690.6,1127.4 L1691.7,1127.7 L1692.8,1128.0 L1693.9,1128.3 L1695.0,1128.5 L1696.1,1128.8 L1697.2,1129.1 L1698.3,1129.4 L1699.4,1129.6 L1700.5,1129.9 L1701.6,1130.2 L1702.7,1130.5 L1703.8,1130.7 L1704.9,1131.0 L1706.0,1131.2 L1707.1,1131.5 L1708.2,1131.7 L1709.3,1132.0 L1710.4,1132.3 L1711.5,1132.5 L1712.6,1132.7 L1713.7,1133.0 L1714.8,1133.2 L1715.9,1133.5 L1717.0,1133.7 L1718.1,1133.9 L1719.2,1134.2 L1720.3,1134.4 L1721.4,1134.6 L1722.5,1134.9 L1723.6,1135.1 L1724.7,1135.3 L1725.8,1135.5 L1726.9,1135.7 L1728.0,1136.0 L1729.1,1136.2 L1730.2,1136.4 L1731.3,1136.6 L1732.4,1136.8 L1733.5,1137.0 L1734.6,1137.2 L1735.7,1137.4 L1736.9,1137.6 L1738.0,1137.8 L1739.1,1138.0 L1740.2,1138.2 L1741.3,1138.4 L1742.4,1138.6 L1743.5,1138.8 L1744.6,1139.0 L1745.7,1139.1 L1746.8,1139.3 L1747.9,1139.5 L1749.0,1139.7 L1750.1,1139.9 L1751.3,1140.0 L1752.4,1140.2 L1753.5,1140.4 L1754.6,1140.6 L1755.7,1140.7 L1756.8,1140.9 L1757.9,1141.1 L1759.0,1141.2 L1760.1,1141.4 L1761.3,1141.6 L1762.4,1141.7 L1763.5,1141.9 L1764.6,1142.1 L1765.7,1142.2 L1766.8,1142.4 L1767.9,1142.5 L1769.1,1142.7 L1770.2,1142.8 L1771.3,1143.0 L1772.4,1143.1 L1773.5,1143.3 L1774.6,1143.4 L1775.8,1143.6 L1776.9,1143.7 L1778.0,1143.9 L1779.1,1144.0 L1780.2,1144.1 L1781.4,1144.3 L1782.5,1144.4 L1783.6,1144.6 L1784.7,1144.7 L1785.9,1144.8 L1787.0,1145.0 L1788.1,1145.1 L1789.2,1145.3 L1790.3,1145.4 L1791.5,1145.6 L1792.6,1145.7 L1793.7,1145.9 L1794.8,1146.0 L1795.9,1146.2 L1797.0,1146.4 L1798.2,1146.6 L1799.3,1146.7 L1800.4,1146.9 L1801.5,1147.1 L1802.6,1147.3 L1803.7,1147.5 L1804.8,1147.8 L1805.9,1148.0 L1807.0,1148.2 L1808.1,1148.5 L1809.2,1148.7 L1810.3,1149.0 L1811.4,1149.3 L1812.5,1149.6 L1813.6,1149.9 L1814.7,1150.2 L1815.8,1150.5 L1816.8,1150.8 L1817.9,1151.2 L1819.0,1151.5 L1820.1,1151.9 L1821.1,1152.2 L1822.2,1152.6 L1823.3,1152.9 L1824.4,1153.3 L1825.4,1153.6 L1826.5,1154.0 L1827.6,1154.3 L1828.7,1154.6 L1829.8,1154.9 L1830.9,1155.1 L1831.9,1155.4 L1833.0,1155.6 L1834.1,1155.8 L1835.3,1156.0 L1836.4,1156.1 L1837.5,1156.2 L1838.6,1156.3 L1839.7,1156.3 L1840.9,1156.3 L1842.0,1156.3 L1843.2,1156.2 L1844.4,1156.1 L1845.5,1155.9" stroke="#EDB120"/>
<path d="M1327.7,755.3 L1329.0,755.2 L1330.3,755.0 L1331.5,754.9 L1332.7,754.9 L1334.0,754.9 L1335.2,754.9 L1336.4,755.0 L1337.6,755.1 L1338.7,755.3 L1339.9,755.5 L1341.1,755.7 L1342.2,755.9 L1343.3,756.2 L1344.4,756.6 L1345.5,756.9 L1346.6,757.3 L1347.7,757.7 L1348.7,758.1 L1349.8,758.6 L1350.8,759.1 L1351.9,759.6 L1352.9,760.2 L1353.9,760.7 L1354.9,761.3 L1355.8,761.9 L1356.8,762.6 L1357.8,763.2 L1358.7,763.9 L1359.7,764.6 L1360.6,765.3 L1361.5,766.0 L1362.4,766.8 L1363.3,767.5 L1364.2,768.3 L1365.0,769.1 L1365.9,769.9 L1366.8,770.7 L1367.6,771.6 L1368.4,772.4 L1369.3,773.3 L1370.1,774.1 L1370.9,775.0 L1371.7,775.9 L1372.4,776.7 L1373.2,777.6 L1374.0,778.5 L1374.7,779.4 L1375.5,780.3 L1376.2,781.2 L1377.0,782.2 L1377.7,783.1 L1378.4,784.0 L1379.1,785.0 L1379.8,785.9 L1380.5,786.8 L1381.2,787.8 L1381.9,788.7 L1382.6,789.7 L1383.2,790.7 L1383.9,791.6 L1384.6,792.6 L1385.2,793.6 L1385.9,794.6 L1386.6,795.5 L1387.2,796.5 L1387.9,797.5 L1388.5,798.5 L1389.1,799.5 L1389.8,800.5 L1390.4,801.5 L1391.0,802.4 L1391.7,803.4 L1392.3,804.4 L1392.9,805.4 L1393.6,806.4 L1394.2,807.4 L1394.8,808.4 L1395.5,809.4 L1396.1,810.4 L1396.7,811.4 L1397.4,812.4 L1398.0,813.4 L1398.6,814.4 L1399.3,815.4 L1399.9,816.4 L1400.5,817.4 L1401.1,818.4 L1401.8,819.3 L1402.4,820.3 L1403.0,821.3 L1403.7,822.3 L1404.3,823.3 L1404.9,824.3 L1405.5,825.3 L1406.2,826.3 L1406.8,827.3 L1407.4,828.3 L1408.0,829.3 L1408.7,830.3 L1409.3,831.3 L1409.9,832.3 L1410.5,833.3 L1411.2,834.2 L1411.8,835.2 L1412.4,836.2 L1413.0,837.2 L1413.6,838.2 L1414.2,839.2 L1414.9,840.2 L1415.5,841.2 L1416.1,842.2 L1416.7,843.2 L1417.3,844.2 L1417.9,845.2 L1418.5,846.2 L1419.1,847.2 L1419.7,848.3 L1420.3,849.3 L1420.9,850.3 L1421.5,851.3 L1422.1,852.3 L1422.7,853.3 L1423.3,854.3 L1423.8,855.3 L1424.4,856.3 L1425.0,857.4 L1425.6,858.4 L1426.2,859.4 L1426.7,860.4 L1427.3,861.4 L1427.9,862.5 L1428.5,863.5 L1429.0,864.5 L1429.6,865.5 L1430.1,866.6 L1430.7,867.6 L1431.2,868.6 L1431.8,869.7 L1432.3,870.7 L1432.9,871.7 L1433.4,872.8 L1434.0,873.8 L1434.5,874.8 L1435.0,875.9 L1435.6,876.9 L1436.1,878.0 L1436.6,879.0 L1437.1,880.1 L1437.6,881.1 L1438.2,882.2 L1438.7,883.3 L1439.2,884.3 L1439.7,885.4 L1440.2,886.4 L1440.7,887.5 L1441.2,888.6 L1441.7,889.6 L1442.1,890.7 L1442.6,891.8 L1443.1,892.8 L1443.6,893.9 L1444.1,895.0 L1444.6,896.1 L1445.0,897.1 L1445.5,898.2 L1446.0,899.3 L1446.4,900.4 L1446.9,901.5 L1447.4,902.5 L1447.9,903.6 L1448.3,904.7 L1448.8,905.8 L1449.2,906.9 L1449.7,908.0 L1450.2,909.1 L1450.6,910.1 L1451.1,911.2 L1451.5,912.3 L1452.0,913.4 L1452.4,914.5 L1452.9,915.6 L1453.4,916.7 L1453.8,917.8 L1454.3,918.9 L1454.7,920.0 L1455.2,921.0 L1455.6,922.1 L1456.1,923.2 L1456.5,924.3 L1457.0,925.4 L1457.4,926.5 L1457.9,927.6 L1458.3,928.7 L1458.8,929.8 L1459.3,930.9 L1459.7,931.9 L1460.2,933.0 L1460.6,934.1 L1461.1,935.2 L1461.5,936.3 L1462.0,937.4 L1462.5,938.5 L1462.9,939.6 L1463.4,940.6 L1463.9,941.7 L1464.3,942.8 L1464.8,943.9 L1465.3,945.0 L1465.7,946.0 L1466.2,947.1 L1466.7,948.2 L1467.2,949.3 L1467.7,950.4 L1468.1,951.4 L1468.6,952.5 L1469.1,953.6 L1469.6,954.6 L1470.1,955.7 L1470.6,956.8 L1471.1,957.8 L1471.6,958.9 L1472.1,960.0 L1472.6,961.0 L1473.1,962.1 L1473.6,963.1 L1474.1,964.2 L1474.7,965.2 L1475.2,966.3 L1475.7,967.3 L1476.2,968.4 L1476.8,969.4 L1477.3,970.5 L1477.9,971.5 L1478.4,972.6 L1479.0,973.6 L1479.5,974.6 L1480.1,975.7 L1480.6,976.7 L1481.2,977.7 L1481.8,978.7 L1482.3,979.8 L1482.9,980.8 L1483.5,981.8 L1484.1,982.8 L1484.7,983.8 L1485.3,984.8 L1485.9,985.8 L1486.5,986.8 L1487.1,987.8 L1487.7,988.8 L1488.3,989.8 L1489.0,990.8 L1489.6,991.8 L1490.2,992.8 L1490.9,993.8 L1491.5,994.8 L1492.2,995.7 L1492.8,996.7 L1493.5,997.7 L1494.1,998.7 L1494.8,999.6 L1495.4,1000.6 L1496.1,1001.5 L1496.8,1002.5 L1497.5,1003.5 L1498.1,1004.4 L1498.8,1005.4 L1499.5,1006.3 L1500.2,1007.3 L1500.9,1008.2 L1501.6,1009.1 L1502.3,1010.1 L1503.0,1011.0 L1503.8,1011.9 L1504.5,1012.9 L1505.2,1013.8 L1505.9,1014.7 L1506.6,1015.6 L1507.4,1016.5 L1508.1,1017.4 L1508.9,1018.4 L1509.6,1019.3 L1510.4,1020.2 L1511.1,1021.1 L1511.9,1022.0 L1512.6,1022.9 L1513.4,1023.7 L1514.2,1024.6 L1514.9,1025.5 L1515.7,1026.4 L1516.5,1027.3 L1517.3,1028.2 L1518.0,1029.0 L1518.8,1029.9 L1519.6,1030.8 L1520.4,1031.6 L1521.2,1032.5 L1522.0,1033.3 L1522.8,1034.2 L1523.6,1035.1 L1524.5,1035.9 L1525.3,1036.7 L1526.1,1037.6 L1526.9,1038.4 L1527.7,1039.3 L1528.6,1040.1 L1529.4,1040.9 L1530.2,1041.7 L1531.1,1042.6 L1531.9,1043.4 L1532.8,1044.2 L1533.6,1045.0 L1534.5,1045.8 L1535.3,1046.6 L1536.2,1047.4 L1537.1,1048.2 L1537.9,1049.0 L1538.8,1049.8 L1539.7,1050.6 L1540.5,1051.4 L1541.4,1052.2 L1542.3,1053.0 L1543.2,1053.7 L1544.1,1054.5 L1545.0,1055.3 L1545.8,1056.0 L1546.7,1056.8 L1547.6,1057.6 L1548.5,1058.3 L1549.4,1059.1 L1550.4,1059.8 L1551.3,1060.6 L1552.2,1061.3 L1553.1,1062.0 L1554.0,1062.8 L1554.9,1063.5 L1555.9,1064.2 L1556.8,1064.9 L1557.7,1065.7 L1558.7,1066.4 L1559.6,1067.1 L1560.5,1067.8 L1561.5,1068.5 L1562.4,1069.2 L1563.4,1069.9 L1564.3,1070.6 L1565.3,1071.3 L1566.2,1072.0 L1567.2,1072.7 L1568.1,1073.3 L1569.1,1074.0 L1570.1,1074.7 L1571.0,1075.4 L1572.0,1076.0 L1573.0,1076.7 L1573.9,1077.3 L1574.9,1078.0 L1575.9,1078.6 L1576.9,1079.3 L1577.9,1079.9 L1578.8,1080.6 L1579.8,1081.2 L1580.8,1081.8 L1581.8,1082.5 L1582.8,1083.1 L1583.8,1083.7 L1584.8,1084.3 L1585.8,1084.9 L1586.8,1085.5 L1587.8,1086.1 L1588.8,1086.7 L1589.8,1087.3 L1590.9,1087.9 L1591.9,1088.5 L1592.9,1089.1 L1593.9,1089.7 L1594.9,1090.2 L1596.0,1090.8 L1597.0,1091.4 L1598.0,1092.0 L1599.0,1092.5 L1600.1,1093.1 L1601.1,1093.6 L1602.1,1094.2 L1603.2,1094.7 L1604.2,1095.3 L1605.3,1095.8 L1606.3,1096.3 L1607.3,1096.9 L1608.4,1097.4 L1609.4,1097.9 L1610.5,1098.5 L1611.5,1099.0 L1612.6,1099.5 L1613.7,1100.0 L1614.7,1100.5 L1615.8,1101.0 L1616.8,1101.5 L1617.9,1102.0 L1619.0,1102.5 L1620.0,1103.0 L1621.1,1103.5 L1622.2,1104.0 L1623.2,1104.4 L1624.3,1104.9 L1625.4,1105.4 L1626.5,1105.9 L1627.5,1106.3 L1628.6,1106.8 L1629.7,1107.2 L1630.8,1107.7 L1631.9,1108.2 L1633.0,1108.6 L1634.0,1109.1 L1635.1,1109.5 L1636.2,1109.9 L1637.3,1110.4 L1638.4,1110.8 L1639.5,1111.2 L1640.6,1111.7 L1641.7,1112.1 L1642.8,1112.5 L1643.9,1112.9 L1645.0,1113.3 L1646.1,1113.7 L1647.2,1114.2 L1648.3,1114.6 L1649.4,1115.0 L1650.5,1115.4 L1651.6,1115.8 L1652.7,1116.2 L1653.8,1116.5 L1654.9,1116.9 L1656.1,1117.3 L1657.2,1117.7 L1658.3,1118.1 L1659.4,1118.4 L1660.5,1118.8 L1661.6,1119.2 L1662.8,1119.5 L1663.9,1119.9 L1665.0,1120.3 L1666.1,1120.6 L1667.2,1121.0 L1668.4,1121.3 L1669.5,1121.7 L1670.6,1122.0 L1671.7,1122.4 L1672.9,1122.7 L1674.0,1123.0 L1675.1,1123.4 L1676.3,1123.7 L1677.4,1124.0 L1678.5,1124.4 L1679.7,1124.7 L1680.8,1125.0 L1681.9,1125.3 L1683.1,1125.6 L1684.2,1125.9 L1685.3,1126.3 L1686.5,1126.6 L1687.6,1126.9 L1688.7,1127.2 L1689.9,1127.5 L1691.0,1127.8 L1692.2,1128.1 L1693.3,1128.3 L1694.4,1128.6 L1695.6,1128.9 L1696.7,1129.2 L1697.9,1129.5 L1699.0,1129.8 L1700.1,1130.0 L1701.3,1130.3 L1702.4,1130.6 L1703.6,1130.8 L1704.7,1131.1 L1705.9,1131.4 L1707.0,1131.6 L1708.2,1131.9 L1709.3,1132.1 L1710.5,1132.4 L1711.6,1132.6 L1712.8,1132.9 L1713.9,1133.1 L1715.0,1133.4 L1716.2,1133.6 L1717.3,1133.9 L1718.5,1134.1 L1719.6,1134.3 L1720.8,1134.6 L1721.9,1134.8 L1723.1,1135.0 L1724.2,1135.3 L1725.4,1135.5 L1726.6,1135.7 L1727.7,1135.9 L1728.9,1136.1 L1730.0,1136.3 L1731.2,1136.6 L1732.3,1136.8 L1733.5,1137.0 L1734.6,1137.2 L1735.8,1137.4 L1736.9,1137.6 L1738.1,1137.8 L1739.2,1138.0 L1740.4,1138.2 L1741.6,1138.4 L1742.7,1138.6 L1743.9,1138.8 L1745.0,1139.0 L1746.2,1139.2 L1747.3,1139.4 L1748.5,1139.5 L1749.7,1139.7 L1750.8,1139.9 L1752.0,1140.1 L1753.1,1140.3 L1754.3,1140.4 L1755.4,1140.6 L1756.6,1140.8 L1757.8,1141.0 L1758.9,1141.1 L1760.1,1141.3 L1761.2,1141.5 L1762.4,1141.7 L1763.6,1141.8 L1764.7,1142.0 L1765.9,1142.2 L1767.1,1142.3 L1768.2,1142.5 L1769.4,1142.6 L1770.5,1142.8 L1771.7,1143.0 L1772.9,1143.1 L1774.0,1143.3 L1775.2,1143.4 L1776.4,1143.6 L1777.5,1143.7 L1778.7,1143.9 L1779.9,1144.0 L1781.0,1144.2 L1782.2,1144.3 L1783.4,1144.5 L1784.5,1144.6 L1785.7,1144.8 L1786.9,1145.0 L1788.0,1145.1 L1789.2,1145.3 L1790.3,1145.4 L1791.5,1145.6 L1792.7,1145.8 L1793.8,1146.0 L1795.0,1146.2 L1796.1,1146.3 L1797.3,1146.5 L1798.5,1146.7 L1799.6,1146.9 L1800.8,1147.2 L1801.9,1147.4 L1803.1,1147.6 L1804.2,1147.8 L1805.4,1148.1 L1806.5,1148.3 L1807.7,1148.6 L1808.8,1148.9 L1809.9,1149.1 L1811.1,1149.4 L1812.2,1149.7 L1813.3,1150.0 L1814.5,1150.3 L1815.6,1150.7 L1816.7,1151.0 L1817.9,1151.3 L1819.0,1151.6 L1820.1,1152.0 L1821.3,1152.3 L1822.4,1152.6 L1823.5,1152.9 L1824.7,1153.2 L1825.8,1153.5 L1826.9,1153.8 L1828.1,1154.1 L1829.2,1154.4 L1830.3,1154.6 L1831.5,1154.9 L1832.6,1155.1 L1833.8,1155.3 L1834.9,1155.5 L1836.1,1155.7 L1837.2,1155.8 L1838.4,1156.0 L1839.6,1156.1 L1840.7,1156.2 L1841.9,1156.2 L1843.1,1156.2 L1844.3,1156.2 L1845.5,1156.2" stroke="#7E2F8E"/>
<path d="M1327.5,706.3 L1328.7,705.7 L1329.8,705.1 L1331.0,704.5 L1332.3,703.9 L1333.5,703.3 L1334.7,702.8 L1336.0,702.3 L1337.3,701.9 L1338.6,701.4 L1339.8,701.0 L1341.1,700.6 L1342.4,700.3 L1343.7,700.0 L1345.0,699.7 L1346.3,699.5 L1347.6,699.3 L1348.9,699.1 L1350.2,699.0 L1351.5,698.9 L1352.8,698.9 L1354.1,698.9 L1355.3,698.9 L1356.6,699.0 L1357.8,699.2 L1359.0,699.3 L1360.2,699.6 L1361.4,699.9 L1362.5,700.2 L1363.7,700.6 L1364.8,701.1 L1365.9,701.6 L1366.9,702.2 L1368.0,702.8 L1369.0,703.5 L1370.0,704.2 L1370.9,704.9 L1371.9,705.7 L1372.8,706.6 L1373.7,707.5 L1374.6,708.4 L1375.4,709.3 L1376.3,710.2 L1377.1,711.2 L1377.9,712.2 L1378.7,713.3 L1379.4,714.3 L1380.2,715.3 L1380.9,716.4 L1381.7,717.5 L1382.4,718.5 L1383.1,719.6 L1383.8,720.7 L1384.4,721.8 L1385.1,722.9 L1385.7,724.0 L1386.4,725.1 L1387.0,726.2 L1387.6,727.3 L1388.2,728.4 L1388.8,729.6 L1389.3,730.7 L1389.9,731.8 L1390.5,733.0 L1391.0,734.1 L1391.5,735.3 L1392.0,736.4 L1392.6,737.6 L1393.1,738.8 L1393.5,739.9 L1394.0,741.1 L1394.5,742.3 L1395.0,743.5 L1395.4,744.7 L1395.9,745.9 L1396.3,747.0 L1396.7,748.2 L1397.2,749.4 L1397.6,750.6 L1398.0,751.9 L1398.4,753.1 L1398.8,754.3 L1399.2,755.5 L1399.6,756.7 L1400.0,757.9 L1400.4,759.2 L1400.7,760.4 L1401.1,761.6 L1401.5,762.8 L1401.8,764.1 L1402.2,765.3 L1402.5,766.5 L1402.9,767.8 L1403.2,769.0 L1403.6,770.2 L1403.9,771.5 L1404.3,772.7 L1404.6,774.0 L1405.0,775.2 L1405.3,776.4 L1405.6,777.7 L1406.0,778.9 L1406.3,780.2 L1406.6,781.4 L1407.0,782.7 L1407.3,783.9 L1407.6,785.1 L1408.0,786.4 L1408.3,787.6 L1408.6,788.9 L1409.0,790.1 L1409.3,791.4 L1409.7,792.6 L1410.0,793.8 L1410.4,795.1 L1410.7,796.3 L1411.0,797.5 L1411.4,798.8 L1411.8,800.0 L1412.1,801.2 L1412.5,802.5 L1412.8,803.7 L1413.2,804.9 L1413.5,806.2 L1413.9,807.4 L1414.3,808.6 L1414.6,809.8 L1415.0,811.1 L1415.4,812.3 L1415.7,813.5 L1416.1,814.7 L1416.5,816.0 L1416.9,817.2 L1417.2,818.4 L1417.6,819.6 L1418.0,820.8 L1418.4,822.1 L1418.8,823.3 L1419.2,824.5 L1419.5,825.7 L1419.9,826.9 L1420.3,828.1 L1420.7,829.4 L1421.1,830.6 L1421.5,831.8 L1421.9,833.0 L1422.3,834.2 L1422.7,835.4 L1423.1,836.6 L1423.5,837.8 L1423.9,839.0 L1424.3,840.3 L1424.7,841.5 L1425.1,842.7 L1425.5,843.9 L1426.0,845.1 L1426.4,846.3 L1426.8,847.5 L1427.2,848.7 L1427.6,849.9 L1428.0,851.1 L1428.5,852.3 L1428.9,853.5 L1429.3,854.7 L1429.7,855.9 L1430.2,857.1 L1430.6,858.3 L1431.0,859.5 L1431.5,860.7 L1431.9,861.9 L1432.3,863.1 L1432.8,864.3 L1433.2,865.5 L1433.6,866.7 L1434.1,867.9 L1434.5,869.0 L1435.0,870.2 L1435.4,871.4 L1435.9,872.6 L1436.3,873.8 L1436.8,875.0 L1437.2,876.2 L1437.7,877.4 L1438.1,878.6 L1438.6,879.8 L1439.0,880.9 L1439.5,882.1 L1440.0,883.3 L1440.4,884.5 L1440.9,885.7 L1441.4,886.9 L1441.8,888.0 L1442.3,889.2 L1442.8,890.4 L1443.2,891.6 L1443.7,892.8 L1444.2,894.0 L1444.7,895.1 L1445.1,896.3 L1445.6,897.5 L1446.1,898.7 L1446.6,899.9 L1447.1,901.0 L1447.5,902.2 L1448.0,903.4 L1448.5,904.6 L1449.0,905.7 L1449.5,906.9 L1450.0,908.1 L1450.5,909.3 L1451.0,910.4 L1451.5,911.6 L1452.0,912.8 L1452.5,914.0 L1453.0,915.1 L1453.5,916.3 L1454.0,917.5 L1454.5,918.7 L1455.0,919.8 L1455.5,921.0 L1456.0,922.2 L1456.5,923.3 L1457.0,924.5 L1457.5,925.7 L1458.0,926.8 L1458.5,928.0 L1459.1,929.2 L1459.6,930.3 L1460.1,931.5 L1460.6,932.7 L1461.1,933.8 L1461.7,935.0 L1462.2,936.2 L1462.7,937.3 L1463.2,938.5 L1463.8,939.7 L1464.3,940.8 L1464.8,942.0 L1465.4,943.2 L1465.9,944.3 L1466.4,945.5 L1467.0,946.7 L1467.5,947.8 L1468.0,949.0 L1468.6,950.1 L1469.1,951.3 L1469.7,952.5 L1470.2,953.6 L1470.7,954.8 L1471.3,956.0 L1471.8,957.1 L1472.4,958.3 L1472.9,959.4 L1473.5,960.6 L1474.0,961.7 L1474.6,962.9 L1475.2,964.0 L1475.7,965.2 L1476.3,966.4 L1476.9,967.5 L1477.4,968.6 L1478.0,969.8 L1478.6,970.9 L1479.2,972.1 L1479.7,973.2 L1480.3,974.4 L1480.9,975.5 L1481.5,976.6 L1482.1,977.8 L1482.7,978.9 L1483.3,980.0 L1483.9,981.2 L1484.5,982.3 L1485.1,983.4 L1485.8,984.5 L1486.4,985.6 L1487.0,986.7 L1487.6,987.8 L1488.3,989.0 L1488.9,990.1 L1489.6,991.2 L1490.2,992.3 L1490.9,993.3 L1491.5,994.4 L1492.2,995.5 L1492.9,996.6 L1493.5,997.7 L1494.2,998.8 L1494.9,999.8 L1495.6,1000.9 L1496.3,1002.0 L1497.0,1003.0 L1497.7,1004.1 L1498.4,1005.1 L1499.1,1006.2 L1499.8,1007.2 L1500.6,1008.2 L1501.3,1009.3 L1502.0,1010.3 L1502.8,1011.3 L1503.6,1012.3 L1504.3,1013.4 L1505.1,1014.4 L1505.9,1015.4 L1506.6,1016.4 L1507.4,1017.4 L1508.2,1018.4 L1509.0,1019.3 L1509.8,1020.3 L1510.7,1021.3 L1511.5,1022.2 L1512.3,1023.2 L1513.2,1024.2 L1514.0,1025.1 L1514.9,1026.0 L1515.7,1027.0 L1516.6,1027.9 L1517.5,1028.8 L1518.4,1029.7 L1519.2,1030.7 L1520.1,1031.6 L1521.0,1032.5 L1522.0,1033.4 L1522.9,1034.3 L1523.8,1035.2 L1524.7,1036.0 L1525.6,1036.9 L1526.6,1037.8 L1527.5,1038.7 L1528.5,1039.6 L1529.4,1040.4 L1530.3,1041.3 L1531.3,1042.2 L1532.2,1043.0 L1533.2,1043.9 L1534.2,1044.7 L1535.1,1045.6 L1536.1,1046.4 L1537.0,1047.3 L1538.0,1048.2 L1539.0,1049.0 L1539.9,1049.9 L1540.9,1050.7 L1541.8,1051.6 L1542.8,1052.4 L1543.8,1053.2 L1544.7,1054.1 L1545.7,1054.9 L1546.7,1055.8 L1547.6,1056.6 L1548.6,1057.4 L1549.6,1058.3 L1550.6,1059.1 L1551.5,1059.9 L1552.5,1060.8 L1553.5,1061.6 L1554.5,1062.4 L1555.5,1063.2 L1556.4,1064.0 L1557.4,1064.8 L1558.4,1065.6 L1559.4,1066.4 L1560.4,1067.2 L1561.4,1068.0 L1562.4,1068.8 L1563.4,1069.6 L1564.4,1070.4 L1565.4,1071.1 L1566.5,1071.9 L1567.5,1072.7 L1568.5,1073.4 L1569.5,1074.2 L1570.6,1074.9 L1571.6,1075.6 L1572.6,1076.4 L1573.7,1077.1 L1574.7,1077.8 L1575.8,1078.5 L1576.8,1079.3 L1577.9,1080.0 L1578.9,1080.7 L1580.0,1081.4 L1581.1,1082.1 L1582.1,1082.7 L1583.2,1083.4 L1584.3,1084.1 L1585.4,1084.8 L1586.4,1085.4 L1587.5,1086.1 L1588.6,1086.8 L1589.7,1087.4 L1590.8,1088.0 L1591.9,1088.7 L1593.0,1089.3 L1594.1,1090.0 L1595.2,1090.6 L1596.3,1091.2 L1597.4,1091.8 L1598.5,1092.4 L1599.7,1093.0 L1600.8,1093.7 L1601.9,1094.3 L1603.0,1094.8 L1604.2,1095.4 L1605.3,1096.0 L1606.4,1096.6 L1607.6,1097.2 L1608.7,1097.7 L1609.8,1098.3 L1611.0,1098.9 L1612.1,1099.4 L1613.3,1100.0 L1614.4,1100.5 L1615.6,1101.1 L1616.7,1101.6 L1617.9,1102.2 L1619.0,1102.7 L1620.2,1103.2 L1621.4,1103.7 L1622.5,1104.3 L1623.7,1104.8 L1624.9,1105.3 L1626.0,1105.8 L1627.2,1106.3 L1628.4,1106.8 L1629.6,1107.3 L1630.8,1107.8 L1631.9,1108.3 L1633.1,1108.8 L1634.3,1109.2 L1635.5,1109.7 L1636.7,1110.2 L1637.9,1110.6 L1639.1,1111.1 L1640.3,1111.6 L1641.5,1112.0 L1642.7,1112.5 L1643.9,1112.9 L1645.1,1113.4 L1646.3,1113.8 L1647.5,1114.2 L1648.7,1114.7 L1649.9,1115.1 L1651.1,1115.5 L1652.3,1116.0 L1653.5,1116.4 L1654.7,1116.8 L1655.9,1117.2 L1657.1,1117.6 L1658.4,1118.0 L1659.6,1118.4 L1660.8,1118.8 L1662.0,1119.2 L1663.2,1119.6 L1664.5,1120.0 L1665.7,1120.4 L1666.9,1120.8 L1668.1,1121.1 L1669.4,1121.5 L1670.6,1121.9 L1671.8,1122.3 L1673.0,1122.6 L1674.3,1123.0 L1675.5,1123.3 L1676.7,1123.7 L1678.0,1124.1 L1679.2,1124.4 L1680.4,1124.7 L1681.7,1125.1 L1682.9,1125.4 L1684.1,1125.8 L1685.4,1126.1 L1686.6,1126.4 L1687.8,1126.8 L1689.1,1127.1 L1690.3,1127.4 L1691.6,1127.7 L1692.8,1128.1 L1694.0,1128.4 L1695.3,1128.7 L1696.5,1129.0 L1697.8,1129.3 L1699.0,1129.6 L1700.2,1129.9 L1701.5,1130.2 L1702.7,1130.5 L1704.0,1130.8 L1705.2,1131.1 L1706.4,1131.4 L1707.7,1131.7 L1708.9,1132.0 L1710.2,1132.3 L1711.4,1132.5 L1712.6,1132.8 L1713.9,1133.1 L1715.1,1133.4 L1716.4,1133.6 L1717.6,1133.9 L1718.9,1134.2 L1720.1,1134.4 L1721.4,1134.7 L1722.6,1134.9 L1723.8,1135.2 L1725.1,1135.5 L1726.3,1135.7 L1727.6,1135.9 L1728.8,1136.2 L1730.1,1136.4 L1731.3,1136.7 L1732.6,1136.9 L1733.8,1137.1 L1735.1,1137.4 L1736.3,1137.6 L1737.6,1137.8 L1738.8,1138.1 L1740.1,1138.3 L1741.3,1138.5 L1742.6,1138.7 L1743.8,1138.9 L1745.1,1139.1 L1746.3,1139.4 L1747.6,1139.6 L1748.8,1139.8 L1750.1,1140.0 L1751.4,1140.2 L1752.6,1140.4 L1753.9,1140.6 L1755.1,1140.8 L1756.4,1140.9 L1757.6,1141.1 L1758.9,1141.3 L1760.2,1141.5 L1761.4,1141.7 L1762.7,1141.9 L1763.9,1142.0 L1765.2,1142.2 L1766.5,1142.4 L1767.7,1142.5 L1769.0,1142.7 L1770.3,1142.9 L1771.5,1143.0 L1772.8,1143.2 L1774.1,1143.3 L1775.3,1143.5 L1776.6,1143.6 L1777.9,1143.8 L1779.2,1143.9 L1780.4,1144.1 L1781.7,1144.2 L1783.0,1144.4 L1784.2,1144.5 L1785.5,1144.7 L1786.8,1144.8 L1788.1,1145.0 L1789.3,1145.1 L1790.6,1145.3 L1791.9,1145.5 L1793.1,1145.7 L1794.4,1145.8 L1795.7,1146.0 L1796.9,1146.2 L1798.2,1146.4 L1799.5,1146.6 L1800.7,1146.9 L1802.0,1147.1 L1803.2,1147.4 L1804.5,1147.6 L1805.7,1147.9 L1807.0,1148.2 L1808.2,1148.5 L1809.4,1148.8 L1810.7,1149.1 L1811.9,1149.5 L1813.1,1149.8 L1814.3,1150.2 L1815.6,1150.6 L1816.8,1151.0 L1818.0,1151.4 L1819.2,1151.7 L1820.4,1152.1 L1821.7,1152.5 L1822.9,1152.9 L1824.1,1153.3 L1825.3,1153.6 L1826.5,1154.0 L1827.8,1154.3 L1829.0,1154.6 L1830.2,1154.9 L1831.5,1155.2 L1832.7,1155.4 L1834.0,1155.7 L1835.2,1155.8 L1836.5,1156.0 L1837.7,1156.1 L1839.0,1156.2 L1840.3,1156.3 L1841.6,1156.3 L1842.9,1156.2 L1844.2,1156.1 L1845.5,1156.0" stroke="#77AC30"/>
</g>
<text x="1584.7" y="690.6" text-anchor="middle" class="ti" textLength="349" lengthAdjust="spacingAndGlyphs">KINETIC P WITH FAST IONS</text>
<text x="1568.7" y="1202.9" class="rho">&#961;</text>
<text x="1579.5" y="1213.6" class="sub" textLength="21.6" lengthAdjust="spacingAndGlyphs">tor</text>
<text transform="translate(1289,926.8) rotate(-90)" text-anchor="middle" class="yl" textLength="27" lengthAdjust="spacingAndGlyphs">Pa</text>
<text x="1325.4" y="694.9" class="mu"><tspan fill="#8a8a8a" font-size="17px" dy="0.6">&#215;</tspan><tspan x="1337.6" dy="-0.6">10</tspan><tspan dy="-7.2" dx="1.8" font-size="14.2px">4</tspan></text>
<rect x="1621.5" y="714.8" width="207.7" height="149.2" fill="#fff" stroke="#555" stroke-width="1.3"/>
<line x1="1631.0" y1="731.7" x2="1677.8" y2="731.7" stroke="#0072BD" stroke-width="2.8"/>
<text x="1683.1" y="739.1" class="lg" textLength="85.7" lengthAdjust="spacingAndGlyphs">NBI only</text>
<line x1="1631.0" y1="760.5" x2="1677.8" y2="760.5" stroke="#D95319" stroke-width="2.8"/>
<text x="1683.1" y="767.9" class="lg" textLength="109.5" lengthAdjust="spacingAndGlyphs">n(H)=0.1%</text>
<line x1="1631.0" y1="789.3" x2="1677.8" y2="789.3" stroke="#EDB120" stroke-width="2.8"/>
<text x="1683.1" y="796.7" class="lg" textLength="137.3" lengthAdjust="spacingAndGlyphs">n(H)=1% (ref)</text>
<line x1="1631.0" y1="818.1" x2="1677.8" y2="818.1" stroke="#7E2F8E" stroke-width="2.8"/>
<text x="1683.1" y="825.5" class="lg" textLength="89.1" lengthAdjust="spacingAndGlyphs">n(H)=5%</text>
<line x1="1631.0" y1="846.9" x2="1677.8" y2="846.9" stroke="#77AC30" stroke-width="2.8"/>
<text x="1683.1" y="854.3" class="lg" textLength="102.5" lengthAdjust="spacingAndGlyphs">n(H)=10%</text>
</svg></body></html>
